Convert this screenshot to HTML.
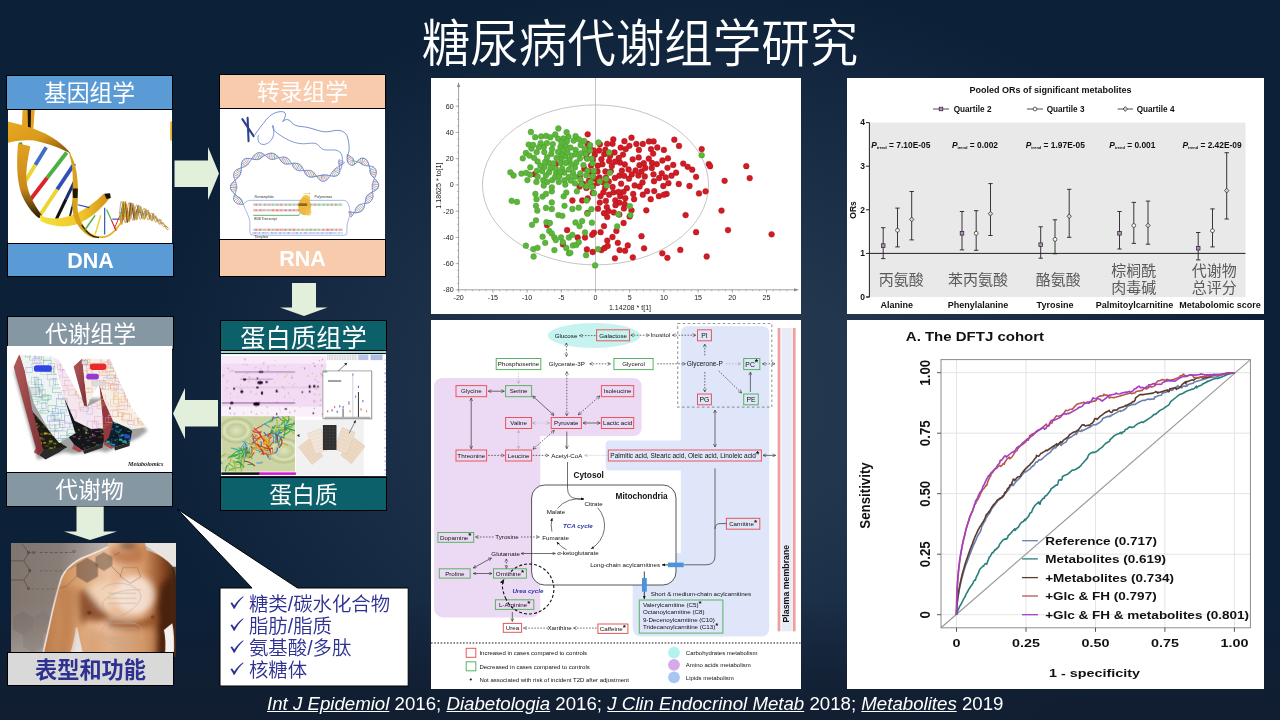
<!DOCTYPE html>
<html lang="zh">
<head>
<meta charset="utf-8">
<title>糖尿病代谢组学研究</title>
<style>
html,body{margin:0;padding:0;}
body{width:1280px;height:720px;overflow:hidden;position:relative;
 font-family:"Liberation Sans","Noto Sans CJK SC",sans-serif;
 background:
  linear-gradient(to bottom, rgba(18,30,48,0) 0, rgba(18,30,48,0) 600px, rgba(18,30,48,.85) 700px),
  radial-gradient(ellipse 560px 420px at 700px 400px, #24384f 0, #22364e 30%, #162a43 70%, #0c2038 100%);
 background-color:#0c2038;}
.abs{position:absolute;box-sizing:border-box;}
.box{position:absolute;box-sizing:border-box;border:1px solid #000;color:#fff;text-align:center;
 font-family:"Liberation Sans","Noto Sans CJK SC",sans-serif;white-space:nowrap;}
.cn{font-size:22.8px;}
.en{font-size:21.5px;font-weight:bold;}
.img{position:absolute;background:#fff;overflow:hidden;}
.panel{position:absolute;background:#fff;overflow:hidden;}
#title{position:absolute;left:0;top:12px;width:1280px;text-align:center;color:#fff;
 font-size:48.5px;font-weight:350;line-height:64px;white-space:nowrap;transform:scaleY(1.06);transform-origin:50% 50%;}
#cap{position:absolute;left:267px;top:693px;color:#fff;font-size:18.67px;line-height:22px;white-space:nowrap;}
#cap i{text-decoration:underline;}
</style>
</head>
<body>
<div id="title">糖尿病代谢组学研究</div>

<!-- LEFT COLUMN -->
<div class="box cn" style="left:6px;top:75px;width:167px;height:35px;background:#5b9bd5;line-height:34px;">基因组学</div>
<div class="img" id="img-dna" style="left:8px;top:110px;width:164px;height:134px;"><svg width="164" height="134" viewBox="15.65 10.44 855.75 699.21" style="position:absolute;left:0;top:0;">
<defs>
<linearGradient id="gd1" x1="0" y1="0" x2="1" y2="1"><stop offset="0" stop-color="#e9a820"/><stop offset="0.5" stop-color="#d99a1c"/><stop offset="1" stop-color="#7a4a08"/></linearGradient>
<linearGradient id="gd2" x1="0" y1="0" x2="0" y2="1"><stop offset="0" stop-color="#e2a11e"/><stop offset="0.6" stop-color="#c98a1a"/><stop offset="1" stop-color="#2a1a05"/></linearGradient>
<linearGradient id="gd3" x1="0" y1="0" x2="1" y2="0"><stop offset="0" stop-color="#f3e23a"/><stop offset="0.6" stop-color="#f0c52a"/><stop offset="1" stop-color="#d28f18"/></linearGradient>
</defs>
<path d="M92 10 L155 10 L148 110 L88 100z" fill="#e4a21e"/>
<path d="M118 10 L136 10 L134 105 L120 100z" fill="#1a1208"/>
<line x1="80" y1="180" x2="90" y2="230" stroke="#3aa63a" stroke-width="18"/>
<line x1="90" y1="230" x2="100" y2="280" stroke="#d8262c" stroke-width="18"/>
<line x1="215" y1="205" x2="158" y2="298" stroke="#3f6fc4" stroke-width="20"/>
<line x1="158" y1="298" x2="100" y2="392" stroke="#ecd531" stroke-width="20"/>
<line x1="322" y1="232" x2="220" y2="364" stroke="#4cb043" stroke-width="20"/>
<line x1="220" y1="364" x2="118" y2="497" stroke="#de2229" stroke-width="20"/>
<line x1="362" y1="290" x2="272" y2="425" stroke="#2f50b8" stroke-width="20"/>
<line x1="272" y1="425" x2="182" y2="560" stroke="#ecd531" stroke-width="20"/>
<line x1="368" y1="372" x2="318" y2="476" stroke="#1c2f7a" stroke-width="16"/>
<line x1="318" y1="476" x2="268" y2="580" stroke="#111111" stroke-width="16"/>
<line x1="372" y1="430" x2="351" y2="515" stroke="#2a8a3a" stroke-width="10"/>
<line x1="351" y1="515" x2="330" y2="600" stroke="#222222" stroke-width="10"/>
<path d="M68 185 C58 300 62 410 100 480 C125 525 150 555 178 575 L192 560 C150 500 120 450 112 380 C108 320 120 260 132 200z" fill="url(#gd2)"/>
<path d="M182 558 C260 598 380 580 515 448 L548 468 C440 605 320 655 185 590z" fill="url(#gd3)"/>
<path d="M518 448 L548 445 L552 470 L530 475z" fill="#1a1006"/>
<path d="M15 70 C120 95 260 130 345 240 C300 215 230 185 150 170 C100 165 50 172 15 182z" fill="url(#gd1)"/>
<path d="M335 232 C385 300 385 430 378 520 C380 580 420 650 480 672 L470 680 C400 660 355 590 352 520 C350 430 365 330 335 240z" fill="#d9a01c"/>
<path d="M352 420 L380 420 L378 470 L355 470z" fill="#20160a"/>
<path d="M400 610 C430 660 470 680 520 672 C560 665 610 610 640 520" fill="none" stroke="#e2b21e" stroke-width="9"/>
<path d="M400 610 C430 660 460 676 490 676" fill="none" stroke="#1a1208" stroke-width="6"/>
<line x1="380" y1="505" x2="410" y2="512" stroke="#2f50b8" stroke-width="6"/>
<line x1="410" y1="512" x2="440" y2="520" stroke="#2f50b8" stroke-width="6"/>
<line x1="470" y1="560" x2="442" y2="600" stroke="#4cb043" stroke-width="8"/>
<line x1="442" y1="600" x2="415" y2="640" stroke="#4cb043" stroke-width="8"/>
<line x1="500" y1="560" x2="485" y2="610" stroke="#ecd531" stroke-width="8"/>
<line x1="485" y1="610" x2="470" y2="660" stroke="#ecd531" stroke-width="8"/>
<line x1="520" y1="520" x2="520" y2="590" stroke="#2f50b8" stroke-width="6"/>
<line x1="520" y1="590" x2="520" y2="660" stroke="#2f50b8" stroke-width="6"/>
<line x1="530" y1="530" x2="555" y2="585" stroke="#4cb043" stroke-width="6"/>
<line x1="555" y1="585" x2="580" y2="640" stroke="#de2229" stroke-width="6"/>
<line x1="560" y1="580" x2="590" y2="580" stroke="#2f50b8" stroke-width="6"/>
<line x1="590" y1="580" x2="620" y2="580" stroke="#2f50b8" stroke-width="6"/>
<line x1="600" y1="560" x2="585" y2="595" stroke="#de2229" stroke-width="5"/>
<line x1="585" y1="595" x2="570" y2="630" stroke="#de2229" stroke-width="5"/>
<line x1="598" y1="548" x2="608" y2="548" stroke="#de2229" stroke-width="5.5" opacity="0.95"/>
<line x1="601" y1="575" x2="611" y2="520" stroke="#4cb043" stroke-width="5.5" opacity="0.94"/>
<line x1="604" y1="596" x2="614" y2="498" stroke="#2f50b8" stroke-width="5.4" opacity="0.94"/>
<line x1="606" y1="607" x2="616" y2="487" stroke="#ecd531" stroke-width="5.4" opacity="0.93"/>
<line x1="609" y1="606" x2="619" y2="487" stroke="#c98a1a" stroke-width="5.3" opacity="0.93"/>
<line x1="612" y1="593" x2="622" y2="499" stroke="#222222" stroke-width="5.3" opacity="0.92"/>
<line x1="615" y1="571" x2="625" y2="520" stroke="#de2229" stroke-width="5.3" opacity="0.92"/>
<line x1="618" y1="545" x2="628" y2="546" stroke="#4cb043" stroke-width="5.2" opacity="0.91"/>
<line x1="621" y1="520" x2="631" y2="570" stroke="#2f50b8" stroke-width="5.2" opacity="0.91"/>
<line x1="623" y1="500" x2="633" y2="589" stroke="#ecd531" stroke-width="5.1" opacity="0.90"/>
<line x1="626" y1="490" x2="636" y2="599" stroke="#c98a1a" stroke-width="5.1" opacity="0.90"/>
<line x1="629" y1="491" x2="639" y2="598" stroke="#222222" stroke-width="5.1" opacity="0.89"/>
<line x1="632" y1="502" x2="642" y2="586" stroke="#de2229" stroke-width="5.0" opacity="0.89"/>
<line x1="635" y1="521" x2="645" y2="566" stroke="#4cb043" stroke-width="5.0" opacity="0.88"/>
<line x1="638" y1="544" x2="648" y2="543" stroke="#2f50b8" stroke-width="4.9" opacity="0.88"/>
<line x1="640" y1="566" x2="650" y2="520" stroke="#ecd531" stroke-width="4.9" opacity="0.87"/>
<line x1="643" y1="583" x2="653" y2="503" stroke="#c98a1a" stroke-width="4.9" opacity="0.87"/>
<line x1="646" y1="592" x2="656" y2="494" stroke="#222222" stroke-width="4.8" opacity="0.86"/>
<line x1="649" y1="591" x2="659" y2="495" stroke="#de2229" stroke-width="4.8" opacity="0.86"/>
<line x1="652" y1="580" x2="662" y2="505" stroke="#4cb043" stroke-width="4.8" opacity="0.85"/>
<line x1="655" y1="563" x2="665" y2="522" stroke="#2f50b8" stroke-width="4.7" opacity="0.85"/>
<line x1="657" y1="542" x2="667" y2="543" stroke="#ecd531" stroke-width="4.7" opacity="0.84"/>
<line x1="660" y1="522" x2="670" y2="563" stroke="#c98a1a" stroke-width="4.6" opacity="0.84"/>
<line x1="663" y1="507" x2="673" y2="578" stroke="#222222" stroke-width="4.6" opacity="0.83"/>
<line x1="666" y1="499" x2="676" y2="586" stroke="#de2229" stroke-width="4.6" opacity="0.83"/>
<line x1="669" y1="500" x2="679" y2="585" stroke="#4cb043" stroke-width="4.5" opacity="0.82"/>
<line x1="672" y1="510" x2="682" y2="576" stroke="#2f50b8" stroke-width="4.5" opacity="0.82"/>
<line x1="674" y1="525" x2="684" y2="561" stroke="#ecd531" stroke-width="4.4" opacity="0.81"/>
<line x1="677" y1="544" x2="687" y2="542" stroke="#c98a1a" stroke-width="4.4" opacity="0.81"/>
<line x1="680" y1="562" x2="690" y2="525" stroke="#222222" stroke-width="4.4" opacity="0.80"/>
<line x1="683" y1="575" x2="693" y2="512" stroke="#de2229" stroke-width="4.3" opacity="0.80"/>
<line x1="686" y1="582" x2="696" y2="505" stroke="#4cb043" stroke-width="4.3" opacity="0.79"/>
<line x1="689" y1="581" x2="699" y2="507" stroke="#2f50b8" stroke-width="4.2" opacity="0.79"/>
<line x1="691" y1="573" x2="701" y2="515" stroke="#ecd531" stroke-width="4.2" opacity="0.78"/>
<line x1="694" y1="560" x2="704" y2="529" stroke="#c98a1a" stroke-width="4.2" opacity="0.78"/>
<line x1="697" y1="544" x2="707" y2="546" stroke="#222222" stroke-width="4.1" opacity="0.77"/>
<line x1="700" y1="529" x2="710" y2="562" stroke="#de2229" stroke-width="4.1" opacity="0.77"/>
<line x1="703" y1="518" x2="713" y2="574" stroke="#4cb043" stroke-width="4.0" opacity="0.76"/>
<line x1="706" y1="513" x2="716" y2="580" stroke="#2f50b8" stroke-width="4.0" opacity="0.76"/>
<line x1="708" y1="515" x2="718" y2="580" stroke="#ecd531" stroke-width="4.0" opacity="0.75"/>
<line x1="711" y1="523" x2="721" y2="573" stroke="#c98a1a" stroke-width="3.9" opacity="0.75"/>
<line x1="714" y1="535" x2="724" y2="562" stroke="#222222" stroke-width="3.9" opacity="0.74"/>
<line x1="717" y1="550" x2="727" y2="548" stroke="#de2229" stroke-width="3.8" opacity="0.74"/>
<line x1="720" y1="564" x2="730" y2="536" stroke="#4cb043" stroke-width="3.8" opacity="0.73"/>
<line x1="723" y1="575" x2="733" y2="527" stroke="#2f50b8" stroke-width="3.8" opacity="0.73"/>
<line x1="725" y1="580" x2="735" y2="523" stroke="#ecd531" stroke-width="3.7" opacity="0.72"/>
<line x1="728" y1="580" x2="738" y2="525" stroke="#c98a1a" stroke-width="3.7" opacity="0.72"/>
<line x1="731" y1="574" x2="741" y2="532" stroke="#222222" stroke-width="3.7" opacity="0.71"/>
<line x1="734" y1="565" x2="744" y2="543" stroke="#de2229" stroke-width="3.6" opacity="0.71"/>
<line x1="737" y1="554" x2="747" y2="556" stroke="#4cb043" stroke-width="3.6" opacity="0.70"/>
<line x1="740" y1="544" x2="750" y2="568" stroke="#2f50b8" stroke-width="3.5" opacity="0.70"/>
<line x1="742" y1="537" x2="752" y2="577" stroke="#ecd531" stroke-width="3.5" opacity="0.69"/>
<line x1="745" y1="534" x2="755" y2="582" stroke="#c98a1a" stroke-width="3.5" opacity="0.69"/>
<line x1="748" y1="536" x2="758" y2="583" stroke="#222222" stroke-width="3.4" opacity="0.68"/>
<line x1="751" y1="543" x2="761" y2="578" stroke="#de2229" stroke-width="3.4" opacity="0.68"/>
<line x1="754" y1="553" x2="764" y2="571" stroke="#4cb043" stroke-width="3.3" opacity="0.67"/>
<line x1="757" y1="564" x2="767" y2="563" stroke="#2f50b8" stroke-width="3.3" opacity="0.67"/>
<line x1="759" y1="575" x2="769" y2="555" stroke="#ecd531" stroke-width="3.3" opacity="0.66"/>
<line x1="762" y1="583" x2="772" y2="549" stroke="#c98a1a" stroke-width="3.2" opacity="0.66"/>
<line x1="765" y1="587" x2="775" y2="548" stroke="#222222" stroke-width="3.2" opacity="0.65"/>
<line x1="768" y1="588" x2="778" y2="550" stroke="#de2229" stroke-width="3.1" opacity="0.65"/>
<line x1="771" y1="585" x2="781" y2="556" stroke="#4cb043" stroke-width="3.1" opacity="0.64"/>
<line x1="774" y1="579" x2="784" y2="565" stroke="#2f50b8" stroke-width="3.1" opacity="0.64"/>
<line x1="776" y1="573" x2="786" y2="574" stroke="#ecd531" stroke-width="3.0" opacity="0.63"/>
<line x1="779" y1="567" x2="789" y2="583" stroke="#c98a1a" stroke-width="3.0" opacity="0.63"/>
<line x1="782" y1="564" x2="792" y2="590" stroke="#222222" stroke-width="2.9" opacity="0.62"/>
<line x1="785" y1="563" x2="795" y2="594" stroke="#de2229" stroke-width="2.9" opacity="0.62"/>
<line x1="788" y1="566" x2="798" y2="595" stroke="#4cb043" stroke-width="2.9" opacity="0.61"/>
<line x1="791" y1="571" x2="801" y2="594" stroke="#2f50b8" stroke-width="2.8" opacity="0.61"/>
<line x1="793" y1="579" x2="803" y2="590" stroke="#ecd531" stroke-width="2.8" opacity="0.60"/>
<line x1="796" y1="587" x2="806" y2="586" stroke="#c98a1a" stroke-width="2.7" opacity="0.60"/>
<line x1="799" y1="594" x2="809" y2="582" stroke="#222222" stroke-width="2.7" opacity="0.59"/>
<line x1="802" y1="600" x2="812" y2="580" stroke="#de2229" stroke-width="2.7" opacity="0.59"/>
<line x1="805" y1="604" x2="815" y2="580" stroke="#4cb043" stroke-width="2.6" opacity="0.58"/>
<line x1="808" y1="606" x2="818" y2="583" stroke="#2f50b8" stroke-width="2.6" opacity="0.58"/>
<line x1="810" y1="605" x2="820" y2="588" stroke="#ecd531" stroke-width="2.6" opacity="0.57"/>
<line x1="813" y1="603" x2="823" y2="595" stroke="#c98a1a" stroke-width="2.5" opacity="0.57"/>
<line x1="816" y1="600" x2="826" y2="601" stroke="#222222" stroke-width="2.5" opacity="0.56"/>
<line x1="819" y1="599" x2="829" y2="608" stroke="#de2229" stroke-width="2.4" opacity="0.56"/>
<line x1="822" y1="598" x2="832" y2="613" stroke="#4cb043" stroke-width="2.4" opacity="0.55"/>
<line x1="825" y1="599" x2="835" y2="617" stroke="#2f50b8" stroke-width="2.4" opacity="0.55"/>
<line x1="827" y1="602" x2="837" y2="619" stroke="#ecd531" stroke-width="2.3" opacity="0.54"/>
<line x1="830" y1="607" x2="840" y2="619" stroke="#c98a1a" stroke-width="2.3" opacity="0.54"/>
<line x1="833" y1="612" x2="843" y2="618" stroke="#222222" stroke-width="2.2" opacity="0.53"/>
<line x1="836" y1="618" x2="846" y2="618" stroke="#de2229" stroke-width="2.2" opacity="0.53"/>
<line x1="839" y1="624" x2="849" y2="617" stroke="#4cb043" stroke-width="2.2" opacity="0.52"/>
<line x1="842" y1="629" x2="852" y2="618" stroke="#2f50b8" stroke-width="2.1" opacity="0.52"/>
<line x1="844" y1="632" x2="854" y2="619" stroke="#ecd531" stroke-width="2.1" opacity="0.51"/>
<line x1="847" y1="634" x2="857" y2="623" stroke="#c98a1a" stroke-width="2.0" opacity="0.51"/>
<line x1="850" y1="636" x2="860" y2="627" stroke="#222222" stroke-width="2.0" opacity="0.50"/>
<path d="M598 548 L600 564 L601 578 L603 590 L604 600 L606 606 L608 608 L609 606 L611 601 L612 592 L614 581 L615 567 L617 553 L619 538 L620 524 L622 511 L623 501 L625 494 L627 490 L628 489 L630 492 L631 498 L633 507 L634 518 L636 531 L638 544 L639 557 L641 568 L642 578 L644 586 L646 591 L647 592 L649 591 L650 587 L652 580 L653 570 L655 560 L657 548 L658 536 L660 525 L661 515 L663 507 L665 502 L666 499 L668 499 L669 501 L671 506 L672 514 L674 523 L676 533 L677 544 L679 554 L680 563 L682 571 L684 577 L685 581 L687 583 L688 582 L690 578 L692 573 L693 566 L695 558 L696 549 L698 540 L699 532 L701 525 L703 519 L704 515 L706 513 L707 513 L709 516 L711 520 L712 526 L714 533 L715 541 L717 550 L718 558 L720 565 L722 571 L723 576 L725 579 L726 581 L728 580 L730 578 L731 574 L733 569 L734 564 L736 558 L737 552 L739 546 L741 541 L742 537 L744 535 L745 534 L747 535 L749 537 L750 541 L752 546 L753 551 L755 557 L756 564 L758 570 L760 575 L761 580 L763 584 L764 587 L766 588 L768 588 L769 587 L771 585 L772 582 L774 578 L776 575 L777 571 L779 568 L780 566 L782 564 L783 563 L785 563 L787 564 L788 566 L790 569 L791 573 L793 577 L795 582 L796 587 L798 591 L799 595 L801 599 L802 601 L804 604 L806 605 L807 606 L809 606 L810 605 L812 604 L814 603 L815 601 L817 600 L818 599 L820 598 L821 598 L823 598 L825 599 L826 601 L828 603 L829 605 L831 608 L833 611 L834 615 L836 618 L837 621 L839 624 L840 627 L842 629 L844 631 L845 633 L847 634 L848 635 L850 636" fill="none" stroke="#d9a01c" stroke-width="6" opacity="0.75"/>
<path d="M598 548 L600 532 L601 517 L603 504 L604 495 L606 488 L608 486 L609 487 L611 492 L612 500 L614 511 L615 524 L617 538 L619 553 L620 566 L622 579 L623 588 L625 595 L627 599 L628 599 L630 596 L631 590 L633 580 L634 569 L636 556 L638 543 L639 530 L641 518 L642 508 L644 500 L646 495 L647 493 L649 494 L650 499 L652 506 L653 515 L655 525 L657 537 L658 549 L660 560 L661 570 L663 578 L665 583 L666 586 L668 587 L669 584 L671 579 L672 572 L674 563 L676 553 L677 542 L679 532 L680 523 L682 515 L684 510 L685 506 L687 505 L688 506 L690 510 L692 516 L693 523 L695 532 L696 541 L698 550 L699 559 L701 567 L703 573 L704 578 L706 580 L707 581 L709 579 L711 575 L712 570 L714 563 L715 556 L717 549 L718 541 L720 535 L722 529 L723 525 L725 523 L726 523 L728 524 L730 527 L731 532 L733 538 L734 545 L736 552 L737 559 L739 566 L741 572 L742 577 L744 581 L745 583 L747 583 L749 582 L750 580 L752 576 L753 572 L755 568 L756 563 L758 558 L760 554 L761 551 L763 549 L764 548 L766 548 L768 550 L769 552 L771 556 L772 561 L774 566 L776 571 L777 577 L779 582 L780 586 L782 590 L783 593 L785 595 L787 595 L788 595 L790 594 L791 593 L793 591 L795 588 L796 586 L798 583 L799 582 L801 580 L802 580 L804 580 L806 581 L807 583 L809 585 L810 588 L812 592 L814 595 L815 599 L817 603 L818 607 L820 610 L821 613 L823 615 L825 617 L826 618 L828 619 L829 619 L831 619 L833 618 L834 618 L836 618 L837 617 L839 617 L840 617 L842 618 L844 619 L845 620 L847 622 L848 624 L850 627" fill="none" stroke="#8a5a10" stroke-width="5" opacity="0.55"/>
<rect x="862" y="70" width="12" height="100" fill="#e9b02a"/>
</svg></div>
<div class="box en" style="left:7px;top:243px;width:167px;height:34px;background:#5b9bd5;line-height:35px;">DNA</div>

<div class="box cn" style="left:219px;top:74px;width:167px;height:35px;background:#f8cbad;line-height:34px;">转录组学</div>
<div class="img" id="img-rna" style="left:220px;top:109px;width:165px;height:131px;"><svg width="165" height="131" viewBox="10.67 10.67 880.27 698.88" style="position:absolute;left:0;top:0;font-family:'Liberation Sans',sans-serif;">
<path d="M130 65 L190 155 M158 58 L163 182" stroke="#2b418f" stroke-width="11" stroke-linecap="round" fill="none"/>
<path d="M195 150 C215 120 240 90 255 70 C280 40 310 22 345 25 C370 30 360 55 345 78 C350 70 375 55 395 85 C420 110 450 100 490 112 C540 125 560 140 610 128 C650 118 685 130 692 165 C700 200 705 230 690 262" fill="none" stroke="#4f70c8" stroke-width="4.2"/>
<path d="M215 150 C205 190 230 210 262 195 C290 180 305 150 295 100 C285 90 290 120 310 135 C350 165 400 195 450 196 C500 197 520 180 545 215 C570 245 620 215 650 240 C670 260 665 300 655 335" fill="none" stroke="#5878cc" stroke-width="4"/>
<line x1="131" y1="509" x2="124" y2="520" stroke="#3a3" stroke-width="3" opacity="0.85"/>
<line x1="127" y1="499" x2="113" y2="518" stroke="#333" stroke-width="3" opacity="0.85"/>
<line x1="122" y1="491" x2="103" y2="516" stroke="#d33" stroke-width="3" opacity="0.85"/>
<line x1="116" y1="485" x2="94" y2="510" stroke="#36c" stroke-width="3" opacity="0.85"/>
<line x1="112" y1="482" x2="86" y2="500" stroke="#d33" stroke-width="3" opacity="0.85"/>
<line x1="106" y1="479" x2="83" y2="488" stroke="#3a3" stroke-width="3" opacity="0.85"/>
<line x1="99" y1="473" x2="85" y2="477" stroke="#333" stroke-width="3" opacity="0.85"/>
<line x1="75" y1="450" x2="97" y2="446" stroke="#d33" stroke-width="3" opacity="0.85"/>
<line x1="69" y1="441" x2="99" y2="437" stroke="#3a3" stroke-width="3" opacity="0.85"/>
<line x1="67" y1="429" x2="100" y2="431" stroke="#333" stroke-width="3" opacity="0.85"/>
<line x1="68" y1="418" x2="100" y2="424" stroke="#d33" stroke-width="3" opacity="0.85"/>
<line x1="73" y1="409" x2="99" y2="415" stroke="#36c" stroke-width="3" opacity="0.85"/>
<line x1="80" y1="401" x2="96" y2="404" stroke="#d33" stroke-width="3" opacity="0.85"/>
<line x1="105" y1="378" x2="84" y2="373" stroke="#d33" stroke-width="3" opacity="0.85"/>
<line x1="111" y1="371" x2="83" y2="361" stroke="#36c" stroke-width="3" opacity="0.85"/>
<line x1="115" y1="366" x2="86" y2="350" stroke="#d33" stroke-width="3" opacity="0.85"/>
<line x1="119" y1="360" x2="92" y2="341" stroke="#3a3" stroke-width="3" opacity="0.85"/>
<line x1="122" y1="351" x2="99" y2="335" stroke="#333" stroke-width="3" opacity="0.85"/>
<line x1="123" y1="341" x2="108" y2="330" stroke="#d33" stroke-width="3" opacity="0.85"/>
<line x1="125" y1="309" x2="139" y2="319" stroke="#3a3" stroke-width="3" opacity="0.85"/>
<line x1="127" y1="299" x2="148" y2="315" stroke="#333" stroke-width="3" opacity="0.85"/>
<line x1="130" y1="289" x2="156" y2="310" stroke="#d33" stroke-width="3" opacity="0.85"/>
<line x1="138" y1="280" x2="160" y2="306" stroke="#36c" stroke-width="3" opacity="0.85"/>
<line x1="149" y1="275" x2="163" y2="301" stroke="#d33" stroke-width="3" opacity="0.85"/>
<line x1="159" y1="274" x2="168" y2="294" stroke="#3a3" stroke-width="3" opacity="0.85"/>
<line x1="191" y1="279" x2="186" y2="267" stroke="#36c" stroke-width="3" opacity="0.85"/>
<line x1="202" y1="281" x2="192" y2="258" stroke="#d33" stroke-width="3" opacity="0.85"/>
<line x1="211" y1="280" x2="199" y2="252" stroke="#3a3" stroke-width="3" opacity="0.85"/>
<line x1="220" y1="278" x2="207" y2="247" stroke="#333" stroke-width="3" opacity="0.85"/>
<line x1="227" y1="274" x2="217" y2="244" stroke="#d33" stroke-width="3" opacity="0.85"/>
<line x1="231" y1="270" x2="229" y2="244" stroke="#36c" stroke-width="3" opacity="0.85"/>
<line x1="238" y1="265" x2="240" y2="249" stroke="#d33" stroke-width="3" opacity="0.85"/>
<line x1="267" y1="250" x2="265" y2="270" stroke="#d33" stroke-width="3" opacity="0.85"/>
<line x1="277" y1="247" x2="273" y2="276" stroke="#36c" stroke-width="3" opacity="0.85"/>
<line x1="286" y1="246" x2="282" y2="279" stroke="#d33" stroke-width="3" opacity="0.85"/>
<line x1="295" y1="248" x2="291" y2="280" stroke="#3a3" stroke-width="3" opacity="0.85"/>
<line x1="304" y1="252" x2="300" y2="279" stroke="#333" stroke-width="3" opacity="0.85"/>
<line x1="313" y1="258" x2="309" y2="276" stroke="#d33" stroke-width="3" opacity="0.85"/>
<line x1="333" y1="284" x2="340" y2="268" stroke="#3a3" stroke-width="3" opacity="0.85"/>
<line x1="339" y1="292" x2="351" y2="267" stroke="#333" stroke-width="3" opacity="0.85"/>
<line x1="346" y1="298" x2="360" y2="268" stroke="#d33" stroke-width="3" opacity="0.85"/>
<line x1="354" y1="302" x2="368" y2="272" stroke="#36c" stroke-width="3" opacity="0.85"/>
<line x1="363" y1="304" x2="376" y2="277" stroke="#d33" stroke-width="3" opacity="0.85"/>
<line x1="373" y1="304" x2="382" y2="285" stroke="#3a3" stroke-width="3" opacity="0.85"/>
<line x1="406" y1="300" x2="399" y2="314" stroke="#36c" stroke-width="3" opacity="0.85"/>
<line x1="417" y1="300" x2="404" y2="322" stroke="#d33" stroke-width="3" opacity="0.85"/>
<line x1="427" y1="302" x2="411" y2="330" stroke="#3a3" stroke-width="3" opacity="0.85"/>
<line x1="435" y1="306" x2="418" y2="335" stroke="#333" stroke-width="3" opacity="0.85"/>
<line x1="442" y1="312" x2="427" y2="339" stroke="#d33" stroke-width="3" opacity="0.85"/>
<line x1="448" y1="320" x2="437" y2="340" stroke="#36c" stroke-width="3" opacity="0.85"/>
<line x1="463" y1="350" x2="470" y2="338" stroke="#333" stroke-width="3" opacity="0.85"/>
<line x1="469" y1="360" x2="480" y2="338" stroke="#d33" stroke-width="3" opacity="0.85"/>
<line x1="477" y1="367" x2="489" y2="338" stroke="#36c" stroke-width="3" opacity="0.85"/>
<line x1="485" y1="372" x2="498" y2="340" stroke="#d33" stroke-width="3" opacity="0.85"/>
<line x1="495" y1="374" x2="505" y2="345" stroke="#3a3" stroke-width="3" opacity="0.85"/>
<line x1="504" y1="374" x2="513" y2="351" stroke="#333" stroke-width="3" opacity="0.85"/>
<line x1="515" y1="372" x2="519" y2="360" stroke="#d33" stroke-width="3" opacity="0.85"/>
<line x1="536" y1="367" x2="532" y2="378" stroke="#d33" stroke-width="3" opacity="0.85"/>
<line x1="547" y1="365" x2="539" y2="386" stroke="#3a3" stroke-width="3" opacity="0.85"/>
<line x1="555" y1="363" x2="548" y2="393" stroke="#333" stroke-width="3" opacity="0.85"/>
<line x1="559" y1="363" x2="561" y2="396" stroke="#d33" stroke-width="3" opacity="0.85"/>
<line x1="563" y1="362" x2="574" y2="393" stroke="#36c" stroke-width="3" opacity="0.85"/>
<line x1="572" y1="362" x2="582" y2="387" stroke="#d33" stroke-width="3" opacity="0.85"/>
<line x1="582" y1="363" x2="589" y2="379" stroke="#3a3" stroke-width="3" opacity="0.85"/>
<line x1="614" y1="369" x2="606" y2="351" stroke="#36c" stroke-width="3" opacity="0.85"/>
<line x1="625" y1="369" x2="612" y2="344" stroke="#d33" stroke-width="3" opacity="0.85"/>
<line x1="637" y1="365" x2="615" y2="340" stroke="#3a3" stroke-width="3" opacity="0.85"/>
<line x1="646" y1="355" x2="618" y2="337" stroke="#333" stroke-width="3" opacity="0.85"/>
<line x1="650" y1="344" x2="624" y2="331" stroke="#d33" stroke-width="3" opacity="0.85"/>
<line x1="650" y1="334" x2="631" y2="325" stroke="#36c" stroke-width="3" opacity="0.85"/>
<line x1="645" y1="301" x2="660" y2="308" stroke="#333" stroke-width="3" opacity="0.85"/>
<line x1="645" y1="290" x2="669" y2="302" stroke="#d33" stroke-width="3" opacity="0.85"/>
<line x1="646" y1="281" x2="675" y2="295" stroke="#36c" stroke-width="3" opacity="0.85"/>
<path d="M135 520 L134 516 L133 513 L131 509 L130 506 L129 502 L127 499 L126 496 L124 493 L122 491 L120 488 L118 486 L116 485 L115 483 L113 482 L112 482 L110 481 L108 481 L106 479 L104 478 L102 476 L99 473 L96 471 L94 468 L91 466 L88 463 L85 461 L83 458 L80 456 L78 453 L75 450 L73 447 L71 444 L69 441 L68 437 L67 433 L67 429 L67 425 L67 421 L68 418 L70 415 L71 412 L73 409 L75 406 L78 403 L80 401 L83 398 L86 396 L88 393 L91 390 L94 388 L97 385 L100 383 L102 380 L105 378 L107 375 L109 373 L111 371 L113 370 L114 368 L115 366 L116 364 L118 362 L119 360 L120 357 L121 354 L122 351 L122 348 L123 345 L123 341 L124 338 L124 334 L124 331 L124 327 L124 323 L124 320 L124 316 L125 312 L125 309 L125 305 L126 302 L127 299 L127 296 L129 292 L130 289 L132 286 L135 283 L138 280 L141 278 L145 276 L149 275 L152 274 L156 274 L159 274 L163 274 L166 274 L170 275 L173 276 L177 276 L181 277 L184 278 L188 279 L191 279 L195 280 L198 280 L202 281 L205 281 L208 281 L211 280 L214 280 L217 279 L220 278 L223 277 L225 276 L227 274 L228 273 L230 271 L231 270 L233 268 L236 266 L238 265 L241 263 L244 261 L248 259 L251 258 L254 256 L258 254 L261 253 L264 251 L267 250 L271 249 L274 248 L277 247 L280 246 L283 246 L286 246 L289 246 L292 247 L295 248 L298 249 L301 250 L304 252 L307 253 L310 255 L313 258 L316 260 L318 263 L321 266 L323 269 L325 272 L327 275 L329 278 L331 281 L333 284 L335 287 L337 289 L339 292 L341 294 L344 296 L346 298 L349 300 L351 301 L354 302 L357 303 L360 304 L363 304 L367 305 L370 305 L373 304 L377 304 L380 304 L384 303 L388 303 L391 302 L395 301 L399 301 L403 300 L406 300 L410 300 L414 300 L417 300 L420 301 L424 301 L427 302 L430 303 L433 304 L435 306 L438 308 L440 310 L442 312 L445 315 L447 317 L448 320 L450 323 L452 327 L454 330 L455 333 L457 337 L458 340 L460 344 L461 347 L463 350 L465 354 L467 357 L469 360 L471 363 L474 365 L477 367 L479 369 L482 371 L485 372 L488 373 L491 374 L495 374 L498 374 L501 374 L504 374 L508 373 L511 373 L515 372 L518 371 L522 370 L526 369 L529 368 L533 368 L536 367 L540 366 L543 365 L547 365 L550 364 L553 364 L555 363 L556 363 L558 363 L559 363 L560 363 L561 363 L563 362 L566 362 L568 362 L572 362 L575 362 L578 363 L582 363 L585 364 L589 365 L593 365 L596 366 L600 367 L604 368 L607 368 L611 369 L614 369 L618 370 L622 370 L625 369 L629 368 L633 367 L637 365 L641 362 L644 358 L646 355 L648 351 L649 348 L650 344 L650 341 L650 338 L650 334 L650 331 L649 327 L649 323 L648 319 L647 316 L647 312 L646 308 L646 305 L645 301 L645 297 L645 294 L645 290 L645 287 L645 284 L646 281" fill="none" stroke="#3f5fb8" stroke-width="4.5"/>
<path d="M135 520 L131 520 L127 520 L124 520 L120 519 L116 519 L113 518 L109 518 L106 517 L103 516 L100 514 L97 512 L94 510 L91 507 L88 504 L86 500 L84 496 L83 492 L83 488 L83 484 L84 480 L85 477 L86 473 L87 470 L89 466 L90 463 L92 459 L93 456 L94 452 L96 449 L97 446 L98 443 L98 440 L99 437 L100 435 L100 433 L100 431 L101 429 L101 426 L100 424 L100 421 L100 418 L99 415 L98 411 L97 408 L96 404 L95 401 L94 397 L92 394 L91 390 L89 387 L88 383 L87 380 L85 376 L84 373 L84 369 L83 365 L83 361 L84 357 L85 353 L86 350 L88 346 L90 343 L92 341 L94 339 L97 337 L99 335 L102 333 L105 332 L108 330 L112 329 L115 328 L119 327 L122 325 L126 324 L129 323 L133 322 L136 321 L139 319 L142 318 L145 317 L148 315 L151 313 L153 312 L156 310 L157 309 L159 307 L160 306 L161 305 L162 303 L163 301 L165 299 L167 297 L168 294 L170 292 L172 289 L174 286 L176 283 L178 279 L180 276 L182 273 L184 270 L186 267 L188 264 L190 261 L192 258 L194 256 L197 254 L199 252 L201 250 L204 248 L207 247 L210 245 L213 244 L217 244 L221 243 L225 243 L229 244 L233 245 L236 247 L240 249 L243 251 L246 253 L248 256 L251 258 L254 261 L256 263 L259 266 L262 268 L265 270 L267 272 L270 274 L273 276 L276 277 L279 279 L282 279 L285 280 L288 280 L291 280 L294 280 L297 280 L300 279 L303 278 L306 277 L309 276 L312 275 L315 273 L319 272 L322 271 L326 270 L329 269 L333 269 L337 268 L340 268 L344 267 L347 267 L351 267 L354 267 L357 268 L360 268 L363 269 L366 270 L368 272 L371 273 L374 275 L376 277 L378 280 L380 282 L382 285 L384 288 L386 291 L388 294 L390 297 L392 301 L394 304 L396 307 L397 310 L399 314 L401 317 L402 320 L404 322 L406 325 L408 328 L411 330 L413 332 L415 334 L418 335 L421 337 L424 338 L427 339 L430 339 L433 340 L437 340 L440 340 L444 340 L448 340 L452 339 L455 339 L459 339 L463 338 L467 338 L470 338 L474 338 L477 338 L480 338 L484 338 L487 338 L489 338 L492 339 L495 339 L498 340 L500 342 L503 343 L505 345 L508 347 L510 349 L513 351 L515 354 L517 357 L519 360 L522 363 L524 366 L526 369 L528 372 L530 375 L532 378 L534 381 L537 384 L539 386 L542 389 L545 391 L548 393 L552 395 L557 396 L561 396 L566 396 L570 395 L574 393 L577 392 L580 390 L582 387 L584 385 L587 382 L589 379 L591 376 L593 373 L595 370 L597 367 L599 364 L600 360 L602 357 L604 354 L606 351 L608 349 L610 346 L612 344 L613 342 L615 341 L615 340 L616 339 L617 338 L618 337 L620 335 L621 333 L624 331 L626 329 L629 327 L631 325 L634 323 L638 321 L641 319 L644 318 L647 316 L651 314 L654 312 L657 310 L660 308 L663 306 L666 304 L669 302 L671 300 L673 297 L675 295" fill="none" stroke="#5575c8" stroke-width="4.5"/>
<line x1="689" y1="266" x2="700" y2="260" stroke="#3a3" stroke-width="3" opacity="0.85"/>
<line x1="689" y1="277" x2="709" y2="265" stroke="#333" stroke-width="3" opacity="0.85"/>
<line x1="690" y1="286" x2="717" y2="271" stroke="#d33" stroke-width="3" opacity="0.85"/>
<line x1="693" y1="296" x2="722" y2="278" stroke="#36c" stroke-width="3" opacity="0.85"/>
<line x1="702" y1="306" x2="723" y2="281" stroke="#d33" stroke-width="3" opacity="0.85"/>
<line x1="718" y1="311" x2="720" y2="283" stroke="#3a3" stroke-width="3" opacity="0.85"/>
<line x1="729" y1="306" x2="725" y2="287" stroke="#333" stroke-width="3" opacity="0.85"/>
<line x1="751" y1="282" x2="755" y2="297" stroke="#d33" stroke-width="3" opacity="0.85"/>
<line x1="760" y1="275" x2="762" y2="301" stroke="#3a3" stroke-width="3" opacity="0.85"/>
<line x1="774" y1="273" x2="765" y2="303" stroke="#333" stroke-width="3" opacity="0.85"/>
<line x1="787" y1="277" x2="768" y2="305" stroke="#d33" stroke-width="3" opacity="0.85"/>
<line x1="794" y1="284" x2="774" y2="309" stroke="#36c" stroke-width="3" opacity="0.85"/>
<line x1="799" y1="293" x2="784" y2="312" stroke="#d33" stroke-width="3" opacity="0.85"/>
<line x1="803" y1="303" x2="794" y2="314" stroke="#3a3" stroke-width="3" opacity="0.85"/>
<line x1="811" y1="334" x2="828" y2="319" stroke="#36c" stroke-width="3" opacity="0.85"/>
<line x1="810" y1="339" x2="838" y2="328" stroke="#d33" stroke-width="3" opacity="0.85"/>
<line x1="811" y1="346" x2="844" y2="338" stroke="#3a3" stroke-width="3" opacity="0.85"/>
<line x1="813" y1="354" x2="845" y2="348" stroke="#333" stroke-width="3" opacity="0.85"/>
<line x1="817" y1="363" x2="844" y2="357" stroke="#d33" stroke-width="3" opacity="0.85"/>
<line x1="824" y1="371" x2="841" y2="367" stroke="#36c" stroke-width="3" opacity="0.85"/>
<line x1="847" y1="394" x2="828" y2="398" stroke="#333" stroke-width="3" opacity="0.85"/>
<line x1="853" y1="403" x2="825" y2="407" stroke="#d33" stroke-width="3" opacity="0.85"/>
<line x1="857" y1="414" x2="823" y2="414" stroke="#36c" stroke-width="3" opacity="0.85"/>
<line x1="855" y1="427" x2="823" y2="418" stroke="#d33" stroke-width="3" opacity="0.85"/>
<line x1="850" y1="437" x2="823" y2="424" stroke="#3a3" stroke-width="3" opacity="0.85"/>
<line x1="842" y1="444" x2="823" y2="434" stroke="#333" stroke-width="3" opacity="0.85"/>
<line x1="813" y1="459" x2="826" y2="466" stroke="#d33" stroke-width="3" opacity="0.85"/>
<line x1="804" y1="465" x2="827" y2="477" stroke="#3a3" stroke-width="3" opacity="0.85"/>
<line x1="797" y1="471" x2="825" y2="486" stroke="#333" stroke-width="3" opacity="0.85"/>
<line x1="792" y1="478" x2="822" y2="495" stroke="#d33" stroke-width="3" opacity="0.85"/>
<line x1="789" y1="486" x2="815" y2="503" stroke="#36c" stroke-width="3" opacity="0.85"/>
<line x1="788" y1="494" x2="806" y2="510" stroke="#d33" stroke-width="3" opacity="0.85"/>
<line x1="786" y1="503" x2="796" y2="513" stroke="#3a3" stroke-width="3" opacity="0.85"/>
<line x1="779" y1="535" x2="763" y2="519" stroke="#36c" stroke-width="3" opacity="0.85"/>
<line x1="775" y1="544" x2="754" y2="522" stroke="#d33" stroke-width="3" opacity="0.85"/>
<line x1="769" y1="552" x2="746" y2="527" stroke="#3a3" stroke-width="3" opacity="0.85"/>
<line x1="762" y1="557" x2="740" y2="534" stroke="#333" stroke-width="3" opacity="0.85"/>
<line x1="752" y1="562" x2="735" y2="542" stroke="#d33" stroke-width="3" opacity="0.85"/>
<line x1="741" y1="564" x2="732" y2="551" stroke="#36c" stroke-width="3" opacity="0.85"/>
<line x1="707" y1="560" x2="716" y2="580" stroke="#333" stroke-width="3" opacity="0.85"/>
<line x1="697" y1="560" x2="709" y2="588" stroke="#d33" stroke-width="3" opacity="0.85"/>
<path d="M690 255 L690 259 L689 262 L689 266 L689 270 L689 273 L689 277 L689 280 L689 283 L690 286 L691 289 L692 293 L693 296 L695 299 L698 302 L702 306 L707 309 L712 310 L718 311 L722 310 L726 308 L729 306 L732 304 L734 302 L736 299 L739 296 L741 293 L743 290 L746 288 L748 285 L751 282 L753 280 L756 277 L760 275 L764 274 L769 273 L774 273 L779 274 L783 275 L787 277 L790 280 L792 282 L794 284 L796 287 L798 290 L799 293 L801 296 L802 299 L803 303 L804 306 L805 310 L806 314 L807 317 L808 321 L809 324 L810 328 L811 331 L811 334 L811 336 L811 338 L810 339 L810 341 L810 343 L811 346 L811 348 L812 351 L813 354 L814 357 L816 360 L817 363 L819 365 L821 368 L824 371 L826 373 L829 376 L831 379 L834 381 L837 384 L839 386 L842 389 L845 392 L847 394 L849 397 L851 400 L853 403 L855 406 L856 410 L857 414 L857 418 L856 423 L855 427 L854 431 L852 434 L850 437 L847 439 L844 442 L842 444 L839 445 L836 447 L832 449 L829 451 L826 452 L823 454 L819 456 L816 457 L813 459 L810 461 L807 463 L804 465 L802 467 L799 469 L797 471 L795 474 L793 476 L792 478 L791 481 L790 483 L789 486 L789 488 L789 491 L788 494 L788 497 L787 500 L786 503 L785 507 L785 510 L784 514 L783 518 L782 521 L782 525 L781 529 L780 532 L779 535 L777 538 L776 541 L775 544 L773 547 L771 549 L769 552 L767 554 L764 556 L762 557 L759 559 L756 560 L752 562 L749 563 L745 563 L741 564 L737 564 L734 564 L730 564 L726 563 L722 562 L718 562 L715 561 L711 560 L707 560 L704 560 L700 560 L697 560" fill="none" stroke="#3f5fb8" stroke-width="4.5"/>
<path d="M690 255 L693 257 L697 258 L700 260 L703 262 L706 263 L709 265 L712 267 L714 269 L717 271 L719 273 L721 276 L722 278 L723 279 L723 280 L723 281 L722 281 L721 282 L720 283 L721 284 L722 285 L725 287 L728 288 L731 289 L734 290 L738 291 L741 293 L744 294 L748 295 L751 296 L755 297 L758 299 L760 300 L762 301 L764 302 L765 303 L765 303 L765 304 L766 305 L768 305 L769 307 L772 308 L774 309 L777 310 L780 311 L784 312 L787 313 L791 314 L794 314 L798 314 L802 315 L805 315 L809 315 L813 316 L817 316 L820 317 L824 318 L828 319 L832 322 L835 325 L838 328 L840 331 L842 335 L844 338 L844 342 L845 345 L845 348 L845 351 L845 354 L844 357 L843 361 L842 364 L841 367 L840 371 L838 374 L837 377 L835 381 L834 384 L832 388 L831 391 L829 394 L828 398 L827 401 L826 404 L825 407 L824 410 L824 412 L823 414 L823 415 L823 416 L823 418 L823 419 L823 422 L823 424 L823 427 L823 430 L823 434 L823 437 L823 441 L824 444 L824 448 L825 452 L825 455 L826 459 L826 463 L826 466 L827 470 L827 473 L827 477 L826 480 L826 483 L825 486 L824 489 L823 492 L822 495 L820 498 L818 500 L815 503 L813 506 L810 508 L806 510 L803 511 L799 512 L796 513 L792 514 L788 514 L785 515 L781 515 L777 516 L774 516 L770 517 L767 518 L763 519 L760 519 L757 521 L754 522 L751 523 L748 525 L746 527 L744 529 L742 531 L740 534 L738 536 L737 539 L735 542 L734 545 L733 548 L732 551 L731 554 L730 557 L728 561 L726 564 L724 567 L722 571 L720 574 L718 577 L716 580 L714 583 L711 585 L709 588" fill="none" stroke="#5575c8" stroke-width="4.5"/>
<path d="M135 520 C150 500 160 498 185 498 H670 C690 498 700 520 705 560 C700 600 690 610 688 640 V672 Q688 684 670 684 H190 Q170 684 170 670 V610 C165 580 150 560 135 520z" fill="none" stroke="#5f80d2" stroke-width="3"/>
<rect x="190" y="515" width="4" height="12" fill="#c44" opacity="0.8"/>
<rect x="197" y="515" width="4" height="12" fill="#777" opacity="0.8"/>
<rect x="204" y="515" width="4" height="12" fill="#c44" opacity="0.8"/>
<rect x="211" y="515" width="4" height="12" fill="#c44" opacity="0.8"/>
<rect x="218" y="515" width="4" height="12" fill="#777" opacity="0.8"/>
<rect x="225" y="515" width="4" height="12" fill="#777" opacity="0.8"/>
<rect x="232" y="515" width="4" height="12" fill="#999" opacity="0.8"/>
<rect x="239" y="515" width="4" height="12" fill="#999" opacity="0.8"/>
<rect x="246" y="515" width="4" height="12" fill="#777" opacity="0.8"/>
<rect x="253" y="515" width="4" height="12" fill="#c44" opacity="0.8"/>
<rect x="260" y="515" width="4" height="12" fill="#777" opacity="0.8"/>
<rect x="267" y="515" width="4" height="12" fill="#999" opacity="0.8"/>
<rect x="274" y="515" width="4" height="12" fill="#4a4" opacity="0.8"/>
<rect x="281" y="515" width="4" height="12" fill="#c44" opacity="0.8"/>
<rect x="288" y="515" width="4" height="12" fill="#4a4" opacity="0.8"/>
<rect x="295" y="515" width="4" height="12" fill="#999" opacity="0.8"/>
<rect x="302" y="515" width="4" height="12" fill="#4a4" opacity="0.8"/>
<rect x="309" y="515" width="4" height="12" fill="#777" opacity="0.8"/>
<rect x="316" y="515" width="4" height="12" fill="#4a4" opacity="0.8"/>
<rect x="323" y="515" width="4" height="12" fill="#777" opacity="0.8"/>
<rect x="330" y="515" width="4" height="12" fill="#c44" opacity="0.8"/>
<rect x="337" y="515" width="4" height="12" fill="#c44" opacity="0.8"/>
<rect x="344" y="515" width="4" height="12" fill="#777" opacity="0.8"/>
<rect x="351" y="515" width="4" height="12" fill="#999" opacity="0.8"/>
<rect x="358" y="515" width="4" height="12" fill="#777" opacity="0.8"/>
<rect x="365" y="515" width="4" height="12" fill="#4a4" opacity="0.8"/>
<rect x="372" y="515" width="4" height="12" fill="#777" opacity="0.8"/>
<rect x="379" y="515" width="4" height="12" fill="#4a4" opacity="0.8"/>
<rect x="386" y="515" width="4" height="12" fill="#4a4" opacity="0.8"/>
<rect x="393" y="515" width="4" height="12" fill="#4a4" opacity="0.8"/>
<rect x="400" y="515" width="4" height="12" fill="#999" opacity="0.8"/>
<rect x="407" y="515" width="4" height="12" fill="#999" opacity="0.8"/>
<rect x="414" y="515" width="4" height="12" fill="#777" opacity="0.8"/>
<rect x="421" y="515" width="4" height="12" fill="#4a4" opacity="0.8"/>
<rect x="428" y="515" width="4" height="12" fill="#c44" opacity="0.8"/>
<rect x="435" y="515" width="4" height="12" fill="#4a4" opacity="0.8"/>
<rect x="442" y="515" width="4" height="12" fill="#c44" opacity="0.8"/>
<rect x="449" y="515" width="4" height="12" fill="#777" opacity="0.8"/>
<rect x="456" y="515" width="4" height="12" fill="#999" opacity="0.8"/>
<rect x="463" y="515" width="4" height="12" fill="#777" opacity="0.8"/>
<rect x="470" y="515" width="4" height="12" fill="#999" opacity="0.8"/>
<rect x="477" y="515" width="4" height="12" fill="#4a4" opacity="0.8"/>
<rect x="484" y="515" width="4" height="12" fill="#c44" opacity="0.8"/>
<rect x="491" y="515" width="4" height="12" fill="#4a4" opacity="0.8"/>
<rect x="498" y="515" width="4" height="12" fill="#4a4" opacity="0.8"/>
<rect x="505" y="515" width="4" height="12" fill="#c44" opacity="0.8"/>
<rect x="512" y="515" width="4" height="12" fill="#4a4" opacity="0.8"/>
<rect x="519" y="515" width="4" height="12" fill="#c44" opacity="0.8"/>
<rect x="526" y="515" width="4" height="12" fill="#777" opacity="0.8"/>
<rect x="533" y="515" width="4" height="12" fill="#4a4" opacity="0.8"/>
<rect x="540" y="515" width="4" height="12" fill="#4a4" opacity="0.8"/>
<rect x="547" y="515" width="4" height="12" fill="#4a4" opacity="0.8"/>
<rect x="554" y="515" width="4" height="12" fill="#999" opacity="0.8"/>
<rect x="561" y="515" width="4" height="12" fill="#777" opacity="0.8"/>
<rect x="568" y="515" width="4" height="12" fill="#4a4" opacity="0.8"/>
<rect x="575" y="515" width="4" height="12" fill="#4a4" opacity="0.8"/>
<rect x="582" y="515" width="4" height="12" fill="#4a4" opacity="0.8"/>
<rect x="589" y="515" width="4" height="12" fill="#777" opacity="0.8"/>
<rect x="596" y="515" width="4" height="12" fill="#4a4" opacity="0.8"/>
<rect x="603" y="515" width="4" height="12" fill="#c44" opacity="0.8"/>
<rect x="610" y="515" width="4" height="12" fill="#4a4" opacity="0.8"/>
<rect x="617" y="515" width="4" height="12" fill="#4a4" opacity="0.8"/>
<rect x="624" y="515" width="4" height="12" fill="#c44" opacity="0.8"/>
<rect x="631" y="515" width="4" height="12" fill="#4a4" opacity="0.8"/>
<rect x="638" y="515" width="4" height="12" fill="#4a4" opacity="0.8"/>
<rect x="645" y="515" width="4" height="12" fill="#4a4" opacity="0.8"/>
<rect x="652" y="515" width="4" height="12" fill="#999" opacity="0.8"/>
<rect x="659" y="515" width="4" height="12" fill="#999" opacity="0.8"/>
<rect x="190" y="545" width="4" height="12" fill="#d33" opacity="0.8"/>
<rect x="197" y="545" width="4" height="12" fill="#c55" opacity="0.8"/>
<rect x="204" y="545" width="4" height="12" fill="#c55" opacity="0.8"/>
<rect x="211" y="545" width="4" height="12" fill="#c55" opacity="0.8"/>
<rect x="218" y="545" width="4" height="12" fill="#c55" opacity="0.8"/>
<rect x="225" y="545" width="4" height="12" fill="#d33" opacity="0.8"/>
<rect x="232" y="545" width="4" height="12" fill="#36c" opacity="0.8"/>
<rect x="239" y="545" width="4" height="12" fill="#d33" opacity="0.8"/>
<rect x="246" y="545" width="4" height="12" fill="#999" opacity="0.8"/>
<rect x="253" y="545" width="4" height="12" fill="#999" opacity="0.8"/>
<rect x="260" y="545" width="4" height="12" fill="#d33" opacity="0.8"/>
<rect x="267" y="545" width="4" height="12" fill="#999" opacity="0.8"/>
<rect x="274" y="545" width="4" height="12" fill="#999" opacity="0.8"/>
<rect x="281" y="545" width="4" height="12" fill="#d33" opacity="0.8"/>
<rect x="288" y="545" width="4" height="12" fill="#c55" opacity="0.8"/>
<rect x="295" y="545" width="4" height="12" fill="#d33" opacity="0.8"/>
<rect x="302" y="545" width="4" height="12" fill="#d33" opacity="0.8"/>
<rect x="309" y="545" width="4" height="12" fill="#d33" opacity="0.8"/>
<rect x="316" y="545" width="4" height="12" fill="#d33" opacity="0.8"/>
<rect x="323" y="545" width="4" height="12" fill="#d33" opacity="0.8"/>
<rect x="330" y="545" width="4" height="12" fill="#d33" opacity="0.8"/>
<rect x="337" y="545" width="4" height="12" fill="#c55" opacity="0.8"/>
<rect x="344" y="545" width="4" height="12" fill="#c55" opacity="0.8"/>
<rect x="351" y="545" width="4" height="12" fill="#d33" opacity="0.8"/>
<rect x="358" y="545" width="4" height="12" fill="#36c" opacity="0.8"/>
<rect x="365" y="545" width="4" height="12" fill="#d33" opacity="0.8"/>
<rect x="372" y="545" width="4" height="12" fill="#c55" opacity="0.8"/>
<rect x="379" y="545" width="4" height="12" fill="#36c" opacity="0.8"/>
<rect x="386" y="545" width="4" height="12" fill="#d33" opacity="0.8"/>
<rect x="393" y="545" width="4" height="12" fill="#d33" opacity="0.8"/>
<rect x="400" y="545" width="4" height="12" fill="#c55" opacity="0.8"/>
<rect x="407" y="545" width="4" height="12" fill="#c55" opacity="0.8"/>
<rect x="414" y="545" width="4" height="12" fill="#d33" opacity="0.8"/>
<rect x="421" y="545" width="4" height="12" fill="#c55" opacity="0.8"/>
<rect x="428" y="545" width="4" height="12" fill="#c55" opacity="0.8"/>
<line x1="188" y1="578" x2="432" y2="578" stroke="#2a9a3a" stroke-width="4"/>
<path d="M432 578 Q442 570 436 548" stroke="#2a9a3a" stroke-width="3" fill="none"/>
<rect x="190" y="649" width="4" height="12" fill="#4a4" opacity="0.8"/>
<rect x="197" y="649" width="4" height="12" fill="#d33" opacity="0.8"/>
<rect x="204" y="649" width="4" height="12" fill="#d33" opacity="0.8"/>
<rect x="211" y="649" width="4" height="12" fill="#c55" opacity="0.8"/>
<rect x="218" y="649" width="4" height="12" fill="#d33" opacity="0.8"/>
<rect x="225" y="649" width="4" height="12" fill="#d33" opacity="0.8"/>
<rect x="232" y="649" width="4" height="12" fill="#4a4" opacity="0.8"/>
<rect x="239" y="649" width="4" height="12" fill="#4a4" opacity="0.8"/>
<rect x="246" y="649" width="4" height="12" fill="#999" opacity="0.8"/>
<rect x="253" y="649" width="4" height="12" fill="#c55" opacity="0.8"/>
<rect x="260" y="649" width="4" height="12" fill="#c55" opacity="0.8"/>
<rect x="267" y="649" width="4" height="12" fill="#d33" opacity="0.8"/>
<rect x="274" y="649" width="4" height="12" fill="#d33" opacity="0.8"/>
<rect x="281" y="649" width="4" height="12" fill="#4a4" opacity="0.8"/>
<rect x="288" y="649" width="4" height="12" fill="#4a4" opacity="0.8"/>
<rect x="295" y="649" width="4" height="12" fill="#999" opacity="0.8"/>
<rect x="302" y="649" width="4" height="12" fill="#d33" opacity="0.8"/>
<rect x="309" y="649" width="4" height="12" fill="#d33" opacity="0.8"/>
<rect x="316" y="649" width="4" height="12" fill="#c55" opacity="0.8"/>
<rect x="323" y="649" width="4" height="12" fill="#d33" opacity="0.8"/>
<rect x="330" y="649" width="4" height="12" fill="#d33" opacity="0.8"/>
<rect x="337" y="649" width="4" height="12" fill="#999" opacity="0.8"/>
<rect x="344" y="649" width="4" height="12" fill="#d33" opacity="0.8"/>
<rect x="351" y="649" width="4" height="12" fill="#d33" opacity="0.8"/>
<rect x="358" y="649" width="4" height="12" fill="#d33" opacity="0.8"/>
<rect x="365" y="649" width="4" height="12" fill="#4a4" opacity="0.8"/>
<rect x="372" y="649" width="4" height="12" fill="#c55" opacity="0.8"/>
<rect x="379" y="649" width="4" height="12" fill="#4a4" opacity="0.8"/>
<rect x="386" y="649" width="4" height="12" fill="#d33" opacity="0.8"/>
<rect x="393" y="649" width="4" height="12" fill="#c55" opacity="0.8"/>
<rect x="400" y="649" width="4" height="12" fill="#d33" opacity="0.8"/>
<rect x="407" y="649" width="4" height="12" fill="#d33" opacity="0.8"/>
<rect x="414" y="649" width="4" height="12" fill="#c55" opacity="0.8"/>
<rect x="421" y="649" width="4" height="12" fill="#999" opacity="0.8"/>
<rect x="428" y="649" width="4" height="12" fill="#4a4" opacity="0.8"/>
<rect x="435" y="649" width="4" height="12" fill="#c55" opacity="0.8"/>
<rect x="442" y="649" width="4" height="12" fill="#999" opacity="0.8"/>
<rect x="449" y="649" width="4" height="12" fill="#c55" opacity="0.8"/>
<rect x="456" y="649" width="4" height="12" fill="#4a4" opacity="0.8"/>
<rect x="463" y="649" width="4" height="12" fill="#999" opacity="0.8"/>
<rect x="470" y="649" width="4" height="12" fill="#4a4" opacity="0.8"/>
<rect x="477" y="649" width="4" height="12" fill="#4a4" opacity="0.8"/>
<rect x="484" y="649" width="4" height="12" fill="#d33" opacity="0.8"/>
<rect x="491" y="649" width="4" height="12" fill="#4a4" opacity="0.8"/>
<rect x="498" y="649" width="4" height="12" fill="#c55" opacity="0.8"/>
<rect x="505" y="649" width="4" height="12" fill="#4a4" opacity="0.8"/>
<rect x="512" y="649" width="4" height="12" fill="#4a4" opacity="0.8"/>
<rect x="519" y="649" width="4" height="12" fill="#4a4" opacity="0.8"/>
<rect x="526" y="649" width="4" height="12" fill="#c55" opacity="0.8"/>
<rect x="533" y="649" width="4" height="12" fill="#4a4" opacity="0.8"/>
<rect x="540" y="649" width="4" height="12" fill="#999" opacity="0.8"/>
<rect x="547" y="649" width="4" height="12" fill="#999" opacity="0.8"/>
<rect x="554" y="649" width="4" height="12" fill="#c55" opacity="0.8"/>
<rect x="561" y="649" width="4" height="12" fill="#d33" opacity="0.8"/>
<rect x="568" y="649" width="4" height="12" fill="#999" opacity="0.8"/>
<rect x="575" y="649" width="4" height="12" fill="#d33" opacity="0.8"/>
<rect x="582" y="649" width="4" height="12" fill="#d33" opacity="0.8"/>
<rect x="589" y="649" width="4" height="12" fill="#d33" opacity="0.8"/>
<rect x="596" y="649" width="4" height="12" fill="#d33" opacity="0.8"/>
<rect x="603" y="649" width="4" height="12" fill="#c55" opacity="0.8"/>
<rect x="610" y="649" width="4" height="12" fill="#d33" opacity="0.8"/>
<rect x="617" y="649" width="4" height="12" fill="#4a4" opacity="0.8"/>
<rect x="624" y="649" width="4" height="12" fill="#999" opacity="0.8"/>
<rect x="631" y="649" width="4" height="12" fill="#d33" opacity="0.8"/>
<rect x="638" y="649" width="4" height="12" fill="#999" opacity="0.8"/>
<rect x="645" y="649" width="4" height="12" fill="#c55" opacity="0.8"/>
<rect x="652" y="649" width="4" height="12" fill="#999" opacity="0.8"/>
<rect x="659" y="649" width="4" height="12" fill="#d33" opacity="0.8"/>
<rect x="185" y="668" width="4" height="8" fill="#4a6cc6" opacity="0.8"/>
<rect x="192" y="668" width="4" height="8" fill="#4a6cc6" opacity="0.8"/>
<rect x="199" y="668" width="4" height="8" fill="#4a6cc6" opacity="0.8"/>
<rect x="206" y="668" width="4" height="8" fill="#4a6cc6" opacity="0.8"/>
<rect x="213" y="668" width="4" height="8" fill="#8aa0e0" opacity="0.8"/>
<rect x="220" y="668" width="4" height="8" fill="#4a6cc6" opacity="0.8"/>
<rect x="227" y="668" width="4" height="8" fill="#8aa0e0" opacity="0.8"/>
<rect x="234" y="668" width="4" height="8" fill="#4a6cc6" opacity="0.8"/>
<rect x="241" y="668" width="4" height="8" fill="#4a6cc6" opacity="0.8"/>
<rect x="248" y="668" width="4" height="8" fill="#4a6cc6" opacity="0.8"/>
<rect x="255" y="668" width="4" height="8" fill="#4a6cc6" opacity="0.8"/>
<rect x="262" y="668" width="4" height="8" fill="#8aa0e0" opacity="0.8"/>
<rect x="269" y="668" width="4" height="8" fill="#8aa0e0" opacity="0.8"/>
<rect x="276" y="668" width="4" height="8" fill="#8aa0e0" opacity="0.8"/>
<rect x="283" y="668" width="4" height="8" fill="#4a6cc6" opacity="0.8"/>
<rect x="290" y="668" width="4" height="8" fill="#4a6cc6" opacity="0.8"/>
<rect x="297" y="668" width="4" height="8" fill="#4a6cc6" opacity="0.8"/>
<rect x="304" y="668" width="4" height="8" fill="#4a6cc6" opacity="0.8"/>
<rect x="311" y="668" width="4" height="8" fill="#8aa0e0" opacity="0.8"/>
<rect x="318" y="668" width="4" height="8" fill="#8aa0e0" opacity="0.8"/>
<rect x="325" y="668" width="4" height="8" fill="#4a6cc6" opacity="0.8"/>
<rect x="332" y="668" width="4" height="8" fill="#4a6cc6" opacity="0.8"/>
<rect x="339" y="668" width="4" height="8" fill="#8aa0e0" opacity="0.8"/>
<rect x="346" y="668" width="4" height="8" fill="#4a6cc6" opacity="0.8"/>
<rect x="353" y="668" width="4" height="8" fill="#8aa0e0" opacity="0.8"/>
<rect x="360" y="668" width="4" height="8" fill="#8aa0e0" opacity="0.8"/>
<rect x="367" y="668" width="4" height="8" fill="#4a6cc6" opacity="0.8"/>
<rect x="374" y="668" width="4" height="8" fill="#4a6cc6" opacity="0.8"/>
<rect x="381" y="668" width="4" height="8" fill="#4a6cc6" opacity="0.8"/>
<rect x="388" y="668" width="4" height="8" fill="#8aa0e0" opacity="0.8"/>
<rect x="395" y="668" width="4" height="8" fill="#8aa0e0" opacity="0.8"/>
<rect x="402" y="668" width="4" height="8" fill="#8aa0e0" opacity="0.8"/>
<rect x="409" y="668" width="4" height="8" fill="#4a6cc6" opacity="0.8"/>
<rect x="416" y="668" width="4" height="8" fill="#4a6cc6" opacity="0.8"/>
<rect x="423" y="668" width="4" height="8" fill="#4a6cc6" opacity="0.8"/>
<rect x="430" y="668" width="4" height="8" fill="#8aa0e0" opacity="0.8"/>
<rect x="437" y="668" width="4" height="8" fill="#4a6cc6" opacity="0.8"/>
<rect x="444" y="668" width="4" height="8" fill="#8aa0e0" opacity="0.8"/>
<rect x="451" y="668" width="4" height="8" fill="#8aa0e0" opacity="0.8"/>
<rect x="458" y="668" width="4" height="8" fill="#4a6cc6" opacity="0.8"/>
<rect x="465" y="668" width="4" height="8" fill="#4a6cc6" opacity="0.8"/>
<rect x="472" y="668" width="4" height="8" fill="#4a6cc6" opacity="0.8"/>
<rect x="479" y="668" width="4" height="8" fill="#8aa0e0" opacity="0.8"/>
<rect x="486" y="668" width="4" height="8" fill="#8aa0e0" opacity="0.8"/>
<rect x="493" y="668" width="4" height="8" fill="#4a6cc6" opacity="0.8"/>
<rect x="500" y="668" width="4" height="8" fill="#4a6cc6" opacity="0.8"/>
<rect x="507" y="668" width="4" height="8" fill="#8aa0e0" opacity="0.8"/>
<rect x="514" y="668" width="4" height="8" fill="#8aa0e0" opacity="0.8"/>
<rect x="521" y="668" width="4" height="8" fill="#4a6cc6" opacity="0.8"/>
<rect x="528" y="668" width="4" height="8" fill="#8aa0e0" opacity="0.8"/>
<rect x="535" y="668" width="4" height="8" fill="#4a6cc6" opacity="0.8"/>
<rect x="542" y="668" width="4" height="8" fill="#8aa0e0" opacity="0.8"/>
<rect x="549" y="668" width="4" height="8" fill="#4a6cc6" opacity="0.8"/>
<rect x="556" y="668" width="4" height="8" fill="#8aa0e0" opacity="0.8"/>
<rect x="563" y="668" width="4" height="8" fill="#4a6cc6" opacity="0.8"/>
<rect x="570" y="668" width="4" height="8" fill="#8aa0e0" opacity="0.8"/>
<rect x="577" y="668" width="4" height="8" fill="#8aa0e0" opacity="0.8"/>
<rect x="584" y="668" width="4" height="8" fill="#4a6cc6" opacity="0.8"/>
<rect x="591" y="668" width="4" height="8" fill="#4a6cc6" opacity="0.8"/>
<rect x="598" y="668" width="4" height="8" fill="#4a6cc6" opacity="0.8"/>
<rect x="605" y="668" width="4" height="8" fill="#4a6cc6" opacity="0.8"/>
<rect x="612" y="668" width="4" height="8" fill="#4a6cc6" opacity="0.8"/>
<rect x="619" y="668" width="4" height="8" fill="#8aa0e0" opacity="0.8"/>
<rect x="626" y="668" width="4" height="8" fill="#8aa0e0" opacity="0.8"/>
<rect x="633" y="668" width="4" height="8" fill="#8aa0e0" opacity="0.8"/>
<rect x="640" y="668" width="4" height="8" fill="#8aa0e0" opacity="0.8"/>
<rect x="647" y="668" width="4" height="8" fill="#8aa0e0" opacity="0.8"/>
<rect x="654" y="668" width="4" height="8" fill="#8aa0e0" opacity="0.8"/>
<rect x="661" y="668" width="4" height="8" fill="#8aa0e0" opacity="0.8"/>
<ellipse cx="462" cy="530" rx="34" ry="48" fill="#e9ab22" opacity="0.85"/><ellipse cx="470" cy="490" rx="22" ry="20" fill="#edb836" opacity="0.8"/><ellipse cx="482" cy="560" rx="16" ry="20" fill="#efc24a" opacity="0.8"/>
<path d="M455 462 H492 l-6 -5 m6 5 l-6 5" stroke="#e9a020" stroke-width="2.5" fill="none"/>
<rect x="430" y="514" width="45" height="14" fill="#7a4a18" opacity="0.75"/>
<g font-size="17" font-style="italic" font-weight="bold" fill="#444" opacity="0.8"><text x="195" y="484">Nontemplate</text><text x="515" y="484">Polymerase</text><text x="192" y="605">RNA Transcript</text><text x="195" y="700">Template</text></g>
</svg></div>
<div class="box en" style="left:219px;top:239px;width:167px;height:38px;background:#f8cbad;line-height:38px;">RNA</div>

<div class="box cn" style="left:7px;top:316px;width:167px;height:34px;background:#8497a3;line-height:34px;">代谢组学</div>
<div class="img" id="img-m" style="left:7px;top:346px;width:165px;height:126px;"><svg width="165" height="126" viewBox="11.08 11.08 914.27 698.17" style="position:absolute;left:0;top:0;">
<defs><filter id="mb" x="-20%" y="-20%" width="140%" height="140%"><feGaussianBlur stdDeviation="9"/></filter>
<linearGradient id="mr" x1="0" y1="0" x2="1" y2="1"><stop offset="0" stop-color="#b25a5a"/><stop offset="1" stop-color="#7c2f33"/></linearGradient>
<clipPath id="cl1"><path d="M82 60 L268 70 L292 200 L338 330 L390 495 L300 548 L245 480 L160 330 L112 150z"/></clipPath>
<clipPath id="cl2"><path d="M430 80 L582 86 L640 220 L700 350 L782 462 L700 472 L600 430 L548 310 L522 215 L455 345 L440 200z"/></clipPath>
<clipPath id="cl3"><path d="M268 72 L300 92 L450 350 L545 300 L600 430 L560 462 L480 472 L385 425 L330 300z"/></clipPath>
</defs>
<g filter="url(#mb)" opacity="0.55"><path d="M45 140 L180 640 L330 600 L380 610 L520 590 L560 600 L740 520 L790 480 L700 380 L600 300 L400 300 L200 300z" fill="#555"/></g>
<clipPath id="c905035"><path d="M140 360 L300 545 L345 572 L225 605 L190 612 z"/></clipPath>
<g clip-path="url(#c905035)"><rect x="140" y="360" width="205" height="252" fill="#1c1c14"/>
<rect x="334" y="374" width="7" height="13" fill="#90a030" opacity="0.85"/>
<rect x="306" y="575" width="10" height="7" fill="#7a8a20" opacity="0.85"/>
<rect x="259" y="400" width="13" height="9" fill="#90a030" opacity="0.85"/>
<rect x="316" y="488" width="12" height="13" fill="#202020" opacity="0.85"/>
<rect x="195" y="369" width="6" height="9" fill="#c8b838" opacity="0.85"/>
<rect x="326" y="467" width="20" height="6" fill="#3a5a18" opacity="0.85"/>
<rect x="188" y="366" width="11" height="6" fill="#202020" opacity="0.85"/>
<rect x="214" y="489" width="15" height="14" fill="#604018" opacity="0.85"/>
<rect x="303" y="545" width="21" height="12" fill="#202020" opacity="0.85"/>
<rect x="213" y="607" width="21" height="6" fill="#604018" opacity="0.85"/>
<rect x="287" y="476" width="14" height="9" fill="#604018" opacity="0.85"/>
<rect x="243" y="570" width="12" height="13" fill="#604018" opacity="0.85"/>
<rect x="212" y="543" width="15" height="9" fill="#90a030" opacity="0.85"/>
<rect x="185" y="442" width="17" height="6" fill="#202020" opacity="0.85"/>
<rect x="195" y="590" width="11" height="14" fill="#90a030" opacity="0.85"/>
<rect x="310" y="502" width="14" height="11" fill="#604018" opacity="0.85"/>
<rect x="204" y="412" width="14" height="13" fill="#202020" opacity="0.85"/>
<rect x="321" y="558" width="11" height="5" fill="#3a5a18" opacity="0.85"/>
<rect x="344" y="387" width="15" height="5" fill="#202020" opacity="0.85"/>
<rect x="186" y="581" width="8" height="10" fill="#c8b838" opacity="0.85"/>
<rect x="190" y="413" width="20" height="9" fill="#90a030" opacity="0.85"/>
<rect x="296" y="374" width="12" height="7" fill="#7a8a20" opacity="0.85"/>
<rect x="157" y="601" width="6" height="12" fill="#7a8a20" opacity="0.85"/>
<rect x="216" y="392" width="21" height="12" fill="#202020" opacity="0.85"/>
<rect x="282" y="457" width="7" height="14" fill="#3a5a18" opacity="0.85"/>
<rect x="339" y="361" width="21" height="11" fill="#90a030" opacity="0.85"/>
<rect x="163" y="445" width="6" height="9" fill="#202020" opacity="0.85"/>
<rect x="292" y="587" width="18" height="13" fill="#90a030" opacity="0.85"/>
<rect x="171" y="602" width="7" height="11" fill="#7a8a20" opacity="0.85"/>
<rect x="145" y="559" width="21" height="10" fill="#604018" opacity="0.85"/>
<rect x="240" y="443" width="20" height="8" fill="#c8b838" opacity="0.85"/>
<rect x="264" y="466" width="6" height="10" fill="#3a5a18" opacity="0.85"/>
<rect x="277" y="424" width="8" height="7" fill="#604018" opacity="0.85"/>
<rect x="270" y="488" width="22" height="13" fill="#3a5a18" opacity="0.85"/>
<rect x="188" y="472" width="10" height="10" fill="#202020" opacity="0.85"/>
<rect x="302" y="517" width="12" height="11" fill="#c8b838" opacity="0.85"/>
<rect x="248" y="361" width="7" height="9" fill="#7a8a20" opacity="0.85"/>
<rect x="245" y="382" width="8" height="5" fill="#3a5a18" opacity="0.85"/>
<rect x="162" y="366" width="17" height="9" fill="#202020" opacity="0.85"/>
<rect x="272" y="414" width="21" height="14" fill="#90a030" opacity="0.85"/>
<rect x="305" y="467" width="6" height="10" fill="#604018" opacity="0.85"/>
<rect x="330" y="506" width="21" height="11" fill="#604018" opacity="0.85"/>
<rect x="215" y="491" width="21" height="10" fill="#c8b838" opacity="0.85"/>
<rect x="282" y="595" width="11" height="13" fill="#604018" opacity="0.85"/>
<rect x="161" y="437" width="19" height="11" fill="#7a8a20" opacity="0.85"/>
<rect x="306" y="375" width="16" height="9" fill="#202020" opacity="0.85"/>
<rect x="266" y="361" width="6" height="8" fill="#90a030" opacity="0.85"/>
<rect x="156" y="550" width="9" height="10" fill="#604018" opacity="0.85"/>
<rect x="287" y="395" width="12" height="13" fill="#c8b838" opacity="0.85"/>
<rect x="165" y="380" width="20" height="11" fill="#3a5a18" opacity="0.85"/>
<rect x="282" y="366" width="17" height="12" fill="#90a030" opacity="0.85"/>
<rect x="285" y="433" width="21" height="6" fill="#c8b838" opacity="0.85"/>
<rect x="195" y="493" width="14" height="14" fill="#604018" opacity="0.85"/>
<rect x="331" y="571" width="11" height="7" fill="#604018" opacity="0.85"/>
<rect x="262" y="498" width="17" height="11" fill="#7a8a20" opacity="0.85"/>
<rect x="260" y="566" width="8" height="8" fill="#202020" opacity="0.85"/>
<rect x="170" y="465" width="7" height="6" fill="#90a030" opacity="0.85"/>
<rect x="343" y="523" width="8" height="8" fill="#3a5a18" opacity="0.85"/>
<rect x="285" y="583" width="11" height="7" fill="#c8b838" opacity="0.85"/>
<rect x="163" y="496" width="21" height="12" fill="#7a8a20" opacity="0.85"/>
<rect x="207" y="423" width="14" height="7" fill="#3a5a18" opacity="0.85"/>
<rect x="234" y="537" width="12" height="14" fill="#202020" opacity="0.85"/>
<rect x="289" y="478" width="18" height="12" fill="#604018" opacity="0.85"/>
<rect x="321" y="405" width="14" height="9" fill="#604018" opacity="0.85"/>
<rect x="192" y="544" width="13" height="11" fill="#c8b838" opacity="0.85"/>
<rect x="337" y="443" width="18" height="11" fill="#90a030" opacity="0.85"/>
<rect x="186" y="517" width="12" height="11" fill="#90a030" opacity="0.85"/>
<rect x="328" y="439" width="14" height="13" fill="#604018" opacity="0.85"/>
<rect x="273" y="566" width="6" height="13" fill="#90a030" opacity="0.85"/>
<rect x="257" y="457" width="9" height="14" fill="#604018" opacity="0.85"/>
<rect x="307" y="553" width="9" height="12" fill="#202020" opacity="0.85"/>
<rect x="259" y="483" width="16" height="5" fill="#90a030" opacity="0.85"/>
<rect x="229" y="424" width="15" height="9" fill="#3a5a18" opacity="0.85"/>
<rect x="339" y="552" width="12" height="13" fill="#202020" opacity="0.85"/>
<rect x="312" y="526" width="18" height="9" fill="#90a030" opacity="0.85"/>
<rect x="329" y="476" width="20" height="9" fill="#7a8a20" opacity="0.85"/>
<rect x="266" y="448" width="18" height="13" fill="#604018" opacity="0.85"/>
<rect x="192" y="518" width="19" height="11" fill="#7a8a20" opacity="0.85"/>
<rect x="173" y="456" width="13" height="8" fill="#7a8a20" opacity="0.85"/>
<rect x="198" y="478" width="6" height="5" fill="#604018" opacity="0.85"/>
<rect x="256" y="412" width="17" height="9" fill="#3a5a18" opacity="0.85"/>
<rect x="239" y="496" width="21" height="6" fill="#c8b838" opacity="0.85"/>
<rect x="202" y="523" width="19" height="11" fill="#604018" opacity="0.85"/>
<rect x="246" y="592" width="14" height="7" fill="#202020" opacity="0.85"/>
<rect x="249" y="574" width="19" height="11" fill="#c8b838" opacity="0.85"/>
<rect x="148" y="599" width="15" height="10" fill="#7a8a20" opacity="0.85"/>
<rect x="336" y="388" width="19" height="8" fill="#c8b838" opacity="0.85"/>
<rect x="184" y="450" width="11" height="8" fill="#604018" opacity="0.85"/>
<rect x="231" y="434" width="20" height="13" fill="#604018" opacity="0.85"/>
<rect x="343" y="414" width="10" height="6" fill="#3a5a18" opacity="0.85"/>
<rect x="236" y="550" width="20" height="7" fill="#3a5a18" opacity="0.85"/>
<rect x="303" y="419" width="19" height="11" fill="#604018" opacity="0.85"/>
<rect x="306" y="549" width="10" height="11" fill="#202020" opacity="0.85"/>
<rect x="243" y="534" width="21" height="12" fill="#90a030" opacity="0.85"/>
<rect x="318" y="596" width="18" height="14" fill="#c8b838" opacity="0.85"/>
<rect x="249" y="521" width="7" height="8" fill="#604018" opacity="0.85"/>
<rect x="176" y="601" width="12" height="9" fill="#3a5a18" opacity="0.85"/>
<rect x="205" y="456" width="21" height="6" fill="#3a5a18" opacity="0.85"/>
<rect x="214" y="591" width="20" height="12" fill="#604018" opacity="0.85"/>
<rect x="142" y="441" width="19" height="10" fill="#202020" opacity="0.85"/>
<rect x="198" y="521" width="8" height="8" fill="#604018" opacity="0.85"/>
<rect x="159" y="396" width="9" height="7" fill="#604018" opacity="0.85"/>
<rect x="214" y="382" width="9" height="11" fill="#90a030" opacity="0.85"/>
<rect x="265" y="445" width="12" height="12" fill="#7a8a20" opacity="0.85"/>
<rect x="317" y="405" width="7" height="9" fill="#c8b838" opacity="0.85"/>
<rect x="167" y="492" width="20" height="8" fill="#90a030" opacity="0.85"/>
<rect x="265" y="459" width="22" height="9" fill="#604018" opacity="0.85"/>
<rect x="240" y="580" width="15" height="11" fill="#7a8a20" opacity="0.85"/>
<rect x="261" y="496" width="22" height="14" fill="#90a030" opacity="0.85"/>
<rect x="233" y="464" width="14" height="5" fill="#7a8a20" opacity="0.85"/>
<rect x="233" y="509" width="8" height="13" fill="#202020" opacity="0.85"/>
<rect x="328" y="379" width="11" height="12" fill="#7a8a20" opacity="0.85"/>
<rect x="192" y="529" width="10" height="5" fill="#604018" opacity="0.85"/>
<rect x="277" y="383" width="22" height="11" fill="#7a8a20" opacity="0.85"/>
<rect x="316" y="480" width="7" height="6" fill="#7a8a20" opacity="0.85"/>
<rect x="168" y="487" width="7" height="7" fill="#7a8a20" opacity="0.85"/>
<rect x="309" y="492" width="17" height="13" fill="#3a5a18" opacity="0.85"/>
<rect x="216" y="360" width="15" height="7" fill="#604018" opacity="0.85"/>
<rect x="183" y="373" width="9" height="8" fill="#202020" opacity="0.85"/>
<rect x="273" y="459" width="21" height="10" fill="#90a030" opacity="0.85"/>
<rect x="173" y="387" width="19" height="11" fill="#3a5a18" opacity="0.85"/>
<rect x="176" y="411" width="11" height="6" fill="#3a5a18" opacity="0.85"/>
<rect x="222" y="561" width="19" height="10" fill="#604018" opacity="0.85"/>
<rect x="196" y="493" width="14" height="8" fill="#604018" opacity="0.85"/>
<rect x="284" y="536" width="17" height="5" fill="#202020" opacity="0.85"/>
<rect x="294" y="414" width="12" height="5" fill="#3a5a18" opacity="0.85"/>
<rect x="268" y="547" width="17" height="9" fill="#7a8a20" opacity="0.85"/>
<rect x="291" y="577" width="10" height="6" fill="#c8b838" opacity="0.85"/>
<rect x="148" y="409" width="8" height="11" fill="#202020" opacity="0.85"/>
<rect x="328" y="552" width="7" height="11" fill="#604018" opacity="0.85"/>
<rect x="269" y="603" width="9" height="8" fill="#c8b838" opacity="0.85"/>
<rect x="314" y="491" width="7" height="13" fill="#90a030" opacity="0.85"/>
<rect x="288" y="475" width="17" height="6" fill="#90a030" opacity="0.85"/>
<rect x="291" y="598" width="6" height="9" fill="#c8b838" opacity="0.85"/>
<rect x="250" y="459" width="14" height="13" fill="#3a5a18" opacity="0.85"/>
<rect x="228" y="392" width="9" height="13" fill="#604018" opacity="0.85"/>
<rect x="339" y="456" width="16" height="11" fill="#202020" opacity="0.85"/>
<rect x="238" y="408" width="14" height="10" fill="#c8b838" opacity="0.85"/>
<rect x="155" y="453" width="16" height="9" fill="#202020" opacity="0.85"/>
<rect x="274" y="505" width="8" height="13" fill="#3a5a18" opacity="0.85"/>
</g>
<clipPath id="c561295"><path d="M290 250 L420 430 L560 480 L545 552 L432 592 L385 560 L320 470 z"/></clipPath>
<g clip-path="url(#c561295)"><rect x="290" y="250" width="270" height="342" fill="#15151a"/>
<rect x="516" y="352" width="6" height="13" fill="#7a3a8a" opacity="0.85"/>
<rect x="558" y="270" width="15" height="12" fill="#608030" opacity="0.85"/>
<rect x="383" y="401" width="13" height="13" fill="#2a6a3a" opacity="0.85"/>
<rect x="366" y="446" width="9" height="6" fill="#803030" opacity="0.85"/>
<rect x="391" y="272" width="15" height="13" fill="#608030" opacity="0.85"/>
<rect x="312" y="414" width="19" height="7" fill="#101010" opacity="0.85"/>
<rect x="371" y="580" width="21" height="7" fill="#608030" opacity="0.85"/>
<rect x="539" y="365" width="16" height="9" fill="#204060" opacity="0.85"/>
<rect x="353" y="323" width="7" height="11" fill="#7a3a8a" opacity="0.85"/>
<rect x="545" y="500" width="19" height="6" fill="#204060" opacity="0.85"/>
<rect x="396" y="412" width="12" height="7" fill="#7a3a8a" opacity="0.85"/>
<rect x="305" y="430" width="20" height="10" fill="#101010" opacity="0.85"/>
<rect x="472" y="268" width="17" height="9" fill="#101010" opacity="0.85"/>
<rect x="364" y="375" width="12" height="13" fill="#204060" opacity="0.85"/>
<rect x="447" y="491" width="18" height="7" fill="#2a6a3a" opacity="0.85"/>
<rect x="298" y="264" width="16" height="7" fill="#7a3a8a" opacity="0.85"/>
<rect x="435" y="461" width="16" height="13" fill="#2a6a3a" opacity="0.85"/>
<rect x="463" y="435" width="17" height="6" fill="#608030" opacity="0.85"/>
<rect x="328" y="356" width="17" height="9" fill="#101010" opacity="0.85"/>
<rect x="386" y="366" width="21" height="10" fill="#2a6a3a" opacity="0.85"/>
<rect x="454" y="369" width="19" height="13" fill="#b8a040" opacity="0.85"/>
<rect x="507" y="556" width="14" height="14" fill="#2a6a3a" opacity="0.85"/>
<rect x="302" y="398" width="16" height="8" fill="#101010" opacity="0.85"/>
<rect x="483" y="545" width="7" height="10" fill="#101010" opacity="0.85"/>
<rect x="498" y="397" width="10" height="7" fill="#101010" opacity="0.85"/>
<rect x="302" y="453" width="21" height="12" fill="#608030" opacity="0.85"/>
<rect x="339" y="257" width="20" height="14" fill="#101010" opacity="0.85"/>
<rect x="503" y="556" width="12" height="13" fill="#2a6a3a" opacity="0.85"/>
<rect x="541" y="562" width="10" height="10" fill="#2a6a3a" opacity="0.85"/>
<rect x="292" y="389" width="14" height="8" fill="#608030" opacity="0.85"/>
<rect x="350" y="430" width="22" height="13" fill="#204060" opacity="0.85"/>
<rect x="537" y="293" width="13" height="9" fill="#b8a040" opacity="0.85"/>
<rect x="304" y="578" width="9" height="12" fill="#204060" opacity="0.85"/>
<rect x="452" y="531" width="20" height="9" fill="#204060" opacity="0.85"/>
<rect x="451" y="294" width="12" height="5" fill="#608030" opacity="0.85"/>
<rect x="341" y="302" width="13" height="11" fill="#204060" opacity="0.85"/>
<rect x="417" y="314" width="13" height="12" fill="#b8a040" opacity="0.85"/>
<rect x="493" y="576" width="19" height="11" fill="#2a6a3a" opacity="0.85"/>
<rect x="405" y="568" width="6" height="13" fill="#204060" opacity="0.85"/>
<rect x="444" y="485" width="10" height="11" fill="#b8a040" opacity="0.85"/>
<rect x="431" y="462" width="21" height="7" fill="#803030" opacity="0.85"/>
<rect x="434" y="408" width="21" height="12" fill="#204060" opacity="0.85"/>
<rect x="320" y="484" width="10" height="14" fill="#608030" opacity="0.85"/>
<rect x="549" y="290" width="16" height="11" fill="#204060" opacity="0.85"/>
<rect x="314" y="504" width="19" height="9" fill="#803030" opacity="0.85"/>
<rect x="482" y="503" width="21" height="10" fill="#7a3a8a" opacity="0.85"/>
<rect x="330" y="477" width="16" height="9" fill="#204060" opacity="0.85"/>
<rect x="481" y="497" width="9" height="7" fill="#b8a040" opacity="0.85"/>
<rect x="444" y="388" width="16" height="12" fill="#b8a040" opacity="0.85"/>
<rect x="471" y="478" width="12" height="5" fill="#204060" opacity="0.85"/>
<rect x="317" y="254" width="19" height="8" fill="#b8a040" opacity="0.85"/>
<rect x="488" y="311" width="19" height="8" fill="#2a6a3a" opacity="0.85"/>
<rect x="432" y="414" width="16" height="7" fill="#2a6a3a" opacity="0.85"/>
<rect x="453" y="368" width="11" height="6" fill="#608030" opacity="0.85"/>
<rect x="304" y="363" width="14" height="13" fill="#2a6a3a" opacity="0.85"/>
<rect x="526" y="468" width="15" height="7" fill="#101010" opacity="0.85"/>
<rect x="378" y="364" width="18" height="9" fill="#101010" opacity="0.85"/>
<rect x="486" y="409" width="10" height="10" fill="#101010" opacity="0.85"/>
<rect x="389" y="374" width="12" height="12" fill="#7a3a8a" opacity="0.85"/>
<rect x="436" y="472" width="16" height="7" fill="#204060" opacity="0.85"/>
<rect x="354" y="545" width="15" height="10" fill="#7a3a8a" opacity="0.85"/>
<rect x="290" y="512" width="18" height="11" fill="#608030" opacity="0.85"/>
<rect x="344" y="489" width="21" height="13" fill="#101010" opacity="0.85"/>
<rect x="292" y="501" width="21" height="14" fill="#7a3a8a" opacity="0.85"/>
<rect x="290" y="279" width="18" height="7" fill="#7a3a8a" opacity="0.85"/>
<rect x="364" y="461" width="6" height="8" fill="#2a6a3a" opacity="0.85"/>
<rect x="372" y="445" width="14" height="6" fill="#204060" opacity="0.85"/>
<rect x="337" y="525" width="20" height="9" fill="#608030" opacity="0.85"/>
<rect x="307" y="301" width="14" height="6" fill="#803030" opacity="0.85"/>
<rect x="532" y="492" width="11" height="13" fill="#101010" opacity="0.85"/>
<rect x="530" y="321" width="13" height="6" fill="#101010" opacity="0.85"/>
<rect x="373" y="566" width="20" height="11" fill="#204060" opacity="0.85"/>
<rect x="502" y="303" width="10" height="11" fill="#608030" opacity="0.85"/>
<rect x="373" y="489" width="8" height="7" fill="#803030" opacity="0.85"/>
<rect x="539" y="260" width="8" height="6" fill="#803030" opacity="0.85"/>
<rect x="309" y="527" width="20" height="14" fill="#608030" opacity="0.85"/>
<rect x="456" y="370" width="21" height="12" fill="#7a3a8a" opacity="0.85"/>
<rect x="374" y="510" width="18" height="8" fill="#7a3a8a" opacity="0.85"/>
<rect x="484" y="544" width="18" height="6" fill="#608030" opacity="0.85"/>
<rect x="423" y="393" width="12" height="11" fill="#b8a040" opacity="0.85"/>
<rect x="307" y="464" width="21" height="6" fill="#803030" opacity="0.85"/>
<rect x="314" y="299" width="20" height="11" fill="#b8a040" opacity="0.85"/>
<rect x="500" y="482" width="21" height="6" fill="#7a3a8a" opacity="0.85"/>
<rect x="444" y="516" width="10" height="8" fill="#2a6a3a" opacity="0.85"/>
<rect x="526" y="478" width="9" height="11" fill="#2a6a3a" opacity="0.85"/>
<rect x="515" y="364" width="21" height="11" fill="#b8a040" opacity="0.85"/>
<rect x="540" y="430" width="8" height="13" fill="#7a3a8a" opacity="0.85"/>
<rect x="475" y="379" width="13" height="12" fill="#7a3a8a" opacity="0.85"/>
<rect x="461" y="460" width="17" height="6" fill="#101010" opacity="0.85"/>
<rect x="515" y="496" width="9" height="11" fill="#101010" opacity="0.85"/>
<rect x="472" y="275" width="21" height="6" fill="#7a3a8a" opacity="0.85"/>
<rect x="354" y="406" width="12" height="6" fill="#7a3a8a" opacity="0.85"/>
<rect x="303" y="287" width="6" height="6" fill="#803030" opacity="0.85"/>
<rect x="360" y="440" width="11" height="7" fill="#7a3a8a" opacity="0.85"/>
<rect x="335" y="295" width="18" height="13" fill="#204060" opacity="0.85"/>
<rect x="331" y="286" width="11" height="9" fill="#2a6a3a" opacity="0.85"/>
<rect x="320" y="251" width="8" height="5" fill="#204060" opacity="0.85"/>
<rect x="290" y="522" width="12" height="8" fill="#7a3a8a" opacity="0.85"/>
<rect x="337" y="542" width="19" height="10" fill="#101010" opacity="0.85"/>
<rect x="546" y="356" width="15" height="9" fill="#803030" opacity="0.85"/>
<rect x="517" y="512" width="22" height="7" fill="#803030" opacity="0.85"/>
<rect x="404" y="520" width="13" height="9" fill="#608030" opacity="0.85"/>
<rect x="377" y="275" width="6" height="13" fill="#101010" opacity="0.85"/>
<rect x="414" y="281" width="19" height="10" fill="#204060" opacity="0.85"/>
<rect x="431" y="345" width="21" height="8" fill="#2a6a3a" opacity="0.85"/>
<rect x="488" y="586" width="13" height="14" fill="#7a3a8a" opacity="0.85"/>
<rect x="427" y="555" width="9" height="6" fill="#803030" opacity="0.85"/>
<rect x="413" y="508" width="7" height="8" fill="#7a3a8a" opacity="0.85"/>
<rect x="349" y="519" width="7" height="10" fill="#204060" opacity="0.85"/>
<rect x="438" y="353" width="22" height="12" fill="#803030" opacity="0.85"/>
<rect x="350" y="545" width="9" height="14" fill="#7a3a8a" opacity="0.85"/>
<rect x="426" y="337" width="10" height="7" fill="#2a6a3a" opacity="0.85"/>
<rect x="464" y="578" width="14" height="11" fill="#2a6a3a" opacity="0.85"/>
<rect x="501" y="317" width="11" height="8" fill="#608030" opacity="0.85"/>
<rect x="303" y="365" width="13" height="7" fill="#b8a040" opacity="0.85"/>
<rect x="553" y="402" width="17" height="13" fill="#2a6a3a" opacity="0.85"/>
<rect x="484" y="254" width="16" height="7" fill="#608030" opacity="0.85"/>
<rect x="474" y="296" width="17" height="8" fill="#608030" opacity="0.85"/>
<rect x="553" y="511" width="7" height="13" fill="#2a6a3a" opacity="0.85"/>
<rect x="551" y="449" width="6" height="8" fill="#608030" opacity="0.85"/>
<rect x="466" y="509" width="14" height="13" fill="#803030" opacity="0.85"/>
<rect x="455" y="452" width="8" height="5" fill="#7a3a8a" opacity="0.85"/>
<rect x="296" y="431" width="21" height="12" fill="#101010" opacity="0.85"/>
<rect x="298" y="260" width="10" height="5" fill="#101010" opacity="0.85"/>
<rect x="295" y="370" width="10" height="8" fill="#608030" opacity="0.85"/>
<rect x="461" y="314" width="6" height="7" fill="#7a3a8a" opacity="0.85"/>
<rect x="534" y="495" width="15" height="5" fill="#b8a040" opacity="0.85"/>
<rect x="318" y="450" width="7" height="12" fill="#7a3a8a" opacity="0.85"/>
<rect x="474" y="310" width="20" height="5" fill="#2a6a3a" opacity="0.85"/>
<rect x="447" y="471" width="11" height="11" fill="#608030" opacity="0.85"/>
<rect x="345" y="295" width="19" height="7" fill="#2a6a3a" opacity="0.85"/>
<rect x="387" y="487" width="9" height="8" fill="#2a6a3a" opacity="0.85"/>
<rect x="313" y="530" width="15" height="11" fill="#b8a040" opacity="0.85"/>
<rect x="436" y="573" width="11" height="11" fill="#803030" opacity="0.85"/>
<rect x="374" y="281" width="14" height="11" fill="#101010" opacity="0.85"/>
<rect x="443" y="348" width="21" height="9" fill="#101010" opacity="0.85"/>
<rect x="405" y="471" width="8" height="10" fill="#608030" opacity="0.85"/>
<rect x="453" y="566" width="16" height="6" fill="#2a6a3a" opacity="0.85"/>
<rect x="454" y="414" width="8" height="7" fill="#b8a040" opacity="0.85"/>
<rect x="431" y="296" width="21" height="6" fill="#b8a040" opacity="0.85"/>
</g>
<clipPath id="c323523"><path d="M545 330 L640 440 L705 482 L692 545 L605 572 L552 545 z"/></clipPath>
<g clip-path="url(#c323523)"><rect x="545" y="330" width="160" height="242" fill="#10202a"/>
<rect x="615" y="390" width="10" height="12" fill="#20a0b0" opacity="0.85"/>
<rect x="662" y="530" width="6" height="7" fill="#20a0b0" opacity="0.85"/>
<rect x="671" y="557" width="18" height="7" fill="#20a0b0" opacity="0.85"/>
<rect x="550" y="357" width="8" height="10" fill="#2060a0" opacity="0.85"/>
<rect x="613" y="454" width="6" height="13" fill="#20a0b0" opacity="0.85"/>
<rect x="573" y="550" width="21" height="12" fill="#20a0b0" opacity="0.85"/>
<rect x="689" y="398" width="21" height="13" fill="#20a0b0" opacity="0.85"/>
<rect x="669" y="525" width="18" height="8" fill="#0a1018" opacity="0.85"/>
<rect x="642" y="373" width="21" height="13" fill="#0a1018" opacity="0.85"/>
<rect x="562" y="488" width="22" height="9" fill="#0a1018" opacity="0.85"/>
<rect x="688" y="331" width="20" height="7" fill="#0a1018" opacity="0.85"/>
<rect x="598" y="347" width="20" height="8" fill="#20a0b0" opacity="0.85"/>
<rect x="572" y="377" width="13" height="13" fill="#102030" opacity="0.85"/>
<rect x="704" y="396" width="16" height="13" fill="#102030" opacity="0.85"/>
<rect x="580" y="571" width="9" height="9" fill="#20a0b0" opacity="0.85"/>
<rect x="623" y="489" width="11" height="12" fill="#102030" opacity="0.85"/>
<rect x="552" y="441" width="21" height="14" fill="#0a1018" opacity="0.85"/>
<rect x="685" y="526" width="13" height="11" fill="#20a0b0" opacity="0.85"/>
<rect x="670" y="526" width="21" height="7" fill="#102030" opacity="0.85"/>
<rect x="591" y="511" width="20" height="14" fill="#0a1018" opacity="0.85"/>
<rect x="686" y="530" width="9" height="11" fill="#20a0b0" opacity="0.85"/>
<rect x="665" y="397" width="17" height="9" fill="#102030" opacity="0.85"/>
<rect x="638" y="338" width="17" height="11" fill="#20a0b0" opacity="0.85"/>
<rect x="555" y="380" width="19" height="13" fill="#30c0c8" opacity="0.85"/>
<rect x="631" y="532" width="9" height="14" fill="#0a1018" opacity="0.85"/>
<rect x="558" y="435" width="15" height="13" fill="#20a0b0" opacity="0.85"/>
<rect x="612" y="389" width="16" height="12" fill="#20a0b0" opacity="0.85"/>
<rect x="676" y="557" width="9" height="9" fill="#2060a0" opacity="0.85"/>
<rect x="665" y="439" width="18" height="5" fill="#30c0c8" opacity="0.85"/>
<rect x="610" y="458" width="16" height="10" fill="#102030" opacity="0.85"/>
<rect x="561" y="442" width="19" height="7" fill="#107080" opacity="0.85"/>
<rect x="593" y="558" width="17" height="13" fill="#2060a0" opacity="0.85"/>
<rect x="575" y="411" width="19" height="11" fill="#2060a0" opacity="0.85"/>
<rect x="589" y="525" width="11" height="10" fill="#2060a0" opacity="0.85"/>
<rect x="646" y="346" width="10" height="10" fill="#30c0c8" opacity="0.85"/>
<rect x="658" y="343" width="19" height="7" fill="#2060a0" opacity="0.85"/>
<rect x="553" y="417" width="6" height="11" fill="#102030" opacity="0.85"/>
<rect x="642" y="501" width="16" height="9" fill="#30c0c8" opacity="0.85"/>
<rect x="571" y="455" width="8" height="13" fill="#30c0c8" opacity="0.85"/>
<rect x="600" y="504" width="17" height="9" fill="#107080" opacity="0.85"/>
<rect x="598" y="331" width="20" height="12" fill="#0a1018" opacity="0.85"/>
<rect x="639" y="354" width="21" height="9" fill="#102030" opacity="0.85"/>
<rect x="685" y="398" width="18" height="14" fill="#30c0c8" opacity="0.85"/>
<rect x="549" y="570" width="16" height="8" fill="#107080" opacity="0.85"/>
<rect x="697" y="352" width="20" height="8" fill="#30c0c8" opacity="0.85"/>
<rect x="553" y="413" width="18" height="7" fill="#0a1018" opacity="0.85"/>
<rect x="677" y="392" width="14" height="10" fill="#2060a0" opacity="0.85"/>
<rect x="587" y="467" width="14" height="10" fill="#2060a0" opacity="0.85"/>
<rect x="619" y="527" width="7" height="6" fill="#2060a0" opacity="0.85"/>
<rect x="569" y="408" width="14" height="13" fill="#2060a0" opacity="0.85"/>
<rect x="558" y="430" width="13" height="13" fill="#30c0c8" opacity="0.85"/>
<rect x="692" y="569" width="14" height="10" fill="#2060a0" opacity="0.85"/>
<rect x="603" y="432" width="18" height="10" fill="#20a0b0" opacity="0.85"/>
<rect x="546" y="532" width="10" height="5" fill="#20a0b0" opacity="0.85"/>
<rect x="650" y="518" width="12" height="7" fill="#0a1018" opacity="0.85"/>
<rect x="614" y="453" width="16" height="9" fill="#20a0b0" opacity="0.85"/>
<rect x="587" y="540" width="6" height="5" fill="#107080" opacity="0.85"/>
<rect x="597" y="397" width="9" height="11" fill="#30c0c8" opacity="0.85"/>
<rect x="687" y="472" width="6" height="6" fill="#102030" opacity="0.85"/>
<rect x="650" y="422" width="8" height="7" fill="#102030" opacity="0.85"/>
<rect x="699" y="493" width="13" height="9" fill="#20a0b0" opacity="0.85"/>
<rect x="579" y="559" width="17" height="11" fill="#102030" opacity="0.85"/>
<rect x="609" y="501" width="19" height="13" fill="#102030" opacity="0.85"/>
<rect x="619" y="482" width="19" height="11" fill="#107080" opacity="0.85"/>
<rect x="654" y="539" width="22" height="8" fill="#30c0c8" opacity="0.85"/>
<rect x="630" y="550" width="11" height="10" fill="#0a1018" opacity="0.85"/>
<rect x="612" y="350" width="19" height="13" fill="#107080" opacity="0.85"/>
<rect x="600" y="525" width="10" height="7" fill="#0a1018" opacity="0.85"/>
<rect x="557" y="451" width="14" height="8" fill="#107080" opacity="0.85"/>
<rect x="682" y="385" width="11" height="9" fill="#102030" opacity="0.85"/>
<rect x="618" y="498" width="14" height="8" fill="#107080" opacity="0.85"/>
<rect x="618" y="337" width="13" height="10" fill="#107080" opacity="0.85"/>
<rect x="692" y="386" width="11" height="9" fill="#102030" opacity="0.85"/>
<rect x="566" y="397" width="16" height="11" fill="#0a1018" opacity="0.85"/>
<rect x="652" y="369" width="12" height="12" fill="#2060a0" opacity="0.85"/>
<rect x="689" y="466" width="9" height="10" fill="#30c0c8" opacity="0.85"/>
<rect x="632" y="524" width="17" height="12" fill="#30c0c8" opacity="0.85"/>
<rect x="638" y="566" width="16" height="6" fill="#0a1018" opacity="0.85"/>
<rect x="630" y="506" width="21" height="9" fill="#2060a0" opacity="0.85"/>
<rect x="577" y="333" width="15" height="8" fill="#102030" opacity="0.85"/>
<rect x="574" y="473" width="11" height="9" fill="#107080" opacity="0.85"/>
<rect x="638" y="482" width="17" height="10" fill="#102030" opacity="0.85"/>
<rect x="692" y="549" width="12" height="12" fill="#107080" opacity="0.85"/>
<rect x="584" y="359" width="9" height="7" fill="#30c0c8" opacity="0.85"/>
<rect x="553" y="395" width="8" height="11" fill="#107080" opacity="0.85"/>
<rect x="658" y="377" width="15" height="7" fill="#102030" opacity="0.85"/>
<rect x="646" y="383" width="8" height="10" fill="#30c0c8" opacity="0.85"/>
<rect x="687" y="377" width="12" height="9" fill="#30c0c8" opacity="0.85"/>
<rect x="691" y="438" width="16" height="7" fill="#2060a0" opacity="0.85"/>
<rect x="678" y="337" width="15" height="8" fill="#107080" opacity="0.85"/>
<rect x="583" y="384" width="18" height="11" fill="#30c0c8" opacity="0.85"/>
<rect x="567" y="405" width="6" height="10" fill="#0a1018" opacity="0.85"/>
<rect x="618" y="364" width="11" height="10" fill="#2060a0" opacity="0.85"/>
<rect x="562" y="366" width="14" height="11" fill="#2060a0" opacity="0.85"/>
<rect x="605" y="500" width="22" height="13" fill="#0a1018" opacity="0.85"/>
<rect x="560" y="451" width="14" height="5" fill="#0a1018" opacity="0.85"/>
<rect x="651" y="567" width="18" height="9" fill="#0a1018" opacity="0.85"/>
<rect x="643" y="475" width="15" height="12" fill="#0a1018" opacity="0.85"/>
<rect x="634" y="472" width="13" height="11" fill="#107080" opacity="0.85"/>
<rect x="691" y="458" width="8" height="13" fill="#107080" opacity="0.85"/>
<rect x="647" y="355" width="7" height="6" fill="#2060a0" opacity="0.85"/>
<rect x="676" y="372" width="12" height="12" fill="#20a0b0" opacity="0.85"/>
<rect x="610" y="476" width="9" height="10" fill="#107080" opacity="0.85"/>
<rect x="561" y="375" width="9" height="7" fill="#30c0c8" opacity="0.85"/>
<rect x="551" y="388" width="7" height="12" fill="#0a1018" opacity="0.85"/>
<rect x="630" y="411" width="7" height="11" fill="#107080" opacity="0.85"/>
<rect x="566" y="387" width="18" height="13" fill="#102030" opacity="0.85"/>
<rect x="553" y="453" width="11" height="9" fill="#20a0b0" opacity="0.85"/>
<rect x="574" y="468" width="7" height="5" fill="#2060a0" opacity="0.85"/>
<rect x="548" y="435" width="10" height="8" fill="#0a1018" opacity="0.85"/>
<rect x="620" y="389" width="19" height="14" fill="#0a1018" opacity="0.85"/>
<rect x="627" y="385" width="6" height="9" fill="#30c0c8" opacity="0.85"/>
<rect x="643" y="446" width="18" height="6" fill="#2060a0" opacity="0.85"/>
<rect x="592" y="553" width="19" height="8" fill="#20a0b0" opacity="0.85"/>
<rect x="560" y="536" width="20" height="12" fill="#30c0c8" opacity="0.85"/>
<rect x="553" y="519" width="9" height="13" fill="#30c0c8" opacity="0.85"/>
<rect x="648" y="534" width="22" height="12" fill="#20a0b0" opacity="0.85"/>
<rect x="588" y="360" width="7" height="10" fill="#107080" opacity="0.85"/>
<rect x="546" y="543" width="11" height="6" fill="#20a0b0" opacity="0.85"/>
<rect x="606" y="527" width="11" height="11" fill="#107080" opacity="0.85"/>
<rect x="666" y="557" width="7" height="12" fill="#102030" opacity="0.85"/>
<rect x="660" y="498" width="18" height="7" fill="#2060a0" opacity="0.85"/>
<rect x="618" y="349" width="21" height="8" fill="#107080" opacity="0.85"/>
<rect x="557" y="413" width="14" height="5" fill="#107080" opacity="0.85"/>
<rect x="648" y="418" width="18" height="10" fill="#107080" opacity="0.85"/>
<rect x="652" y="568" width="17" height="10" fill="#30c0c8" opacity="0.85"/>
<rect x="585" y="394" width="17" height="5" fill="#102030" opacity="0.85"/>
<rect x="565" y="423" width="18" height="14" fill="#0a1018" opacity="0.85"/>
<rect x="675" y="429" width="21" height="7" fill="#102030" opacity="0.85"/>
<rect x="551" y="426" width="7" height="12" fill="#0a1018" opacity="0.85"/>
<rect x="676" y="506" width="8" height="12" fill="#20a0b0" opacity="0.85"/>
<rect x="694" y="465" width="10" height="10" fill="#102030" opacity="0.85"/>
<rect x="676" y="482" width="18" height="5" fill="#107080" opacity="0.85"/>
<rect x="577" y="361" width="18" height="13" fill="#107080" opacity="0.85"/>
<rect x="676" y="462" width="18" height="14" fill="#0a1018" opacity="0.85"/>
<rect x="664" y="484" width="14" height="12" fill="#0a1018" opacity="0.85"/>
<rect x="593" y="525" width="8" height="10" fill="#102030" opacity="0.85"/>
<rect x="580" y="546" width="14" height="12" fill="#107080" opacity="0.85"/>
<rect x="623" y="390" width="10" height="5" fill="#20a0b0" opacity="0.85"/>
<rect x="635" y="456" width="12" height="10" fill="#0a1018" opacity="0.85"/>
</g>
<path d="M662 505 h30 v18 h-30z" fill="#2050e0"/>
<path d="M185 612 L215 585 L345 570 L300 600 L225 640z" fill="#2a2a2a"/>
<path d="M180 560 L215 585 L190 618 L160 600z" fill="#a84848"/>
<path d="M380 558 L432 592 L410 600 L372 580z" fill="#a84848"/><path d="M432 592 L545 552 L540 575 L440 610z" fill="#2a2a2a"/>
<path d="M550 540 L605 572 L590 580 L548 560z" fill="#a84848"/><path d="M605 572 L692 545 L690 565 L610 590z" fill="#2a2a2a"/>
<path d="M76 62 L48 128 L182 615 L212 588 L150 360 L110 150 L84 62z" fill="url(#mr)"/>
<path d="M268 72 L300 92 L450 350 L545 300 L600 430 L560 462 L480 472 L385 425 L330 300z" fill="#f3e6ee"/>
<path d="M82 60 L268 70 L292 200 L338 330 L390 495 L300 548 L245 480 L160 330 L112 150z" fill="#eef4f3"/>
<path d="M428 80 L380 125 L440 345 L458 340 L440 200z" fill="url(#mr)"/>
<path d="M522 215 L548 310 L600 430 L575 520 L548 545 L540 400z" fill="#93383c"/>
<path d="M430 80 L582 86 L640 220 L700 350 L782 462 L700 472 L600 430 L548 310 L522 215 L455 345 L440 200z" fill="#f6efe8"/>
<g clip-path="url(#cl1)" fill="none" stroke-width="3">
<rect x="278" y="57" width="51" height="44" stroke="#7ac0a0" opacity="0.7"/>
<rect x="154" y="77" width="40" height="33" stroke="#c098e0" opacity="0.7"/>
<rect x="149" y="109" width="52" height="16" stroke="#c098e0" opacity="0.7"/>
<rect x="340" y="272" width="28" height="24" stroke="#c098e0" opacity="0.7"/>
<rect x="168" y="439" width="36" height="20" stroke="#c098e0" opacity="0.7"/>
<rect x="347" y="247" width="23" height="34" stroke="#6a98d0" opacity="0.7"/>
<rect x="236" y="398" width="41" height="32" stroke="#6a98d0" opacity="0.7"/>
<rect x="287" y="88" width="66" height="19" stroke="#c098e0" opacity="0.7"/>
<rect x="204" y="324" width="23" height="33" stroke="#6a98d0" opacity="0.7"/>
<rect x="296" y="278" width="26" height="31" stroke="#c098e0" opacity="0.7"/>
<rect x="326" y="524" width="62" height="24" stroke="#c098e0" opacity="0.7"/>
<rect x="246" y="485" width="50" height="42" stroke="#c098e0" opacity="0.7"/>
<rect x="205" y="533" width="51" height="16" stroke="#5fb08a" opacity="0.7"/>
<rect x="391" y="254" width="30" height="21" stroke="#98c8b0" opacity="0.7"/>
<rect x="345" y="190" width="63" height="25" stroke="#6a98d0" opacity="0.7"/>
<rect x="204" y="54" width="46" height="35" stroke="#7ac0a0" opacity="0.7"/>
<rect x="229" y="449" width="53" height="32" stroke="#58a888" opacity="0.7"/>
<rect x="384" y="351" width="56" height="21" stroke="#98c8b0" opacity="0.7"/>
<rect x="397" y="123" width="49" height="20" stroke="#58a888" opacity="0.7"/>
<rect x="355" y="497" width="58" height="27" stroke="#58a888" opacity="0.7"/>
<rect x="171" y="198" width="32" height="40" stroke="#6a98d0" opacity="0.7"/>
<rect x="167" y="57" width="22" height="25" stroke="#6a98d0" opacity="0.7"/>
<rect x="346" y="194" width="56" height="44" stroke="#98c8b0" opacity="0.7"/>
<rect x="301" y="424" width="31" height="38" stroke="#c098e0" opacity="0.7"/>
<rect x="82" y="309" width="48" height="41" stroke="#7ac0a0" opacity="0.7"/>
<rect x="134" y="471" width="47" height="17" stroke="#5fb08a" opacity="0.7"/>
<rect x="360" y="263" width="41" height="23" stroke="#7ac0a0" opacity="0.7"/>
<rect x="276" y="410" width="24" height="19" stroke="#7ac0a0" opacity="0.7"/>
<rect x="75" y="391" width="24" height="34" stroke="#58a888" opacity="0.7"/>
<rect x="271" y="383" width="59" height="40" stroke="#6a98d0" opacity="0.7"/>
<rect x="207" y="284" width="48" height="23" stroke="#58a888" opacity="0.7"/>
<rect x="137" y="57" width="64" height="32" stroke="#7ac0a0" opacity="0.7"/>
<rect x="263" y="244" width="52" height="26" stroke="#58a888" opacity="0.7"/>
<rect x="357" y="442" width="40" height="17" stroke="#98c8b0" opacity="0.7"/>
<rect x="135" y="243" width="38" height="40" stroke="#98c8b0" opacity="0.7"/>
<rect x="245" y="423" width="55" height="44" stroke="#c098e0" opacity="0.7"/>
<rect x="97" y="338" width="22" height="42" stroke="#5fb08a" opacity="0.7"/>
<rect x="112" y="336" width="43" height="28" stroke="#5fb08a" opacity="0.7"/>
<rect x="358" y="340" width="36" height="30" stroke="#6a98d0" opacity="0.7"/>
<rect x="313" y="307" width="30" height="24" stroke="#98c8b0" opacity="0.7"/>
<rect x="131" y="465" width="57" height="37" stroke="#6a98d0" opacity="0.7"/>
<rect x="331" y="397" width="49" height="44" stroke="#c098e0" opacity="0.7"/>
<rect x="88" y="212" width="39" height="27" stroke="#58a888" opacity="0.7"/>
<rect x="389" y="458" width="53" height="38" stroke="#6a98d0" opacity="0.7"/>
<rect x="141" y="357" width="69" height="20" stroke="#98c8b0" opacity="0.7"/>
<rect x="277" y="108" width="65" height="27" stroke="#58a888" opacity="0.7"/>
<rect x="194" y="367" width="47" height="16" stroke="#58a888" opacity="0.7"/>
<rect x="164" y="67" width="51" height="35" stroke="#c098e0" opacity="0.7"/>
<rect x="112" y="51" width="30" height="21" stroke="#5fb08a" opacity="0.7"/>
<rect x="186" y="225" width="24" height="35" stroke="#58a888" opacity="0.7"/>
<rect x="144" y="249" width="56" height="23" stroke="#c098e0" opacity="0.7"/>
<rect x="206" y="129" width="37" height="24" stroke="#98c8b0" opacity="0.7"/>
<rect x="398" y="431" width="29" height="39" stroke="#98c8b0" opacity="0.7"/>
<rect x="318" y="526" width="60" height="27" stroke="#58a888" opacity="0.7"/>
<rect x="199" y="151" width="60" height="18" stroke="#98c8b0" opacity="0.7"/>
<rect x="230" y="503" width="25" height="22" stroke="#7ac0a0" opacity="0.7"/>
<rect x="286" y="122" width="38" height="17" stroke="#5fb08a" opacity="0.7"/>
<rect x="248" y="193" width="32" height="40" stroke="#7ac0a0" opacity="0.7"/>
<rect x="365" y="174" width="50" height="44" stroke="#c098e0" opacity="0.7"/>
<rect x="229" y="135" width="41" height="20" stroke="#5fb08a" opacity="0.7"/>
<rect x="142" y="266" width="59" height="25" stroke="#7ac0a0" opacity="0.7"/>
<rect x="348" y="537" width="50" height="24" stroke="#6a98d0" opacity="0.7"/>
<rect x="119" y="306" width="62" height="31" stroke="#7ac0a0" opacity="0.7"/>
<rect x="381" y="223" width="46" height="27" stroke="#5fb08a" opacity="0.7"/>
<rect x="373" y="109" width="34" height="38" stroke="#7ac0a0" opacity="0.7"/>
<rect x="147" y="184" width="30" height="40" stroke="#98c8b0" opacity="0.7"/>
<rect x="284" y="303" width="53" height="45" stroke="#6a98d0" opacity="0.7"/>
<rect x="307" y="362" width="33" height="15" stroke="#6a98d0" opacity="0.7"/>
<rect x="163" y="184" width="21" height="42" stroke="#6a98d0" opacity="0.7"/>
<rect x="159" y="481" width="44" height="43" stroke="#c098e0" opacity="0.7"/>
<rect x="290" y="536" width="40" height="21" stroke="#5fb08a" opacity="0.7"/>
<rect x="382" y="252" width="36" height="23" stroke="#6a98d0" opacity="0.7"/>
<rect x="241" y="109" width="35" height="19" stroke="#c098e0" opacity="0.7"/>
<rect x="308" y="507" width="41" height="20" stroke="#7ac0a0" opacity="0.7"/>
<rect x="204" y="282" width="39" height="31" stroke="#58a888" opacity="0.7"/>
<rect x="329" y="261" width="66" height="17" stroke="#5fb08a" opacity="0.7"/>
<rect x="221" y="463" width="32" height="31" stroke="#98c8b0" opacity="0.7"/>
<rect x="345" y="472" width="46" height="34" stroke="#58a888" opacity="0.7"/>
<rect x="151" y="523" width="60" height="30" stroke="#c098e0" opacity="0.7"/>
<rect x="396" y="516" width="61" height="31" stroke="#7ac0a0" opacity="0.7"/>
<rect x="86" y="392" width="35" height="22" stroke="#5fb08a" opacity="0.7"/>
<rect x="214" y="90" width="41" height="44" stroke="#58a888" opacity="0.7"/>
<rect x="268" y="125" width="46" height="43" stroke="#7ac0a0" opacity="0.7"/>
<rect x="238" y="340" width="42" height="35" stroke="#58a888" opacity="0.7"/>
<rect x="345" y="314" width="30" height="32" stroke="#5fb08a" opacity="0.7"/>
<rect x="128" y="211" width="39" height="45" stroke="#98c8b0" opacity="0.7"/>
<rect x="188" y="291" width="49" height="39" stroke="#7ac0a0" opacity="0.7"/>
<rect x="170" y="260" width="37" height="37" stroke="#c098e0" opacity="0.7"/>
<rect x="158" y="465" width="31" height="41" stroke="#98c8b0" opacity="0.7"/>
<rect x="255" y="383" width="58" height="34" stroke="#6a98d0" opacity="0.7"/>
<rect x="269" y="191" width="37" height="33" stroke="#6a98d0" opacity="0.7"/>
<rect x="71" y="437" width="41" height="38" stroke="#5fb08a" opacity="0.7"/>
<rect x="333" y="151" width="40" height="41" stroke="#c098e0" opacity="0.7"/>
<rect x="142" y="292" width="55" height="26" stroke="#98c8b0" opacity="0.7"/>
<rect x="368" y="425" width="57" height="16" stroke="#7ac0a0" opacity="0.7"/>
<rect x="180" y="479" width="65" height="42" stroke="#7ac0a0" opacity="0.7"/>
<rect x="305" y="433" width="56" height="31" stroke="#c098e0" opacity="0.7"/>
<rect x="274" y="126" width="58" height="37" stroke="#98c8b0" opacity="0.7"/>
<rect x="262" y="357" width="32" height="41" stroke="#6a98d0" opacity="0.7"/>
<rect x="273" y="482" width="68" height="43" stroke="#6a98d0" opacity="0.7"/>
<rect x="273" y="446" width="48" height="32" stroke="#7ac0a0" opacity="0.7"/>
<rect x="131" y="242" width="60" height="37" stroke="#58a888" opacity="0.7"/>
<rect x="116" y="130" width="35" height="29" stroke="#6a98d0" opacity="0.7"/>
<rect x="340" y="164" width="39" height="28" stroke="#58a888" opacity="0.7"/>
<rect x="96" y="508" width="28" height="26" stroke="#98c8b0" opacity="0.7"/>
<rect x="205" y="132" width="20" height="20" stroke="#98c8b0" opacity="0.7"/>
<rect x="98" y="467" width="29" height="39" stroke="#7ac0a0" opacity="0.7"/>
<rect x="303" y="103" width="24" height="39" stroke="#c098e0" opacity="0.7"/>
<rect x="234" y="170" width="69" height="29" stroke="#c098e0" opacity="0.7"/>
<rect x="191" y="253" width="31" height="43" stroke="#7ac0a0" opacity="0.7"/>
</g>
<g clip-path="url(#cl3)" fill="none" stroke-width="3">
<rect x="540" y="449" width="70" height="15" stroke="#e8b080" opacity="0.7"/>
<rect x="391" y="263" width="43" height="19" stroke="#e8b080" opacity="0.7"/>
<rect x="317" y="142" width="36" height="42" stroke="#c0a0e8" opacity="0.7"/>
<rect x="495" y="402" width="47" height="41" stroke="#f0a0b8" opacity="0.7"/>
<rect x="417" y="350" width="45" height="22" stroke="#c0a0e8" opacity="0.7"/>
<rect x="267" y="450" width="51" height="16" stroke="#f0a0b8" opacity="0.7"/>
<rect x="582" y="208" width="36" height="25" stroke="#f0a0b8" opacity="0.7"/>
<rect x="525" y="308" width="54" height="30" stroke="#e8b080" opacity="0.7"/>
<rect x="311" y="361" width="52" height="39" stroke="#f0a0b8" opacity="0.7"/>
<rect x="326" y="443" width="35" height="25" stroke="#f0a0b8" opacity="0.7"/>
<rect x="559" y="466" width="51" height="15" stroke="#e8b080" opacity="0.7"/>
<rect x="589" y="228" width="33" height="31" stroke="#d090d0" opacity="0.7"/>
<rect x="313" y="304" width="32" height="40" stroke="#e8b080" opacity="0.7"/>
<rect x="436" y="216" width="51" height="25" stroke="#c0a0e8" opacity="0.7"/>
<rect x="469" y="276" width="62" height="25" stroke="#d090d0" opacity="0.7"/>
<rect x="504" y="149" width="65" height="23" stroke="#d090d0" opacity="0.7"/>
<rect x="471" y="165" width="24" height="35" stroke="#d090d0" opacity="0.7"/>
<rect x="314" y="69" width="26" height="35" stroke="#c0a0e8" opacity="0.7"/>
<rect x="411" y="322" width="25" height="41" stroke="#e8b080" opacity="0.7"/>
<rect x="274" y="175" width="28" height="25" stroke="#f0a0b8" opacity="0.7"/>
<rect x="552" y="139" width="34" height="45" stroke="#d090d0" opacity="0.7"/>
<rect x="394" y="88" width="54" height="30" stroke="#c0a0e8" opacity="0.7"/>
<rect x="262" y="467" width="35" height="20" stroke="#e8b080" opacity="0.7"/>
<rect x="296" y="257" width="31" height="31" stroke="#d090d0" opacity="0.7"/>
<rect x="596" y="296" width="54" height="30" stroke="#e8b080" opacity="0.7"/>
<rect x="486" y="221" width="68" height="42" stroke="#f0a0b8" opacity="0.7"/>
<rect x="256" y="415" width="24" height="24" stroke="#d090d0" opacity="0.7"/>
<rect x="352" y="254" width="45" height="29" stroke="#e8b080" opacity="0.7"/>
<rect x="546" y="202" width="55" height="22" stroke="#e8b080" opacity="0.7"/>
<rect x="291" y="116" width="40" height="26" stroke="#f0a0b8" opacity="0.7"/>
<rect x="265" y="178" width="28" height="30" stroke="#c0a0e8" opacity="0.7"/>
<rect x="471" y="80" width="53" height="18" stroke="#c0a0e8" opacity="0.7"/>
<rect x="252" y="279" width="53" height="16" stroke="#d090d0" opacity="0.7"/>
<rect x="285" y="232" width="59" height="25" stroke="#f0a0b8" opacity="0.7"/>
<rect x="577" y="380" width="62" height="16" stroke="#f0a0b8" opacity="0.7"/>
<rect x="547" y="253" width="49" height="27" stroke="#d090d0" opacity="0.7"/>
<rect x="329" y="203" width="56" height="25" stroke="#f0a0b8" opacity="0.7"/>
<rect x="500" y="73" width="25" height="37" stroke="#f0a0b8" opacity="0.7"/>
<rect x="405" y="288" width="64" height="15" stroke="#d090d0" opacity="0.7"/>
<rect x="279" y="350" width="67" height="34" stroke="#d090d0" opacity="0.7"/>
<rect x="563" y="314" width="34" height="22" stroke="#d090d0" opacity="0.7"/>
<rect x="337" y="366" width="57" height="44" stroke="#d090d0" opacity="0.7"/>
<rect x="318" y="75" width="61" height="34" stroke="#e8b080" opacity="0.7"/>
<rect x="545" y="110" width="34" height="41" stroke="#d090d0" opacity="0.7"/>
<rect x="567" y="66" width="33" height="17" stroke="#c0a0e8" opacity="0.7"/>
<rect x="478" y="328" width="33" height="19" stroke="#f0a0b8" opacity="0.7"/>
<rect x="518" y="76" width="57" height="34" stroke="#c0a0e8" opacity="0.7"/>
<rect x="343" y="111" width="70" height="24" stroke="#c0a0e8" opacity="0.7"/>
<rect x="306" y="110" width="43" height="38" stroke="#c0a0e8" opacity="0.7"/>
<rect x="454" y="355" width="30" height="33" stroke="#c0a0e8" opacity="0.7"/>
<rect x="592" y="230" width="31" height="22" stroke="#e8b080" opacity="0.7"/>
<rect x="532" y="182" width="61" height="43" stroke="#f0a0b8" opacity="0.7"/>
<rect x="510" y="341" width="27" height="18" stroke="#e8b080" opacity="0.7"/>
<rect x="389" y="265" width="42" height="17" stroke="#e8b080" opacity="0.7"/>
<rect x="556" y="409" width="58" height="26" stroke="#f0a0b8" opacity="0.7"/>
<rect x="572" y="396" width="51" height="39" stroke="#f0a0b8" opacity="0.7"/>
<rect x="282" y="302" width="61" height="27" stroke="#c0a0e8" opacity="0.7"/>
<rect x="485" y="430" width="21" height="43" stroke="#f0a0b8" opacity="0.7"/>
<rect x="537" y="301" width="26" height="26" stroke="#e8b080" opacity="0.7"/>
<rect x="455" y="427" width="61" height="42" stroke="#c0a0e8" opacity="0.7"/>
</g>
<g clip-path="url(#cl2)" fill="none" stroke-width="3">
<rect x="453" y="358" width="58" height="45" stroke="#e8a8a0" opacity="0.7"/>
<rect x="714" y="236" width="55" height="17" stroke="#d090e0" opacity="0.7"/>
<rect x="705" y="180" width="41" height="40" stroke="#e8a8a0" opacity="0.7"/>
<rect x="644" y="292" width="36" height="29" stroke="#f0c080" opacity="0.7"/>
<rect x="584" y="100" width="37" height="34" stroke="#e8a060" opacity="0.7"/>
<rect x="617" y="83" width="42" height="19" stroke="#f0b070" opacity="0.7"/>
<rect x="450" y="102" width="25" height="19" stroke="#e8a060" opacity="0.7"/>
<rect x="605" y="274" width="60" height="31" stroke="#f0c080" opacity="0.7"/>
<rect x="604" y="226" width="47" height="28" stroke="#d090e0" opacity="0.7"/>
<rect x="663" y="268" width="38" height="17" stroke="#f0c080" opacity="0.7"/>
<rect x="571" y="78" width="31" height="33" stroke="#e090b8" opacity="0.7"/>
<rect x="620" y="341" width="57" height="24" stroke="#e8a8a0" opacity="0.7"/>
<rect x="447" y="84" width="23" height="28" stroke="#e8a060" opacity="0.7"/>
<rect x="513" y="326" width="59" height="16" stroke="#e8a8a0" opacity="0.7"/>
<rect x="613" y="140" width="42" height="16" stroke="#f0c080" opacity="0.7"/>
<rect x="523" y="204" width="33" height="43" stroke="#d090e0" opacity="0.7"/>
<rect x="487" y="132" width="34" height="44" stroke="#e8a8a0" opacity="0.7"/>
<rect x="531" y="80" width="44" height="42" stroke="#f0b070" opacity="0.7"/>
<rect x="440" y="245" width="42" height="22" stroke="#e8a060" opacity="0.7"/>
<rect x="522" y="283" width="34" height="27" stroke="#e8a8a0" opacity="0.7"/>
<rect x="578" y="149" width="56" height="38" stroke="#f0b070" opacity="0.7"/>
<rect x="771" y="216" width="20" height="21" stroke="#f0c080" opacity="0.7"/>
<rect x="689" y="316" width="60" height="29" stroke="#f0b070" opacity="0.7"/>
<rect x="449" y="345" width="63" height="25" stroke="#e090b8" opacity="0.7"/>
<rect x="585" y="222" width="44" height="26" stroke="#e090b8" opacity="0.7"/>
<rect x="632" y="322" width="28" height="42" stroke="#e8a8a0" opacity="0.7"/>
<rect x="525" y="394" width="45" height="36" stroke="#e8a8a0" opacity="0.7"/>
<rect x="733" y="413" width="33" height="17" stroke="#e8a060" opacity="0.7"/>
<rect x="703" y="190" width="40" height="43" stroke="#e8a060" opacity="0.7"/>
<rect x="626" y="380" width="32" height="23" stroke="#e8a060" opacity="0.7"/>
<rect x="556" y="130" width="47" height="24" stroke="#d090e0" opacity="0.7"/>
<rect x="516" y="408" width="68" height="16" stroke="#d090e0" opacity="0.7"/>
<rect x="767" y="163" width="60" height="37" stroke="#e8a8a0" opacity="0.7"/>
<rect x="754" y="257" width="54" height="19" stroke="#f0c080" opacity="0.7"/>
<rect x="483" y="204" width="44" height="26" stroke="#e090b8" opacity="0.7"/>
<rect x="612" y="172" width="51" height="36" stroke="#e090b8" opacity="0.7"/>
<rect x="733" y="413" width="64" height="25" stroke="#e8a8a0" opacity="0.7"/>
<rect x="557" y="369" width="69" height="34" stroke="#e090b8" opacity="0.7"/>
<rect x="761" y="180" width="32" height="18" stroke="#f0b070" opacity="0.7"/>
<rect x="424" y="145" width="34" height="39" stroke="#e090b8" opacity="0.7"/>
<rect x="451" y="145" width="28" height="20" stroke="#f0b070" opacity="0.7"/>
<rect x="532" y="70" width="49" height="30" stroke="#e8a8a0" opacity="0.7"/>
<rect x="657" y="460" width="37" height="31" stroke="#f0b070" opacity="0.7"/>
<rect x="532" y="438" width="39" height="29" stroke="#f0c080" opacity="0.7"/>
<rect x="705" y="256" width="41" height="17" stroke="#f0c080" opacity="0.7"/>
<rect x="622" y="93" width="49" height="35" stroke="#d090e0" opacity="0.7"/>
<rect x="602" y="293" width="28" height="39" stroke="#e8a060" opacity="0.7"/>
<rect x="717" y="413" width="23" height="38" stroke="#f0c080" opacity="0.7"/>
<rect x="529" y="442" width="33" height="32" stroke="#e090b8" opacity="0.7"/>
<rect x="759" y="437" width="42" height="44" stroke="#e8a8a0" opacity="0.7"/>
<rect x="666" y="284" width="56" height="32" stroke="#e8a060" opacity="0.7"/>
<rect x="505" y="239" width="33" height="15" stroke="#e8a8a0" opacity="0.7"/>
<rect x="602" y="266" width="27" height="19" stroke="#f0b070" opacity="0.7"/>
<rect x="631" y="192" width="53" height="23" stroke="#d090e0" opacity="0.7"/>
<rect x="539" y="213" width="37" height="38" stroke="#e8a060" opacity="0.7"/>
<rect x="586" y="227" width="34" height="29" stroke="#e8a060" opacity="0.7"/>
<rect x="641" y="131" width="54" height="29" stroke="#f0b070" opacity="0.7"/>
<rect x="546" y="203" width="51" height="25" stroke="#f0b070" opacity="0.7"/>
<rect x="471" y="313" width="40" height="16" stroke="#f0c080" opacity="0.7"/>
<rect x="617" y="463" width="38" height="36" stroke="#f0c080" opacity="0.7"/>
<rect x="421" y="83" width="26" height="37" stroke="#e8a8a0" opacity="0.7"/>
<rect x="689" y="273" width="26" height="34" stroke="#e8a060" opacity="0.7"/>
<rect x="477" y="378" width="61" height="43" stroke="#f0c080" opacity="0.7"/>
<rect x="469" y="308" width="29" height="20" stroke="#d090e0" opacity="0.7"/>
<rect x="773" y="218" width="46" height="19" stroke="#d090e0" opacity="0.7"/>
<rect x="548" y="184" width="61" height="36" stroke="#d090e0" opacity="0.7"/>
<rect x="739" y="108" width="24" height="22" stroke="#e090b8" opacity="0.7"/>
<rect x="644" y="200" width="43" height="18" stroke="#f0c080" opacity="0.7"/>
<rect x="549" y="101" width="44" height="23" stroke="#f0c080" opacity="0.7"/>
<rect x="617" y="469" width="28" height="34" stroke="#e8a8a0" opacity="0.7"/>
<rect x="650" y="388" width="52" height="39" stroke="#e8a060" opacity="0.7"/>
<rect x="645" y="199" width="61" height="28" stroke="#e090b8" opacity="0.7"/>
<rect x="514" y="467" width="56" height="27" stroke="#e090b8" opacity="0.7"/>
<rect x="680" y="301" width="25" height="43" stroke="#d090e0" opacity="0.7"/>
<rect x="719" y="361" width="24" height="25" stroke="#f0c080" opacity="0.7"/>
<rect x="454" y="433" width="35" height="32" stroke="#d090e0" opacity="0.7"/>
<rect x="681" y="424" width="33" height="21" stroke="#d090e0" opacity="0.7"/>
<rect x="719" y="87" width="58" height="36" stroke="#f0c080" opacity="0.7"/>
<rect x="723" y="224" width="43" height="32" stroke="#e090b8" opacity="0.7"/>
<rect x="566" y="88" width="52" height="28" stroke="#d090e0" opacity="0.7"/>
<rect x="500" y="326" width="22" height="34" stroke="#e8a8a0" opacity="0.7"/>
<rect x="729" y="358" width="49" height="23" stroke="#d090e0" opacity="0.7"/>
<rect x="550" y="458" width="34" height="26" stroke="#d090e0" opacity="0.7"/>
<rect x="761" y="462" width="39" height="21" stroke="#f0c080" opacity="0.7"/>
<rect x="750" y="293" width="39" height="28" stroke="#e8a8a0" opacity="0.7"/>
<rect x="766" y="284" width="23" height="32" stroke="#e090b8" opacity="0.7"/>
<rect x="747" y="116" width="56" height="18" stroke="#e8a8a0" opacity="0.7"/>
<rect x="663" y="267" width="44" height="40" stroke="#e8a8a0" opacity="0.7"/>
<rect x="460" y="432" width="51" height="31" stroke="#f0b070" opacity="0.7"/>
<rect x="584" y="309" width="63" height="38" stroke="#f0c080" opacity="0.7"/>
<rect x="538" y="343" width="25" height="21" stroke="#e8a060" opacity="0.7"/>
<rect x="595" y="362" width="32" height="39" stroke="#f0c080" opacity="0.7"/>
<rect x="423" y="246" width="41" height="22" stroke="#f0c080" opacity="0.7"/>
<rect x="648" y="202" width="23" height="31" stroke="#d090e0" opacity="0.7"/>
<rect x="745" y="431" width="26" height="16" stroke="#f0c080" opacity="0.7"/>
<rect x="749" y="111" width="68" height="43" stroke="#e090b8" opacity="0.7"/>
<rect x="479" y="191" width="31" height="21" stroke="#f0c080" opacity="0.7"/>
<rect x="424" y="321" width="22" height="29" stroke="#e8a8a0" opacity="0.7"/>
<rect x="655" y="235" width="43" height="36" stroke="#d090e0" opacity="0.7"/>
<rect x="523" y="155" width="32" height="18" stroke="#f0b070" opacity="0.7"/>
<rect x="611" y="160" width="54" height="30" stroke="#e8a060" opacity="0.7"/>
<rect x="700" y="295" width="56" height="37" stroke="#e090b8" opacity="0.7"/>
<rect x="538" y="143" width="28" height="32" stroke="#e8a8a0" opacity="0.7"/>
<rect x="545" y="135" width="57" height="20" stroke="#f0c080" opacity="0.7"/>
<rect x="539" y="415" width="24" height="24" stroke="#e090b8" opacity="0.7"/>
<rect x="447" y="361" width="40" height="32" stroke="#f0b070" opacity="0.7"/>
<rect x="471" y="391" width="42" height="31" stroke="#e090b8" opacity="0.7"/>
<rect x="450" y="113" width="30" height="23" stroke="#d090e0" opacity="0.7"/>
<rect x="766" y="407" width="56" height="36" stroke="#d090e0" opacity="0.7"/>
<rect x="646" y="386" width="44" height="34" stroke="#f0b070" opacity="0.7"/>
</g>
<rect x="160" y="118" width="100" height="36" rx="16" fill="#3344e6"/>
<rect x="470" y="108" width="92" height="36" rx="16" fill="#ea2a2a"/>
<rect x="450" y="165" width="70" height="32" rx="14" fill="#9438d8"/>
<rect x="425" y="90" width="32" height="22" fill="#ddd" stroke="#777" stroke-width="2"/><rect x="565" y="172" width="42" height="20" fill="#e8e8e8" stroke="#888" stroke-width="2"/><rect x="478" y="205" width="80" height="30" fill="#d8d8d8" opacity="0.8"/>
<text x="682" y="678" font-family="'Liberation Serif',serif" font-style="italic" font-weight="bold" font-size="34" fill="#222">Metabolomics</text>
</svg></div>
<div class="box cn" style="left:6px;top:472px;width:167px;height:35px;background:#8497a3;line-height:34px;">代谢物</div>

<div class="box cn" style="left:220px;top:320px;width:167px;height:31px;background:#0b6069;line-height:35px;font-size:25.3px;">蛋白质组学</div>
<div class="abs" style="left:221px;top:351px;width:165px;height:2px;background:#9ed3d3;"></div>
<div class="img" id="img-prot" style="left:221px;top:353px;width:165px;height:123px;"><svg width="165" height="123" viewBox="16.36 27.27 899.75 670.72" style="position:absolute;left:0;top:0;">
<defs><filter id="pb1"><feGaussianBlur stdDeviation="2.5"/></filter><radialGradient id="ring" cx="0.5" cy="0.5" r="0.5"><stop offset="0" stop-color="#dfe4c0"/><stop offset="0.45" stop-color="#c2cc98"/><stop offset="0.6" stop-color="#dde2bc"/><stop offset="0.8" stop-color="#b9c48c"/><stop offset="1" stop-color="#d5dbb0"/></radialGradient></defs>
<rect x="16" y="27" width="900" height="6" fill="#111"/>
<rect x="18" y="45" width="572" height="327" fill="#f3dcf3"/>
<rect x="18" y="45" width="572" height="40" fill="#f8eaf8"/><rect x="18" y="320" width="572" height="52" fill="#faf0fa"/>
<g filter="url(#pb1)">
<line x1="90" y1="130" x2="420" y2="130" stroke="#5a1a6a" stroke-width="8" opacity="0.35"/>
<line x1="20" y1="300" x2="420" y2="300" stroke="#5a1a6a" stroke-width="10" opacity="0.40"/>
<line x1="120" y1="170" x2="300" y2="170" stroke="#5a1a6a" stroke-width="6" opacity="0.30"/>
<line x1="80" y1="215" x2="560" y2="215" stroke="#5a1a6a" stroke-width="5" opacity="0.15"/>
<ellipse cx="230" cy="188" rx="16" ry="9" fill="#1a0820"/>
<ellipse cx="210" cy="305" rx="18" ry="10" fill="#14061a"/>
<ellipse cx="75" cy="300" rx="9" ry="7" fill="#1a0820"/>
<ellipse cx="145" cy="172" rx="10" ry="6" fill="#2a1030"/>
<ellipse cx="130" cy="238" rx="8" ry="8" fill="#2a1030"/>
<ellipse cx="88" cy="222" rx="6" ry="5" fill="#3a1840"/>
<ellipse cx="240" cy="245" rx="6" ry="10" fill="#2a1030"/>
<ellipse cx="320" cy="235" rx="6" ry="8" fill="#2a1030"/>
<ellipse cx="265" cy="185" rx="8" ry="6" fill="#3a1840"/>
<ellipse cx="215" cy="215" rx="8" ry="6" fill="#3a1840"/>
<ellipse cx="500" cy="210" rx="6" ry="9" fill="#2a1030"/>
<ellipse cx="525" cy="208" rx="7" ry="7" fill="#2a1030"/>
<ellipse cx="545" cy="210" rx="5" ry="5" fill="#3a1840"/>
<ellipse cx="500" cy="238" rx="5" ry="6" fill="#4a2050"/>
<ellipse cx="460" cy="240" rx="5" ry="5" fill="#4a2050"/>
<ellipse cx="235" cy="130" rx="14" ry="5" fill="#3a1840"/>
<ellipse cx="215" cy="165" rx="5" ry="5" fill="#4a2050"/>
<ellipse cx="65" cy="328" rx="5" ry="5" fill="#2a1030"/>
<ellipse cx="370" cy="332" rx="8" ry="4" fill="#3a1840"/>
<ellipse cx="320" cy="360" rx="4" ry="6" fill="#3a1840"/>
<ellipse cx="520" cy="355" rx="5" ry="5" fill="#4a2050"/>
<circle cx="157" cy="91" r="3.0" fill="#6a2a7a" opacity="0.34"/>
<circle cx="36" cy="228" r="2.7" fill="#8a3a9a" opacity="0.40"/>
<circle cx="326" cy="144" r="2.4" fill="#8a3a9a" opacity="0.42"/>
<circle cx="553" cy="68" r="3.6" fill="#b060c0" opacity="0.66"/>
<circle cx="133" cy="155" r="3.6" fill="#b060c0" opacity="0.34"/>
<circle cx="364" cy="265" r="3.3" fill="#6a2a7a" opacity="0.41"/>
<circle cx="182" cy="348" r="4.0" fill="#7a70c0" opacity="0.68"/>
<circle cx="29" cy="149" r="3.8" fill="#b060c0" opacity="0.68"/>
<circle cx="310" cy="186" r="3.5" fill="#c8a030" opacity="0.50"/>
<circle cx="156" cy="139" r="4.0" fill="#8a3a9a" opacity="0.32"/>
<circle cx="376" cy="146" r="3.3" fill="#c8a030" opacity="0.62"/>
<circle cx="106" cy="266" r="2.2" fill="#6a2a7a" opacity="0.59"/>
<circle cx="272" cy="116" r="3.1" fill="#7a70c0" opacity="0.44"/>
<circle cx="338" cy="336" r="2.3" fill="#8a3a9a" opacity="0.62"/>
<circle cx="180" cy="238" r="4.2" fill="#8a3a9a" opacity="0.45"/>
<circle cx="124" cy="200" r="2.1" fill="#8a3a9a" opacity="0.70"/>
<circle cx="560" cy="284" r="4.4" fill="#8a3a9a" opacity="0.45"/>
<circle cx="205" cy="107" r="3.6" fill="#7a70c0" opacity="0.61"/>
<circle cx="69" cy="248" r="4.2" fill="#b060c0" opacity="0.36"/>
<circle cx="239" cy="353" r="2.8" fill="#8a3a9a" opacity="0.46"/>
<circle cx="280" cy="171" r="4.0" fill="#b060c0" opacity="0.56"/>
<circle cx="271" cy="123" r="4.3" fill="#8a3a9a" opacity="0.33"/>
<circle cx="56" cy="111" r="3.7" fill="#6a2a7a" opacity="0.57"/>
<circle cx="331" cy="238" r="2.8" fill="#8a3a9a" opacity="0.36"/>
<circle cx="321" cy="296" r="3.0" fill="#6a2a7a" opacity="0.51"/>
<circle cx="160" cy="185" r="2.1" fill="#c8a030" opacity="0.50"/>
<circle cx="388" cy="190" r="2.5" fill="#6a2a7a" opacity="0.31"/>
<circle cx="167" cy="134" r="2.5" fill="#6a2a7a" opacity="0.49"/>
<circle cx="172" cy="159" r="4.2" fill="#b060c0" opacity="0.55"/>
<circle cx="580" cy="183" r="4.3" fill="#8a3a9a" opacity="0.52"/>
<circle cx="77" cy="124" r="4.2" fill="#6a2a7a" opacity="0.45"/>
<circle cx="393" cy="304" r="3.6" fill="#c8a030" opacity="0.54"/>
<circle cx="392" cy="269" r="2.7" fill="#c8a030" opacity="0.73"/>
<circle cx="67" cy="356" r="4.4" fill="#6a2a7a" opacity="0.32"/>
<circle cx="528" cy="99" r="4.4" fill="#8a3a9a" opacity="0.69"/>
<circle cx="410" cy="202" r="3.2" fill="#c8a030" opacity="0.72"/>
<circle cx="147" cy="61" r="4.3" fill="#8a3a9a" opacity="0.57"/>
<circle cx="169" cy="181" r="3.9" fill="#c8a030" opacity="0.70"/>
<circle cx="333" cy="328" r="2.5" fill="#7a70c0" opacity="0.45"/>
<circle cx="524" cy="296" r="3.2" fill="#7a70c0" opacity="0.50"/>
<circle cx="69" cy="272" r="2.3" fill="#7a70c0" opacity="0.69"/>
<circle cx="366" cy="102" r="2.9" fill="#7a70c0" opacity="0.71"/>
<circle cx="191" cy="166" r="2.2" fill="#7a70c0" opacity="0.50"/>
<circle cx="140" cy="358" r="3.0" fill="#c8a030" opacity="0.68"/>
<circle cx="249" cy="84" r="4.3" fill="#b060c0" opacity="0.53"/>
<circle cx="268" cy="322" r="3.9" fill="#8a3a9a" opacity="0.58"/>
<circle cx="552" cy="254" r="4.3" fill="#c8a030" opacity="0.49"/>
<circle cx="472" cy="111" r="4.2" fill="#6a2a7a" opacity="0.62"/>
<circle cx="208" cy="322" r="2.6" fill="#8a3a9a" opacity="0.62"/>
<circle cx="28" cy="155" r="3.4" fill="#c8a030" opacity="0.65"/>
<circle cx="362" cy="221" r="3.3" fill="#c8a030" opacity="0.68"/>
<circle cx="225" cy="294" r="4.5" fill="#8a3a9a" opacity="0.60"/>
<circle cx="366" cy="156" r="4.3" fill="#c8a030" opacity="0.65"/>
<circle cx="343" cy="346" r="3.3" fill="#c8a030" opacity="0.58"/>
<circle cx="273" cy="103" r="3.9" fill="#b060c0" opacity="0.74"/>
<circle cx="215" cy="192" r="3.5" fill="#7a70c0" opacity="0.38"/>
<circle cx="530" cy="173" r="3.4" fill="#b060c0" opacity="0.60"/>
<circle cx="520" cy="84" r="3.6" fill="#6a2a7a" opacity="0.45"/>
<circle cx="233" cy="113" r="4.2" fill="#7a70c0" opacity="0.31"/>
<circle cx="557" cy="313" r="4.0" fill="#8a3a9a" opacity="0.37"/>
<circle cx="352" cy="211" r="3.4" fill="#8a3a9a" opacity="0.64"/>
<circle cx="567" cy="96" r="3.6" fill="#6a2a7a" opacity="0.58"/>
<circle cx="491" cy="152" r="4.3" fill="#c8a030" opacity="0.70"/>
<circle cx="158" cy="209" r="2.6" fill="#b060c0" opacity="0.40"/>
<circle cx="208" cy="251" r="4.5" fill="#c8a030" opacity="0.53"/>
<circle cx="568" cy="156" r="3.1" fill="#7a70c0" opacity="0.31"/>
<circle cx="128" cy="225" r="3.7" fill="#7a70c0" opacity="0.67"/>
<circle cx="251" cy="179" r="2.1" fill="#7a70c0" opacity="0.33"/>
<circle cx="570" cy="361" r="4.3" fill="#7a70c0" opacity="0.66"/>
<circle cx="535" cy="290" r="3.2" fill="#c8a030" opacity="0.70"/>
<circle cx="461" cy="105" r="2.6" fill="#b060c0" opacity="0.36"/>
<circle cx="51" cy="181" r="3.5" fill="#7a70c0" opacity="0.55"/>
<circle cx="562" cy="140" r="3.3" fill="#6a2a7a" opacity="0.64"/>
<circle cx="140" cy="350" r="2.2" fill="#b060c0" opacity="0.33"/>
<circle cx="581" cy="148" r="4.2" fill="#6a2a7a" opacity="0.63"/>
<circle cx="392" cy="351" r="4.2" fill="#8a3a9a" opacity="0.55"/>
<circle cx="414" cy="281" r="3.4" fill="#7a70c0" opacity="0.49"/>
<circle cx="145" cy="151" r="3.3" fill="#c8a030" opacity="0.38"/>
<circle cx="515" cy="138" r="3.0" fill="#b060c0" opacity="0.69"/>
<circle cx="209" cy="178" r="3.1" fill="#8a3a9a" opacity="0.43"/>
<circle cx="404" cy="153" r="4.0" fill="#8a3a9a" opacity="0.37"/>
<circle cx="500" cy="311" r="2.6" fill="#7a70c0" opacity="0.30"/>
<circle cx="535" cy="222" r="4.2" fill="#c8a030" opacity="0.75"/>
<circle cx="421" cy="341" r="4.3" fill="#c8a030" opacity="0.45"/>
<circle cx="122" cy="222" r="2.5" fill="#c8a030" opacity="0.58"/>
<circle cx="536" cy="153" r="3.6" fill="#c8a030" opacity="0.57"/>
<circle cx="46" cy="253" r="2.6" fill="#7a70c0" opacity="0.44"/>
<circle cx="527" cy="251" r="2.8" fill="#8a3a9a" opacity="0.70"/>
<circle cx="525" cy="329" r="3.6" fill="#8a3a9a" opacity="0.57"/>
<circle cx="320" cy="361" r="2.9" fill="#8a3a9a" opacity="0.38"/>
<circle cx="49" cy="218" r="4.1" fill="#6a2a7a" opacity="0.32"/>
<circle cx="404" cy="163" r="3.5" fill="#6a2a7a" opacity="0.61"/>
<circle cx="90" cy="358" r="4.1" fill="#7a70c0" opacity="0.68"/>
<circle cx="65" cy="129" r="2.7" fill="#8a3a9a" opacity="0.70"/>
<circle cx="570" cy="63" r="3.7" fill="#6a2a7a" opacity="0.46"/>
<circle cx="523" cy="288" r="4.0" fill="#b060c0" opacity="0.69"/>
<circle cx="379" cy="183" r="2.4" fill="#c8a030" opacity="0.74"/>
<circle cx="447" cy="323" r="2.7" fill="#b060c0" opacity="0.65"/>
<circle cx="420" cy="193" r="2.4" fill="#8a3a9a" opacity="0.52"/>
<circle cx="270" cy="356" r="2.8" fill="#c8a030" opacity="0.73"/>
<circle cx="545" cy="185" r="3.9" fill="#6a2a7a" opacity="0.42"/>
<circle cx="311" cy="69" r="2.7" fill="#b060c0" opacity="0.60"/>
<circle cx="384" cy="247" r="2.8" fill="#6a2a7a" opacity="0.58"/>
<circle cx="418" cy="345" r="2.6" fill="#6a2a7a" opacity="0.70"/>
<circle cx="305" cy="95" r="2.9" fill="#c8a030" opacity="0.56"/>
<circle cx="139" cy="89" r="3.3" fill="#8a3a9a" opacity="0.35"/>
<circle cx="569" cy="150" r="3.4" fill="#6a2a7a" opacity="0.71"/>
<circle cx="67" cy="318" r="2.4" fill="#8a3a9a" opacity="0.64"/>
<circle cx="474" cy="266" r="2.7" fill="#7a70c0" opacity="0.45"/>
<circle cx="209" cy="360" r="3.5" fill="#b060c0" opacity="0.74"/>
</g>
<rect x="595" y="36" width="165" height="30" fill="#dcdcdc"/><rect x="765" y="36" width="55" height="30" fill="#b8c4e4"/><rect x="832" y="36" width="65" height="30" fill="#aebce6"/>
<rect x="600" y="38" width="5" height="26" fill="#f4f4f4"/>
<rect x="614" y="38" width="5" height="26" fill="#f4f4f4"/>
<rect x="628" y="38" width="5" height="26" fill="#f4f4f4"/>
<rect x="642" y="38" width="5" height="26" fill="#f4f4f4"/>
<rect x="656" y="38" width="5" height="26" fill="#f4f4f4"/>
<rect x="670" y="38" width="5" height="26" fill="#f4f4f4"/>
<rect x="684" y="38" width="5" height="26" fill="#f4f4f4"/>
<rect x="698" y="38" width="5" height="26" fill="#f4f4f4"/>
<rect x="712" y="38" width="5" height="26" fill="#f4f4f4"/>
<rect x="726" y="38" width="5" height="26" fill="#f4f4f4"/>
<rect x="740" y="38" width="5" height="26" fill="#f4f4f4"/>
<rect x="754" y="38" width="5" height="26" fill="#f4f4f4"/>
<rect x="576" y="129" width="266" height="262" fill="#999" opacity="0.5"/>
<rect x="572" y="125" width="266" height="260" fill="#fff" stroke="#8a8a8a" stroke-width="4"/>
<line x1="582" y1="378" x2="830" y2="378" stroke="#555" stroke-width="3"/>
<line x1="735" y1="140" x2="735" y2="376" stroke="#aab" stroke-width="3"/><line x1="766" y1="240" x2="766" y2="376" stroke="#444" stroke-width="6"/><line x1="682" y1="330" x2="682" y2="376" stroke="#444" stroke-width="5"/><line x1="714" y1="290" x2="714" y2="310" stroke="#446" stroke-width="4"/>
<rect x="595" y="339" width="6" height="12" fill="#d66"/>
<rect x="619" y="334" width="6" height="12" fill="#66c"/>
<rect x="633" y="316" width="6" height="12" fill="#d66"/>
<rect x="647" y="342" width="6" height="12" fill="#66c"/>
<rect x="661" y="312" width="6" height="12" fill="#66c"/>
<rect x="679" y="316" width="6" height="12" fill="#66c"/>
<rect x="717" y="339" width="6" height="12" fill="#d88"/>
<rect x="747" y="259" width="6" height="12" fill="#88d"/>
<rect x="763" y="206" width="6" height="12" fill="#66c"/>
<rect x="777" y="329" width="6" height="12" fill="#d66"/>
<rect x="787" y="284" width="6" height="12" fill="#66c"/>
<rect x="807" y="339" width="6" height="12" fill="#d88"/>
<rect x="732" y="139" width="6" height="12" fill="#88d"/>
<rect x="600" y="177" width="72" height="6" fill="#555"/>
<rect x="574" y="127" width="22" height="6" fill="#4a4"/>
<path d="M655 125 L698 88" stroke="#222" stroke-width="3"/><path d="M705 80 l-18 4 l12 12z" fill="#222"/>
<rect x="18" y="372" width="402" height="302" fill="#ccd4a6"/>
<g clip-path="url(#pc)">
<clipPath id="pc"><rect x="18" y="372" width="402" height="302"/></clipPath>
<ellipse cx="100" cy="450" rx="110" ry="80" fill="url(#ring)"/><ellipse cx="360" cy="560" rx="110" ry="80" fill="url(#ring)"/><ellipse cx="60" cy="640" rx="90" ry="70" fill="url(#ring)" opacity="0.7"/>
<path d="M166 569 Q144 573 112 577" stroke="#3aa83a" stroke-width="7.6" fill="none" stroke-linecap="round" opacity="0.9"/>
<path d="M294 391 Q253 417 242 419" stroke="#30b0a0" stroke-width="6.0" fill="none" stroke-linecap="round" opacity="0.9"/>
<path d="M164 561 Q160 577 145 578" stroke="#30b0a0" stroke-width="5.0" fill="none" stroke-linecap="round" opacity="0.9"/>
<path d="M270 530 Q286 559 287 574" stroke="#c83020" stroke-width="8.0" fill="none" stroke-linecap="round" opacity="0.9"/>
<path d="M114 562 Q135 547 163 596" stroke="#3aa83a" stroke-width="6.0" fill="none" stroke-linecap="round" opacity="0.9"/>
<path d="M54 654 Q73 662 113 688" stroke="#a0c030" stroke-width="4.0" fill="none" stroke-linecap="round" opacity="0.9"/>
<path d="M230 483 Q241 492 260 507" stroke="#8a4a30" stroke-width="4.3" fill="none" stroke-linecap="round" opacity="0.9"/>
<path d="M141 550 Q132 570 125 597" stroke="#2a9a50" stroke-width="5.7" fill="none" stroke-linecap="round" opacity="0.9"/>
<path d="M342 445 Q336 444 331 477" stroke="#2a9a50" stroke-width="5.5" fill="none" stroke-linecap="round" opacity="0.9"/>
<path d="M386 430 Q360 449 352 437" stroke="#40a0c0" stroke-width="6.2" fill="none" stroke-linecap="round" opacity="0.9"/>
<path d="M227 516 Q208 516 203 530" stroke="#e8b030" stroke-width="4.6" fill="none" stroke-linecap="round" opacity="0.9"/>
<path d="M324 546 Q327 579 272 580" stroke="#3070d0" stroke-width="7.1" fill="none" stroke-linecap="round" opacity="0.9"/>
<path d="M226 459 Q241 504 264 510" stroke="#d83a2a" stroke-width="7.0" fill="none" stroke-linecap="round" opacity="0.9"/>
<path d="M236 478 Q266 495 262 511" stroke="#e89a20" stroke-width="7.4" fill="none" stroke-linecap="round" opacity="0.9"/>
<path d="M401 444 Q386 463 353 478" stroke="#3aa83a" stroke-width="6.7" fill="none" stroke-linecap="round" opacity="0.9"/>
<path d="M187 635 Q187 635 163 635" stroke="#3aa83a" stroke-width="6.1" fill="none" stroke-linecap="round" opacity="0.9"/>
<path d="M268 541 Q239 556 250 584" stroke="#e89a20" stroke-width="4.3" fill="none" stroke-linecap="round" opacity="0.9"/>
<path d="M221 526 Q229 561 242 559" stroke="#3070d0" stroke-width="4.5" fill="none" stroke-linecap="round" opacity="0.9"/>
<path d="M343 526 Q346 509 379 530" stroke="#e89a20" stroke-width="6.4" fill="none" stroke-linecap="round" opacity="0.9"/>
<path d="M380 431 Q406 463 417 467" stroke="#a0c030" stroke-width="6.6" fill="none" stroke-linecap="round" opacity="0.9"/>
<path d="M197 462 Q197 472 230 499" stroke="#e89a20" stroke-width="6.8" fill="none" stroke-linecap="round" opacity="0.9"/>
<path d="M408 430 Q365 438 359 454" stroke="#60c040" stroke-width="5.1" fill="none" stroke-linecap="round" opacity="0.9"/>
<path d="M372 444 Q361 447 341 466" stroke="#2a9a50" stroke-width="4.4" fill="none" stroke-linecap="round" opacity="0.9"/>
<path d="M417 402 Q406 440 367 422" stroke="#3aa83a" stroke-width="5.5" fill="none" stroke-linecap="round" opacity="0.9"/>
<path d="M237 511 Q248 516 254 533" stroke="#e8b030" stroke-width="4.2" fill="none" stroke-linecap="round" opacity="0.9"/>
<path d="M135 584 Q122 628 123 650" stroke="#3aa83a" stroke-width="6.7" fill="none" stroke-linecap="round" opacity="0.9"/>
<path d="M50 638 Q31 680 53 704" stroke="#2a9a50" stroke-width="5.6" fill="none" stroke-linecap="round" opacity="0.9"/>
<path d="M84 616 Q108 630 111 624" stroke="#3aa83a" stroke-width="5.4" fill="none" stroke-linecap="round" opacity="0.9"/>
<path d="M350 446 Q336 450 311 460" stroke="#60c040" stroke-width="7.7" fill="none" stroke-linecap="round" opacity="0.9"/>
<path d="M414 398 Q433 413 425 453" stroke="#a0c030" stroke-width="6.5" fill="none" stroke-linecap="round" opacity="0.9"/>
<path d="M362 432 Q369 442 359 490" stroke="#3aa83a" stroke-width="6.5" fill="none" stroke-linecap="round" opacity="0.9"/>
<path d="M323 482 Q319 491 332 528" stroke="#8a4a30" stroke-width="7.8" fill="none" stroke-linecap="round" opacity="0.9"/>
<path d="M296 448 Q322 474 328 471" stroke="#60c040" stroke-width="7.8" fill="none" stroke-linecap="round" opacity="0.9"/>
<path d="M437 417 Q404 408 372 424" stroke="#2a9a50" stroke-width="6.0" fill="none" stroke-linecap="round" opacity="0.9"/>
<path d="M316 359 Q342 396 352 396" stroke="#8a4a30" stroke-width="4.7" fill="none" stroke-linecap="round" opacity="0.9"/>
<path d="M152 589 Q165 607 174 599" stroke="#60c040" stroke-width="5.3" fill="none" stroke-linecap="round" opacity="0.9"/>
<path d="M171 549 Q182 575 158 571" stroke="#30b0a0" stroke-width="5.0" fill="none" stroke-linecap="round" opacity="0.9"/>
<path d="M179 503 Q198 533 199 516" stroke="#e89a20" stroke-width="4.9" fill="none" stroke-linecap="round" opacity="0.9"/>
<path d="M69 594 Q73 615 55 648" stroke="#a0c030" stroke-width="6.5" fill="none" stroke-linecap="round" opacity="0.9"/>
<path d="M138 609 Q126 608 113 617" stroke="#60c040" stroke-width="6.8" fill="none" stroke-linecap="round" opacity="0.9"/>
<path d="M126 558 Q111 552 77 584" stroke="#3aa83a" stroke-width="5.7" fill="none" stroke-linecap="round" opacity="0.9"/>
<path d="M324 436 Q319 432 376 441" stroke="#2a9a50" stroke-width="5.9" fill="none" stroke-linecap="round" opacity="0.9"/>
<path d="M250 504 Q243 524 266 522" stroke="#c83020" stroke-width="7.5" fill="none" stroke-linecap="round" opacity="0.9"/>
<path d="M234 511 Q241 524 233 544" stroke="#3070d0" stroke-width="7.1" fill="none" stroke-linecap="round" opacity="0.9"/>
<path d="M307 486 Q303 474 301 513" stroke="#3070d0" stroke-width="4.1" fill="none" stroke-linecap="round" opacity="0.9"/>
<path d="M199 439 Q220 454 238 486" stroke="#d83a2a" stroke-width="7.2" fill="none" stroke-linecap="round" opacity="0.9"/>
<path d="M236 579 Q263 564 274 591" stroke="#d83a2a" stroke-width="6.4" fill="none" stroke-linecap="round" opacity="0.9"/>
<path d="M378 446 Q364 436 347 450" stroke="#8a4a30" stroke-width="4.1" fill="none" stroke-linecap="round" opacity="0.9"/>
<path d="M135 510 Q155 514 162 553" stroke="#40a0c0" stroke-width="5.7" fill="none" stroke-linecap="round" opacity="0.9"/>
<path d="M262 542 Q243 562 225 568" stroke="#30b0a0" stroke-width="6.6" fill="none" stroke-linecap="round" opacity="0.9"/>
<path d="M391 387 Q368 414 366 435" stroke="#40a0c0" stroke-width="7.0" fill="none" stroke-linecap="round" opacity="0.9"/>
<path d="M119 588 Q112 610 118 620" stroke="#a0c030" stroke-width="5.3" fill="none" stroke-linecap="round" opacity="0.9"/>
<path d="M275 486 Q251 511 247 520" stroke="#e8b030" stroke-width="4.8" fill="none" stroke-linecap="round" opacity="0.9"/>
<path d="M255 415 Q296 436 305 449" stroke="#3070d0" stroke-width="5.0" fill="none" stroke-linecap="round" opacity="0.9"/>
<path d="M338 420 Q329 426 313 453" stroke="#30b0a0" stroke-width="5.8" fill="none" stroke-linecap="round" opacity="0.9"/>
<path d="M263 514 Q268 525 269 581" stroke="#e89a20" stroke-width="7.7" fill="none" stroke-linecap="round" opacity="0.9"/>
<path d="M196 571 Q173 610 170 590" stroke="#d83a2a" stroke-width="6.6" fill="none" stroke-linecap="round" opacity="0.9"/>
<path d="M107 582 Q74 584 55 599" stroke="#3aa83a" stroke-width="7.1" fill="none" stroke-linecap="round" opacity="0.9"/>
<path d="M186 543 Q242 548 247 564" stroke="#d83a2a" stroke-width="5.1" fill="none" stroke-linecap="round" opacity="0.9"/>
<path d="M290 487 Q281 481 276 520" stroke="#d83a2a" stroke-width="7.7" fill="none" stroke-linecap="round" opacity="0.9"/>
<path d="M160 575 Q165 585 186 603" stroke="#60c040" stroke-width="7.4" fill="none" stroke-linecap="round" opacity="0.9"/>
<path d="M277 513 Q266 516 244 528" stroke="#e8b030" stroke-width="5.6" fill="none" stroke-linecap="round" opacity="0.9"/>
<path d="M297 431 Q298 475 274 470" stroke="#3070d0" stroke-width="7.5" fill="none" stroke-linecap="round" opacity="0.9"/>
<path d="M356 476 Q338 493 328 531" stroke="#40a0c0" stroke-width="6.7" fill="none" stroke-linecap="round" opacity="0.9"/>
<path d="M324 430 Q349 462 329 476" stroke="#40a0c0" stroke-width="5.8" fill="none" stroke-linecap="round" opacity="0.9"/>
<path d="M274 463 Q299 485 257 510" stroke="#e89a20" stroke-width="5.7" fill="none" stroke-linecap="round" opacity="0.9"/>
<path d="M211 474 Q192 494 190 500" stroke="#3070d0" stroke-width="5.3" fill="none" stroke-linecap="round" opacity="0.9"/>
<path d="M139 545 Q143 554 162 562" stroke="#2a9a50" stroke-width="5.0" fill="none" stroke-linecap="round" opacity="0.9"/>
<path d="M303 514 Q289 522 282 536" stroke="#c83020" stroke-width="5.5" fill="none" stroke-linecap="round" opacity="0.9"/>
<path d="M310 428 Q291 455 301 476" stroke="#40a0c0" stroke-width="6.4" fill="none" stroke-linecap="round" opacity="0.9"/>
<path d="M298 548 Q290 529 245 572" stroke="#e8b030" stroke-width="5.9" fill="none" stroke-linecap="round" opacity="0.9"/>
<path d="M329 376 Q328 379 296 383" stroke="#3070d0" stroke-width="6.5" fill="none" stroke-linecap="round" opacity="0.9"/>
<path d="M155 579 Q139 597 143 616" stroke="#2a9a50" stroke-width="5.3" fill="none" stroke-linecap="round" opacity="0.9"/>
<path d="M190 451 Q209 469 236 457" stroke="#d83a2a" stroke-width="6.9" fill="none" stroke-linecap="round" opacity="0.9"/>
<path d="M318 463 Q314 493 313 517" stroke="#30b0a0" stroke-width="7.7" fill="none" stroke-linecap="round" opacity="0.9"/>
<path d="M303 465 Q283 459 274 477" stroke="#c83020" stroke-width="6.6" fill="none" stroke-linecap="round" opacity="0.9"/>
<path d="M265 575 Q274 611 285 606" stroke="#3070d0" stroke-width="5.2" fill="none" stroke-linecap="round" opacity="0.9"/>
<path d="M234 482 Q196 518 186 519" stroke="#c83020" stroke-width="6.6" fill="none" stroke-linecap="round" opacity="0.9"/>
<path d="M40 577 Q15 593 19 593" stroke="#a0c030" stroke-width="6.2" fill="none" stroke-linecap="round" opacity="0.9"/>
<path d="M312 424 Q290 452 286 467" stroke="#2a9a50" stroke-width="7.5" fill="none" stroke-linecap="round" opacity="0.9"/>
<path d="M173 501 Q170 536 206 528" stroke="#e8b030" stroke-width="6.9" fill="none" stroke-linecap="round" opacity="0.9"/>
<path d="M142 620 Q161 611 200 642" stroke="#8a4a30" stroke-width="6.7" fill="none" stroke-linecap="round" opacity="0.9"/>
<path d="M301 369 Q300 403 294 402" stroke="#8a4a30" stroke-width="4.7" fill="none" stroke-linecap="round" opacity="0.9"/>
<path d="M331 472 Q357 464 353 489" stroke="#e8d030" stroke-width="7.2" fill="none" stroke-linecap="round" opacity="0.9"/>
<path d="M403 389 Q415 379 361 409" stroke="#a0c030" stroke-width="4.9" fill="none" stroke-linecap="round" opacity="0.9"/>
<path d="M148 526 Q146 570 152 589" stroke="#3070d0" stroke-width="4.8" fill="none" stroke-linecap="round" opacity="0.9"/>
<path d="M108 578 Q99 596 73 594" stroke="#2a9a50" stroke-width="4.9" fill="none" stroke-linecap="round" opacity="0.9"/>
<path d="M183 540 Q189 549 229 564" stroke="#40a0c0" stroke-width="6.5" fill="none" stroke-linecap="round" opacity="0.9"/>
<path d="M150 511 Q179 539 202 515" stroke="#40a0c0" stroke-width="4.6" fill="none" stroke-linecap="round" opacity="0.9"/>
<path d="M363 430 Q390 444 418 451" stroke="#2a9a50" stroke-width="7.4" fill="none" stroke-linecap="round" opacity="0.9"/>
<path d="M178 536 Q159 579 147 574" stroke="#60c040" stroke-width="5.3" fill="none" stroke-linecap="round" opacity="0.9"/>
<path d="M360 384 Q359 443 375 448" stroke="#2a9a50" stroke-width="4.4" fill="none" stroke-linecap="round" opacity="0.9"/>
<path d="M57 630 Q82 645 88 652" stroke="#60c040" stroke-width="7.0" fill="none" stroke-linecap="round" opacity="0.9"/>
<path d="M240 424 Q205 440 202 447" stroke="#d83a2a" stroke-width="7.0" fill="none" stroke-linecap="round" opacity="0.9"/>
<path d="M252 535 Q223 551 210 543" stroke="#e8d030" stroke-width="6.9" fill="none" stroke-linecap="round" opacity="0.9"/>
<path d="M306 386 Q303 380 283 405" stroke="#3aa83a" stroke-width="5.3" fill="none" stroke-linecap="round" opacity="0.9"/>
<path d="M108 544 Q114 562 111 606" stroke="#60c040" stroke-width="4.6" fill="none" stroke-linecap="round" opacity="0.9"/>
<path d="M74 546 Q97 547 120 567" stroke="#30b0a0" stroke-width="7.3" fill="none" stroke-linecap="round" opacity="0.9"/>
<path d="M78 623 Q108 641 132 637" stroke="#a0c030" stroke-width="4.4" fill="none" stroke-linecap="round" opacity="0.9"/>
<path d="M255 515 Q274 531 301 519" stroke="#a0c030" stroke-width="6.0" fill="none" stroke-linecap="round" opacity="0.9"/>
<path d="M320 390 Q328 414 316 446" stroke="#a0c030" stroke-width="7.0" fill="none" stroke-linecap="round" opacity="0.9"/>
<path d="M381 402 Q370 379 345 418" stroke="#3aa83a" stroke-width="7.2" fill="none" stroke-linecap="round" opacity="0.9"/>
<path d="M345 461 Q319 461 323 500" stroke="#3070d0" stroke-width="7.5" fill="none" stroke-linecap="round" opacity="0.9"/>
<path d="M249 515 Q272 527 278 528" stroke="#e8b030" stroke-width="7.0" fill="none" stroke-linecap="round" opacity="0.9"/>
<path d="M183 479 Q200 508 208 536" stroke="#30b0a0" stroke-width="5.3" fill="none" stroke-linecap="round" opacity="0.9"/>
<path d="M248 475 Q280 509 289 501" stroke="#e8b030" stroke-width="5.7" fill="none" stroke-linecap="round" opacity="0.9"/>
<path d="M124 654 Q109 648 60 666" stroke="#60c040" stroke-width="6.0" fill="none" stroke-linecap="round" opacity="0.9"/>
<path d="M170 579 Q160 604 127 610" stroke="#e8b030" stroke-width="5.4" fill="none" stroke-linecap="round" opacity="0.9"/>
<path d="M390 374 Q364 369 346 389" stroke="#a0c030" stroke-width="5.7" fill="none" stroke-linecap="round" opacity="0.9"/>
<path d="M339 491 Q361 515 334 541" stroke="#8a4a30" stroke-width="7.5" fill="none" stroke-linecap="round" opacity="0.9"/>
<path d="M297 546 Q307 570 287 584" stroke="#d83a2a" stroke-width="4.2" fill="none" stroke-linecap="round" opacity="0.9"/>
<path d="M138 535 Q135 526 144 567" stroke="#40a0c0" stroke-width="5.0" fill="none" stroke-linecap="round" opacity="0.9"/>
<path d="M264 527 Q276 546 285 557" stroke="#d83a2a" stroke-width="6.3" fill="none" stroke-linecap="round" opacity="0.9"/>
<path d="M255 551 Q260 569 281 554" stroke="#3070d0" stroke-width="4.1" fill="none" stroke-linecap="round" opacity="0.9"/>
<path d="M118 545 Q144 566 138 595" stroke="#2a9a50" stroke-width="5.8" fill="none" stroke-linecap="round" opacity="0.9"/>
<path d="M253 463 Q278 497 280 484" stroke="#30b0a0" stroke-width="4.3" fill="none" stroke-linecap="round" opacity="0.9"/>
<path d="M252 479 Q282 460 304 486" stroke="#d83a2a" stroke-width="5.2" fill="none" stroke-linecap="round" opacity="0.9"/>
<path d="M241 621 Q251 629 212 627" stroke="#3070d0" stroke-width="4.8" fill="none" stroke-linecap="round" opacity="0.9"/>
<path d="M326 349 Q356 375 372 396" stroke="#60c040" stroke-width="7.3" fill="none" stroke-linecap="round" opacity="0.9"/>
<path d="M385 371 Q388 383 381 409" stroke="#3aa83a" stroke-width="4.8" fill="none" stroke-linecap="round" opacity="0.9"/>
<path d="M193 490 Q187 518 216 525" stroke="#d83a2a" stroke-width="5.7" fill="none" stroke-linecap="round" opacity="0.9"/>
<path d="M311 468 Q331 482 359 489" stroke="#3070d0" stroke-width="5.7" fill="none" stroke-linecap="round" opacity="0.9"/>
<path d="M251 460 Q261 476 277 485" stroke="#3070d0" stroke-width="5.9" fill="none" stroke-linecap="round" opacity="0.9"/>
<path d="M357 439 Q352 435 316 443" stroke="#e8d030" stroke-width="6.6" fill="none" stroke-linecap="round" opacity="0.9"/>
<path d="M283 426 Q291 437 309 453" stroke="#e8d030" stroke-width="6.0" fill="none" stroke-linecap="round" opacity="0.9"/>
<path d="M218 497 Q216 533 203 555" stroke="#e89a20" stroke-width="5.1" fill="none" stroke-linecap="round" opacity="0.9"/>
<path d="M173 532 Q207 571 222 541" stroke="#a0c030" stroke-width="4.3" fill="none" stroke-linecap="round" opacity="0.9"/>
<path d="M133 579 Q164 587 145 605" stroke="#40a0c0" stroke-width="4.2" fill="none" stroke-linecap="round" opacity="0.9"/>
<path d="M309 428 Q328 423 358 436" stroke="#a0c030" stroke-width="4.4" fill="none" stroke-linecap="round" opacity="0.9"/>
<path d="M289 511 Q271 502 251 524" stroke="#e89a20" stroke-width="6.3" fill="none" stroke-linecap="round" opacity="0.9"/>
<path d="M229 525 Q187 569 188 551" stroke="#e8b030" stroke-width="6.2" fill="none" stroke-linecap="round" opacity="0.9"/>
<path d="M119 583 Q122 608 98 601" stroke="#3aa83a" stroke-width="6.0" fill="none" stroke-linecap="round" opacity="0.9"/>
<path d="M156 543 Q143 581 173 569" stroke="#8a4a30" stroke-width="7.1" fill="none" stroke-linecap="round" opacity="0.9"/>
<path d="M214 526 Q226 531 250 580" stroke="#c83020" stroke-width="7.9" fill="none" stroke-linecap="round" opacity="0.9"/>
<path d="M432 469 Q451 491 424 493" stroke="#2a9a50" stroke-width="5.5" fill="none" stroke-linecap="round" opacity="0.9"/>
<path d="M430 367 Q439 396 423 426" stroke="#3aa83a" stroke-width="5.7" fill="none" stroke-linecap="round" opacity="0.9"/>
<path d="M194 543 Q217 539 258 555" stroke="#e89a20" stroke-width="7.4" fill="none" stroke-linecap="round" opacity="0.9"/>
<path d="M-9 588 Q12 613 21 630" stroke="#2a9a50" stroke-width="7.2" fill="none" stroke-linecap="round" opacity="0.9"/>
<path d="M330 446 Q325 476 299 464" stroke="#40a0c0" stroke-width="5.1" fill="none" stroke-linecap="round" opacity="0.9"/>
<path d="M120 550 Q152 545 179 581" stroke="#3aa83a" stroke-width="6.2" fill="none" stroke-linecap="round" opacity="0.9"/>
<path d="M188 472 Q203 505 220 492" stroke="#d83a2a" stroke-width="7.3" fill="none" stroke-linecap="round" opacity="0.9"/>
<path d="M311 468 Q337 500 317 517" stroke="#8a4a30" stroke-width="5.8" fill="none" stroke-linecap="round" opacity="0.9"/>
<path d="M141 564 Q127 589 123 593" stroke="#e8d030" stroke-width="4.4" fill="none" stroke-linecap="round" opacity="0.9"/>
<path d="M268 565 Q275 583 303 576" stroke="#e8b030" stroke-width="7.5" fill="none" stroke-linecap="round" opacity="0.9"/>
<path d="M183 537 Q188 542 184 575" stroke="#c83020" stroke-width="5.3" fill="none" stroke-linecap="round" opacity="0.9"/>
<path d="M90 622 Q92 658 99 678" stroke="#a0c030" stroke-width="7.3" fill="none" stroke-linecap="round" opacity="0.9"/>
<path d="M233 534 Q285 559 294 546" stroke="#c83020" stroke-width="6.1" fill="none" stroke-linecap="round" opacity="0.9"/>
<path d="M103 618 Q123 624 141 649" stroke="#2a9a50" stroke-width="7.2" fill="none" stroke-linecap="round" opacity="0.9"/>
<path d="M147 516 Q115 557 109 571" stroke="#40a0c0" stroke-width="5.1" fill="none" stroke-linecap="round" opacity="0.9"/>
<path d="M141 626 Q128 653 126 682" stroke="#a0c030" stroke-width="5.8" fill="none" stroke-linecap="round" opacity="0.9"/>
</g>
<rect x="18" y="678" width="210" height="14" fill="#111"/><rect x="225" y="678" width="200" height="14" fill="#d818d8"/>
<rect x="425" y="392" width="370" height="303" fill="#f1f1f1"/>
<g transform="translate(505 565) rotate(-38)"><rect x="-37" y="-60" width="75" height="120" fill="#ecd8c2" stroke="#d8c0a8" stroke-width="2"/>
<line x1="-32" y1="-40" x2="32" y2="-40" stroke="#d9b8a0" stroke-width="2" stroke-dasharray="3 3"/>
<line x1="-32" y1="-20" x2="32" y2="-20" stroke="#d9b8a0" stroke-width="2" stroke-dasharray="3 3"/>
<line x1="-32" y1="0" x2="32" y2="0" stroke="#d9b8a0" stroke-width="2" stroke-dasharray="3 3"/>
<line x1="-32" y1="20" x2="32" y2="20" stroke="#d9b8a0" stroke-width="2" stroke-dasharray="3 3"/>
<line x1="-32" y1="40" x2="32" y2="40" stroke="#d9b8a0" stroke-width="2" stroke-dasharray="3 3"/>
</g>
<g transform="translate(545 510) rotate(-20)"><rect x="-37" y="-60" width="75" height="120" fill="#f2e6da" stroke="#d8c0a8" stroke-width="2"/>
<line x1="-32" y1="-40" x2="32" y2="-40" stroke="#d9b8a0" stroke-width="2" stroke-dasharray="3 3"/>
<line x1="-32" y1="-20" x2="32" y2="-20" stroke="#d9b8a0" stroke-width="2" stroke-dasharray="3 3"/>
<line x1="-32" y1="0" x2="32" y2="0" stroke="#d9b8a0" stroke-width="2" stroke-dasharray="3 3"/>
<line x1="-32" y1="20" x2="32" y2="20" stroke="#d9b8a0" stroke-width="2" stroke-dasharray="3 3"/>
<line x1="-32" y1="40" x2="32" y2="40" stroke="#d9b8a0" stroke-width="2" stroke-dasharray="3 3"/>
</g>
<g transform="translate(735 560) rotate(38)"><rect x="-37" y="-60" width="75" height="120" fill="#ecd8c2" stroke="#d8c0a8" stroke-width="2"/>
<line x1="-32" y1="-40" x2="32" y2="-40" stroke="#d9b8a0" stroke-width="2" stroke-dasharray="3 3"/>
<line x1="-32" y1="-20" x2="32" y2="-20" stroke="#d9b8a0" stroke-width="2" stroke-dasharray="3 3"/>
<line x1="-32" y1="0" x2="32" y2="0" stroke="#d9b8a0" stroke-width="2" stroke-dasharray="3 3"/>
<line x1="-32" y1="20" x2="32" y2="20" stroke="#d9b8a0" stroke-width="2" stroke-dasharray="3 3"/>
<line x1="-32" y1="40" x2="32" y2="40" stroke="#d9b8a0" stroke-width="2" stroke-dasharray="3 3"/>
</g>
<g transform="translate(690 505) rotate(20)"><rect x="-37" y="-62" width="75" height="125" fill="#eedccb" stroke="#d8c0a8" stroke-width="2"/>
<line x1="-32" y1="-42" x2="32" y2="-42" stroke="#d9b8a0" stroke-width="2" stroke-dasharray="3 3"/>
<line x1="-32" y1="-21" x2="32" y2="-21" stroke="#d9b8a0" stroke-width="2" stroke-dasharray="3 3"/>
<line x1="-32" y1="0" x2="32" y2="0" stroke="#d9b8a0" stroke-width="2" stroke-dasharray="3 3"/>
<line x1="-32" y1="21" x2="32" y2="21" stroke="#d9b8a0" stroke-width="2" stroke-dasharray="3 3"/>
<line x1="-32" y1="42" x2="32" y2="42" stroke="#d9b8a0" stroke-width="2" stroke-dasharray="3 3"/>
</g>
<rect x="572" y="420" width="74" height="136" fill="#2e2e2e"/>
<line x1="572" y1="437" x2="646" y2="437" stroke="#555" stroke-width="1.5"/>
<line x1="572" y1="454" x2="646" y2="454" stroke="#555" stroke-width="1.5"/>
<line x1="572" y1="471" x2="646" y2="471" stroke="#555" stroke-width="1.5"/>
<line x1="572" y1="488" x2="646" y2="488" stroke="#555" stroke-width="1.5"/>
<line x1="572" y1="505" x2="646" y2="505" stroke="#555" stroke-width="1.5"/>
<line x1="572" y1="522" x2="646" y2="522" stroke="#555" stroke-width="1.5"/>
<line x1="572" y1="539" x2="646" y2="539" stroke="#555" stroke-width="1.5"/>
<line x1="590" y1="420" x2="590" y2="556" stroke="#555" stroke-width="1.5"/>
<line x1="609" y1="420" x2="609" y2="556" stroke="#555" stroke-width="1.5"/>
<line x1="627" y1="420" x2="627" y2="556" stroke="#555" stroke-width="1.5"/>
<path d="M715 465 L746 405" stroke="#222" stroke-width="3"/><path d="M752 393 l-14 10 l12 8z" fill="#222"/>
<path d="M430 478 l14 -10 v18z" fill="#333"/>
<rect x="909" y="60" width="5" height="12" fill="#d0a0d8" opacity="0.7"/>
<rect x="909" y="84" width="5" height="5" fill="#7a3a8a" opacity="0.7"/>
<rect x="909" y="108" width="5" height="10" fill="#d0a0d8" opacity="0.7"/>
<rect x="909" y="132" width="5" height="12" fill="#7a3a8a" opacity="0.7"/>
<rect x="909" y="156" width="5" height="4" fill="#a050b0" opacity="0.7"/>
<rect x="909" y="180" width="5" height="11" fill="#7a3a8a" opacity="0.7"/>
<rect x="909" y="204" width="5" height="10" fill="#d0a0d8" opacity="0.7"/>
<rect x="909" y="228" width="5" height="12" fill="#d0a0d8" opacity="0.7"/>
<rect x="909" y="252" width="5" height="11" fill="#d0a0d8" opacity="0.7"/>
<rect x="909" y="276" width="5" height="5" fill="#a050b0" opacity="0.7"/>
<rect x="909" y="300" width="5" height="12" fill="#d0a0d8" opacity="0.7"/>
<rect x="909" y="324" width="5" height="7" fill="#d0a0d8" opacity="0.7"/>
<rect x="909" y="348" width="5" height="9" fill="#7a3a8a" opacity="0.7"/>
<rect x="909" y="372" width="5" height="6" fill="#7a3a8a" opacity="0.7"/>
<rect x="909" y="396" width="5" height="4" fill="#7a3a8a" opacity="0.7"/>
<rect x="909" y="420" width="5" height="8" fill="#d0a0d8" opacity="0.7"/>
<rect x="909" y="444" width="5" height="9" fill="#7a3a8a" opacity="0.7"/>
<rect x="909" y="468" width="5" height="4" fill="#a050b0" opacity="0.7"/>
<rect x="909" y="492" width="5" height="6" fill="#7a3a8a" opacity="0.7"/>
<rect x="909" y="516" width="5" height="4" fill="#d0a0d8" opacity="0.7"/>
<rect x="909" y="540" width="5" height="9" fill="#7a3a8a" opacity="0.7"/>
<rect x="909" y="564" width="5" height="6" fill="#a050b0" opacity="0.7"/>
<rect x="909" y="588" width="5" height="9" fill="#a050b0" opacity="0.7"/>
<rect x="909" y="612" width="5" height="12" fill="#a050b0" opacity="0.7"/>
<rect x="909" y="636" width="5" height="5" fill="#a050b0" opacity="0.7"/>
<rect x="909" y="660" width="5" height="10" fill="#7a3a8a" opacity="0.7"/>
<rect x="909" y="684" width="5" height="5" fill="#7a3a8a" opacity="0.7"/>
</svg></div>
<div class="box cn" style="left:220px;top:477px;width:167px;height:34px;background:#0b6069;line-height:35px;">蛋白质</div>

<div class="img" id="img-body" style="left:11px;top:543px;width:165px;height:114px;background:#8c7f78;"><svg width="165" height="114" viewBox="18 18 990 684" style="position:absolute;left:0;top:0;font-family:'Liberation Sans',sans-serif;">
<defs>
<linearGradient id="bbg" x1="0" y1="0" x2="1" y2="0"><stop offset="0" stop-color="#82766f"/><stop offset="0.3" stop-color="#8c807a"/><stop offset="0.55" stop-color="#c8c0bc"/><stop offset="1" stop-color="#e4e0dc"/></linearGradient>
<linearGradient id="bbg2" x1="0" y1="0" x2="0" y2="1"><stop offset="0" stop-color="#7a706a" stop-opacity="0.25"/><stop offset="0.5" stop-color="#7a706a" stop-opacity="0.1"/><stop offset="1" stop-color="#fff" stop-opacity="0.25"/></linearGradient>
<linearGradient id="skin" x1="0" y1="0" x2="1" y2="0"><stop offset="0" stop-color="#b87848"/><stop offset="0.22" stop-color="#d69a68"/><stop offset="0.5" stop-color="#eec4a4"/><stop offset="0.75" stop-color="#d89868"/><stop offset="0.9" stop-color="#8a4a24"/><stop offset="1" stop-color="#4a2410"/></linearGradient>
<linearGradient id="arm" x1="0" y1="0" x2="1" y2="0"><stop offset="0" stop-color="#e8c8b0"/><stop offset="0.3" stop-color="#d8a070"/><stop offset="1" stop-color="#9a5c34"/></linearGradient>
<filter id="bb" x="-30%" y="-30%" width="160%" height="160%"><feGaussianBlur stdDeviation="20"/></filter>
<filter id="bb2"><feGaussianBlur stdDeviation="4"/></filter>
<clipPath id="bc"><rect x="18" y="18" width="990" height="684"/></clipPath>
</defs>
<g clip-path="url(#bc)">
<rect x="18" y="18" width="990" height="684" fill="url(#bbg)"/><rect x="18" y="18" width="990" height="684" fill="url(#bbg2)"/>
<path d="M360 560 L450 520 L460 700 L340 700z" fill="#e6dedc" filter="url(#bb2)"/>
<path d="M930 520 L1000 480 L1010 700 L900 700z" fill="#f4f0ee" filter="url(#bb2)"/>
<path d="M820 18 H1010 V170 Q930 100 820 30z" fill="#e8e4e0"/>
<g fill="#6f645e" opacity="0.35"><path d="M90 430 l60 35 v70 l-60 35 l-60 -35 v-70z"/><path d="M150 535 l60 35 v70 l-60 35 l-60 -35 v-70z" opacity="0.6"/><path d="M210 430 l60 35 v70 l-60 35 l-60 -35 v-70z" opacity="0.5"/></g>
<g stroke="#4a4440" stroke-width="5" fill="none" opacity="0.75"><path d="M85 25 L125 75 L95 125 L135 185 L95 240 L125 295"/><path d="M20 125 H95 M20 240 H95"/><path d="M190 75 H380" stroke-dasharray="18 12"/><path d="M190 185 H330" stroke-dasharray="18 12" opacity="0.6"/><path d="M140 295 H390" stroke-dasharray="18 12" opacity="0.6"/></g>
<g font-size="26" font-weight="bold" fill="#3a3430" opacity="0.8"><text x="112" y="82">N–H</text><text x="385" y="78">O</text><text x="120" y="192">N</text><text x="112" y="302">O</text><text x="655" y="80">CH₃</text><text x="345" y="190">H–N</text></g>
<path d="M600 18 H820 L830 60 Q900 80 960 130 Q1010 170 1010 260 V702 H200 L250 500 Q280 360 310 260 Q330 170 440 110 Q540 70 600 40z" fill="url(#skin)"/>
<path d="M600 40 Q540 70 440 110 Q330 170 310 260 Q280 360 250 500 L205 702" fill="none" stroke="#f4ece8" stroke-width="10" opacity="0.9"/>
<path d="M415 520 Q430 600 455 702 H365 Q400 600 405 530z" fill="#e8e2e0"/>
<path d="M915 280 Q890 420 900 520 Q905 620 890 702 H1010 V200 Q960 220 915 280z" fill="#4a2410" filter="url(#bb)"/>
<path d="M935 540 Q950 600 940 702 H995 Q1000 560 985 500z" fill="#f6f2f0"/>
<path d="M985 160 Q1010 300 1000 702 H1010 V160z" fill="#3a2414" opacity="0.8"/>
<g filter="url(#bb)">
<ellipse cx="760" cy="330" rx="120" ry="120" fill="#fbeee6" opacity="0.8"/>
<ellipse cx="560" cy="330" rx="90" ry="80" fill="#f4d8bc" opacity="0.8"/>
<path d="M430 300 Q420 420 440 520 L470 470 Q520 500 620 470 Q560 420 470 300z" fill="#7a3c18" opacity="0.8"/>
<path d="M600 470 Q760 520 900 440 L900 500 Q760 560 600 520z" fill="#8a4820" opacity="0.75"/>
<path d="M620 30 Q700 110 810 30 L810 120 Q700 170 610 110z" fill="#b06a3c" opacity="0.7"/>
<path d="M300 300 Q330 250 420 300 L400 520 Q380 640 360 700 L300 700 Q340 520 300 300z" fill="#b87848" opacity="0.6"/>
<path d="M480 540 Q640 560 880 540 L880 702 H470z" fill="#d09868" opacity="0.5"/>
<path d="M660 18 h120 q-10 35 -60 35 q-50 0 -60 -35z" fill="#4a2a18" opacity="0.8"/>
</g>
<ellipse cx="488" cy="436" rx="14" ry="12" fill="#6a3418" opacity="0.8" filter="url(#bb2)"/><ellipse cx="868" cy="462" rx="12" ry="10" fill="#6a3418" opacity="0.6" filter="url(#bb2)"/>
<path d="M475 110 l62 36 v72 l-62 36 l-62 -36 v-72z" fill="#5c4c40" opacity="0.55" stroke="#3a3028" stroke-width="4"/>
<path d="M575 75 l48 28 v52 l-48 28 l-48 -28 v-52z" fill="#6c5a48" opacity="0.55" stroke="#3a3028" stroke-width="3"/>
<path d="M350 185 l62 -36 M413 218 l-62 60 l-40 10" stroke="#5a4a3c" stroke-width="4" fill="none" opacity="0.6"/>
<path d="M690 165 h85 l22 55 l-62 40 l-62 -40z" fill="none" stroke="#8a7868" stroke-width="4" opacity="0.8"/><path d="M623 160 l60 60 M640 90 l30 -15" stroke="#6a5848" stroke-width="4" opacity="0.7"/>
<g fill="none" stroke="#b8aaa0" stroke-width="4" opacity="0.85">
<path d="M560 300 Q600 250 700 262 Q790 280 800 340 Q780 420 640 470 Q560 510 560 560 Q580 620 700 640"/>
<path d="M800 300 Q700 290 620 330 Q540 370 580 420 Q640 470 760 500 Q820 520 800 580 Q760 640 640 660"/>
<path d="M600 320 H770"/>
<path d="M600 350 H770"/>
<path d="M600 380 H770"/>
<path d="M600 470 H770"/>
<path d="M600 500 H770"/>
<path d="M600 530 H770"/>
<path d="M600 590 H770"/>
<path d="M600 615 H770"/>
</g>
</g></svg></div>
<div class="box" style="left:7px;top:652px;width:167px;height:34px;background:#d9d9d9;color:#2e3192;font-size:22.2px;font-weight:bold;line-height:35px;">表型和功能</div>

<!-- arrows + callout -->
<svg class="abs" style="left:0;top:0;" width="1280" height="720" viewBox="0 0 1280 720">
 <g fill="#e2efda">
  <polygon points="174.5,160.5 208,160.5 208,147 219,173.5 208,200 208,187 174.5,187"/>
  <polygon points="292,283 316,283 316,307.5 327.5,307.5 304,316 280,307.5 292,307.5"/>
  <polygon points="218,400 185,400 185,388 173,413.5 185,439 185,426.5 218,426.5"/>
  <polygon points="76.5,506.5 103.7,506.5 103.7,531.5 117,531.5 90,540 64,531.5 76.5,531.5"/>
 </g>
 <polygon points="220,588 252,588 177.3,509 297.5,588 408.2,588 408.2,686 220,686" fill="#fff" stroke="#000" stroke-width="1"/>
</svg>
<div class="abs" style="left:229.6px;top:592.6px;color:#2e3192;font-size:19.4px;font-weight:350;line-height:22.3px;white-space:nowrap;">
<div style="position:relative;height:22.3px;padding-left:19.4px;"><svg width="14" height="14" viewBox="0 0 14 14" style="position:absolute;left:0;top:3px;"><path d="M0.4 7.6 L2 6.2 L4.2 9.6 C6.5 5.8 9.5 2.6 13.2 0.2 L13.5 0.9 C10 4 7 8 4.6 12.8 L3.6 12.8 C2.8 10.8 1.8 9 0.4 7.6z" fill="#2e3192"/></svg>糖类/碳水化合物</div>
<div style="position:relative;height:22.3px;padding-left:19.4px;"><svg width="14" height="14" viewBox="0 0 14 14" style="position:absolute;left:0;top:3px;"><path d="M0.4 7.6 L2 6.2 L4.2 9.6 C6.5 5.8 9.5 2.6 13.2 0.2 L13.5 0.9 C10 4 7 8 4.6 12.8 L3.6 12.8 C2.8 10.8 1.8 9 0.4 7.6z" fill="#2e3192"/></svg>脂肪/脂质</div>
<div style="position:relative;height:22.3px;padding-left:19.4px;"><svg width="14" height="14" viewBox="0 0 14 14" style="position:absolute;left:0;top:3px;"><path d="M0.4 7.6 L2 6.2 L4.2 9.6 C6.5 5.8 9.5 2.6 13.2 0.2 L13.5 0.9 C10 4 7 8 4.6 12.8 L3.6 12.8 C2.8 10.8 1.8 9 0.4 7.6z" fill="#2e3192"/></svg>氨基酸/多肽</div>
<div style="position:relative;height:22.3px;padding-left:19.4px;"><svg width="14" height="14" viewBox="0 0 14 14" style="position:absolute;left:0;top:3px;"><path d="M0.4 7.6 L2 6.2 L4.2 9.6 C6.5 5.8 9.5 2.6 13.2 0.2 L13.5 0.9 C10 4 7 8 4.6 12.8 L3.6 12.8 C2.8 10.8 1.8 9 0.4 7.6z" fill="#2e3192"/></svg>核糖体</div>
</div>

<!-- PANELS -->
<div class="panel" id="p-scatter" style="left:431px;top:78px;width:370px;height:236px;"><svg width="370" height="236" viewBox="0 0 370 236" style="position:absolute;left:0;top:0;font-family:'Liberation Sans',sans-serif;">
<line x1="164.5" y1="0" x2="164.5" y2="211.8" stroke="#c4c4c4" stroke-width="1"/>
<ellipse cx="164.5" cy="106.9" rx="113" ry="80" fill="none" stroke="#b5b5b5" stroke-width="0.8"/>
<path d="M27.6 211.8 V8 M27.6 211.8 H366" stroke="#8a8a8a" stroke-width="0.8" fill="none"/>
<path d="M27.6 4 l-1.6 5 h3.2z M368 211.8 l-5 -1.6 v3.2z" fill="#8a8a8a"/>
<path d="M27.6 211.9 h-3 M27.6 185.6 h-3 M27.6 159.4 h-3 M27.6 133.2 h-3 M27.6 106.9 h-3 M27.6 80.7 h-3 M27.6 54.4 h-3 M27.6 28.2 h-3 M27.6 211.9 h-1.5 M27.6 205.3 h-1.5 M27.6 198.8 h-1.5 M27.6 192.2 h-1.5 M27.6 185.6 h-1.5 M27.6 179.1 h-1.5 M27.6 172.5 h-1.5 M27.6 166.0 h-1.5 M27.6 159.4 h-1.5 M27.6 152.8 h-1.5 M27.6 146.3 h-1.5 M27.6 139.7 h-1.5 M27.6 133.2 h-1.5 M27.6 126.6 h-1.5 M27.6 120.0 h-1.5 M27.6 113.5 h-1.5 M27.6 106.9 h-1.5 M27.6 100.3 h-1.5 M27.6 93.8 h-1.5 M27.6 87.2 h-1.5 M27.6 80.7 h-1.5 M27.6 74.1 h-1.5 M27.6 67.5 h-1.5 M27.6 61.0 h-1.5 M27.6 54.4 h-1.5 M27.6 47.8 h-1.5 M27.6 41.3 h-1.5 M27.6 34.7 h-1.5 M27.6 28.2 h-1.5 M27.6 21.6 h-1.5 M27.7 211.8 v3 M61.9 211.8 v3 M96.1 211.8 v3 M130.3 211.8 v3 M164.5 211.8 v3 M198.7 211.8 v3 M232.9 211.8 v3 M267.1 211.8 v3 M301.3 211.8 v3 M335.5 211.8 v3 M27.7 211.8 v1.5 M34.5 211.8 v1.5 M41.4 211.8 v1.5 M48.2 211.8 v1.5 M55.1 211.8 v1.5 M61.9 211.8 v1.5 M68.7 211.8 v1.5 M75.6 211.8 v1.5 M82.4 211.8 v1.5 M89.3 211.8 v1.5 M96.1 211.8 v1.5 M102.9 211.8 v1.5 M109.8 211.8 v1.5 M116.6 211.8 v1.5 M123.5 211.8 v1.5 M130.3 211.8 v1.5 M137.1 211.8 v1.5 M144.0 211.8 v1.5 M150.8 211.8 v1.5 M157.7 211.8 v1.5 M164.5 211.8 v1.5 M171.3 211.8 v1.5 M178.2 211.8 v1.5 M185.0 211.8 v1.5 M191.9 211.8 v1.5 M198.7 211.8 v1.5 M205.5 211.8 v1.5 M212.4 211.8 v1.5 M219.2 211.8 v1.5 M226.1 211.8 v1.5 M232.9 211.8 v1.5 M239.7 211.8 v1.5 M246.6 211.8 v1.5 M253.4 211.8 v1.5 M260.3 211.8 v1.5 M267.1 211.8 v1.5 M273.9 211.8 v1.5 M280.8 211.8 v1.5 M287.6 211.8 v1.5 M294.5 211.8 v1.5 M301.3 211.8 v1.5 M308.1 211.8 v1.5 M315.0 211.8 v1.5 M321.8 211.8 v1.5 M328.7 211.8 v1.5 M335.5 211.8 v1.5 M342.3 211.8 v1.5 M349.2 211.8 v1.5 M356.0 211.8 v1.5" stroke="#8a8a8a" stroke-width="0.6" fill="none"/>
<g font-size="7.1" fill="#222">
<text x="22.6" y="214.3" text-anchor="end">-80</text>
<text x="22.6" y="188.0" text-anchor="end">-60</text>
<text x="22.6" y="161.8" text-anchor="end">-40</text>
<text x="22.6" y="135.6" text-anchor="end">-20</text>
<text x="22.6" y="109.3" text-anchor="end">0</text>
<text x="22.6" y="83.1" text-anchor="end">20</text>
<text x="22.6" y="56.8" text-anchor="end">40</text>
<text x="22.6" y="30.6" text-anchor="end">60</text>
<text x="27.7" y="222.3" text-anchor="middle">-20</text>
<text x="61.9" y="222.3" text-anchor="middle">-15</text>
<text x="96.1" y="222.3" text-anchor="middle">-10</text>
<text x="130.3" y="222.3" text-anchor="middle">-5</text>
<text x="164.5" y="222.3" text-anchor="middle">0</text>
<text x="198.7" y="222.3" text-anchor="middle">5</text>
<text x="232.9" y="222.3" text-anchor="middle">10</text>
<text x="267.1" y="222.3" text-anchor="middle">15</text>
<text x="301.3" y="222.3" text-anchor="middle">20</text>
<text x="335.5" y="222.3" text-anchor="middle">25</text>
<text x="199.0" y="231.5" text-anchor="middle">1.14208 * t[1]</text>
<text transform="translate(9.5 107.6) rotate(-90)" text-anchor="middle">1.18625 * to[1]</text>
</g>
<g fill="#d01c24" stroke="#a81018" stroke-width="0.4">
<circle cx="340.6" cy="156.3" r="2.9"/>
<circle cx="318.7" cy="100.1" r="2.9"/>
<circle cx="315.3" cy="88.2" r="2.9"/>
<circle cx="293.6" cy="102.8" r="2.9"/>
<circle cx="290.5" cy="132.6" r="2.9"/>
<circle cx="297.0" cy="152.1" r="2.9"/>
<circle cx="275.7" cy="178.5" r="2.9"/>
<circle cx="265.1" cy="154.2" r="2.9"/>
<circle cx="254.6" cy="137.1" r="2.9"/>
<circle cx="249.3" cy="171.9" r="2.9"/>
<circle cx="236.4" cy="179.8" r="2.9"/>
<circle cx="231.3" cy="175.3" r="2.9"/>
<circle cx="213.1" cy="170.3" r="2.9"/>
<circle cx="210.5" cy="158.2" r="2.9"/>
<circle cx="201.8" cy="179.3" r="2.9"/>
<circle cx="183.9" cy="180.3" r="2.9"/>
<circle cx="270.7" cy="71.1" r="2.9"/>
<circle cx="277.8" cy="86.1" r="2.9"/>
<circle cx="279.1" cy="88.2" r="2.9"/>
<circle cx="274.6" cy="113.3" r="2.9"/>
<circle cx="268.0" cy="115.4" r="2.9"/>
<circle cx="248.0" cy="67.9" r="2.9"/>
<circle cx="222.6" cy="63.4" r="2.9"/>
<circle cx="217.9" cy="63.4" r="2.9"/>
<circle cx="200.5" cy="59.7" r="2.9"/>
<circle cx="156.7" cy="56.3" r="2.9"/>
<circle cx="116.0" cy="147.1" r="2.9"/>
<circle cx="136.1" cy="152.1" r="2.9"/>
<circle cx="131.9" cy="166.3" r="2.9"/>
<circle cx="103.6" cy="96.2" r="2.9"/>
<circle cx="124.8" cy="86.1" r="2.9"/>
<circle cx="141.4" cy="122.5" r="2.9"/>
<circle cx="182.3" cy="61.3" r="2.9"/>
<circle cx="193.4" cy="63.2" r="2.9"/>
<circle cx="181.5" cy="65.8" r="2.9"/>
<circle cx="176.2" cy="65.8" r="2.9"/>
<circle cx="232.9" cy="71.9" r="2.9"/>
<circle cx="207.9" cy="71.9" r="2.9"/>
<circle cx="194.7" cy="71.1" r="2.9"/>
<circle cx="258.5" cy="108.0" r="2.9"/>
<circle cx="265.1" cy="98.8" r="2.9"/>
<circle cx="261.2" cy="91.7" r="2.9"/>
<circle cx="256.7" cy="88.8" r="2.9"/>
<circle cx="252.2" cy="85.6" r="2.9"/>
<circle cx="242.2" cy="86.9" r="2.9"/>
<circle cx="236.9" cy="80.3" r="2.9"/>
<circle cx="235.6" cy="115.9" r="2.9"/>
<circle cx="232.9" cy="116.7" r="2.9"/>
<circle cx="215.3" cy="132.3" r="2.9"/>
<circle cx="219.7" cy="121.2" r="2.9"/>
<circle cx="211.8" cy="116.7" r="2.9"/>
<circle cx="203.1" cy="121.2" r="2.9"/>
<circle cx="200.5" cy="132.3" r="2.9"/>
<circle cx="198.6" cy="138.4" r="2.9"/>
<circle cx="192.6" cy="145.0" r="2.9"/>
<circle cx="185.4" cy="152.9" r="2.9"/>
<circle cx="181.5" cy="159.0" r="2.9"/>
<circle cx="176.2" cy="162.6" r="2.9"/>
<circle cx="173.0" cy="148.1" r="2.9"/>
<circle cx="169.6" cy="154.2" r="2.9"/>
<circle cx="163.0" cy="154.7" r="2.9"/>
<circle cx="161.2" cy="156.8" r="2.9"/>
<circle cx="154.0" cy="159.5" r="2.9"/>
<circle cx="146.7" cy="159.5" r="2.9"/>
<circle cx="155.9" cy="171.4" r="2.9"/>
<circle cx="161.7" cy="174.0" r="2.9"/>
<circle cx="170.4" cy="172.1" r="2.9"/>
<circle cx="173.6" cy="170.0" r="2.9"/>
<circle cx="176.7" cy="167.9" r="2.9"/>
<circle cx="186.8" cy="164.8" r="2.9"/>
<circle cx="188.6" cy="172.1" r="2.9"/>
<circle cx="194.1" cy="172.7" r="2.9"/>
<circle cx="196.8" cy="167.4" r="2.9"/>
<circle cx="156.4" cy="134.9" r="2.9"/>
<circle cx="177.5" cy="133.1" r="2.9"/>
<circle cx="182.8" cy="134.4" r="2.9"/>
<circle cx="176.2" cy="138.9" r="2.9"/>
<circle cx="188.3" cy="97.7" r="2.9"/>
<circle cx="189.0" cy="84.6" r="2.9"/>
<circle cx="171.4" cy="86.2" r="2.9"/>
<circle cx="222.5" cy="96.3" r="2.9"/>
<circle cx="204.6" cy="92.5" r="2.9"/>
<circle cx="207.4" cy="97.5" r="2.9"/>
<circle cx="207.7" cy="79.4" r="2.9"/>
<circle cx="178.1" cy="116.7" r="2.9"/>
<circle cx="208.6" cy="108.5" r="2.9"/>
<circle cx="179.1" cy="77.9" r="2.9"/>
<circle cx="210.5" cy="93.5" r="2.9"/>
<circle cx="183.5" cy="74.4" r="2.9"/>
<circle cx="181.6" cy="108.9" r="2.9"/>
<circle cx="174.4" cy="93.4" r="2.9"/>
<circle cx="205.4" cy="66.0" r="2.9"/>
<circle cx="195.9" cy="110.2" r="2.9"/>
<circle cx="192.0" cy="76.6" r="2.9"/>
<circle cx="158.0" cy="102.7" r="2.9"/>
<circle cx="211.5" cy="104.5" r="2.9"/>
<circle cx="230.8" cy="95.3" r="2.9"/>
<circle cx="170.4" cy="81.2" r="2.9"/>
<circle cx="158.1" cy="93.3" r="2.9"/>
<circle cx="166.6" cy="105.0" r="2.9"/>
<circle cx="200.8" cy="96.4" r="2.9"/>
<circle cx="234.6" cy="99.4" r="2.9"/>
<circle cx="155.4" cy="109.9" r="2.9"/>
<circle cx="190.1" cy="105.7" r="2.9"/>
<circle cx="161.8" cy="115.0" r="2.9"/>
<circle cx="208.5" cy="87.2" r="2.9"/>
<circle cx="178.1" cy="83.0" r="2.9"/>
<circle cx="220.8" cy="90.0" r="2.9"/>
<circle cx="172.6" cy="104.5" r="2.9"/>
<circle cx="231.4" cy="82.5" r="2.9"/>
<circle cx="160.1" cy="87.4" r="2.9"/>
<circle cx="226.3" cy="69.5" r="2.9"/>
<circle cx="174.9" cy="99.6" r="2.9"/>
<circle cx="223.0" cy="103.2" r="2.9"/>
<circle cx="213.8" cy="98.5" r="2.9"/>
<circle cx="245.1" cy="94.7" r="2.9"/>
<circle cx="184.0" cy="83.7" r="2.9"/>
<circle cx="166.5" cy="93.4" r="2.9"/>
<circle cx="183.9" cy="99.9" r="2.9"/>
<circle cx="201.7" cy="81.3" r="2.9"/>
<circle cx="180.8" cy="88.0" r="2.9"/>
<circle cx="220.0" cy="71.1" r="2.9"/>
<circle cx="216.1" cy="113.2" r="2.9"/>
<circle cx="211.8" cy="65.9" r="2.9"/>
<circle cx="190.9" cy="92.6" r="2.9"/>
<circle cx="192.5" cy="113.8" r="2.9"/>
<circle cx="221.0" cy="84.9" r="2.9"/>
<circle cx="198.0" cy="100.7" r="2.9"/>
<circle cx="156.4" cy="65.7" r="2.9"/>
<circle cx="168.9" cy="66.3" r="2.9"/>
<circle cx="172.4" cy="114.3" r="2.9"/>
<circle cx="223.2" cy="113.1" r="2.9"/>
<circle cx="197.6" cy="91.5" r="2.9"/>
<circle cx="177.8" cy="103.5" r="2.9"/>
<circle cx="179.8" cy="93.3" r="2.9"/>
<circle cx="189.7" cy="69.6" r="2.9"/>
<circle cx="155.5" cy="79.4" r="2.9"/>
<circle cx="217.8" cy="80.6" r="2.9"/>
<circle cx="212.8" cy="85.2" r="2.9"/>
<circle cx="228.1" cy="100.0" r="2.9"/>
<circle cx="243.3" cy="61.7" r="2.9"/>
<circle cx="193.8" cy="86.5" r="2.9"/>
<circle cx="173.3" cy="76.2" r="2.9"/>
<circle cx="227.9" cy="118.2" r="2.9"/>
<circle cx="247.8" cy="106.0" r="2.9"/>
<circle cx="237.4" cy="105.2" r="2.9"/>
<circle cx="193.2" cy="97.8" r="2.9"/>
<circle cx="225.8" cy="86.1" r="2.9"/>
<circle cx="203.7" cy="107.4" r="2.9"/>
<circle cx="214.3" cy="89.9" r="2.9"/>
<circle cx="240.5" cy="97.7" r="2.9"/>
<circle cx="222.1" cy="75.6" r="2.9"/>
<circle cx="232.3" cy="108.0" r="2.9"/>
<circle cx="161.8" cy="81.6" r="2.9"/>
<circle cx="168.1" cy="72.5" r="2.9"/>
<circle cx="198.4" cy="67.8" r="2.9"/>
<circle cx="166.8" cy="87.7" r="2.9"/>
<circle cx="236.5" cy="89.8" r="2.9"/>
<circle cx="182.5" cy="114.3" r="2.9"/>
<circle cx="168.5" cy="99.5" r="2.9"/>
<circle cx="187.8" cy="80.0" r="2.9"/>
<circle cx="202.2" cy="115.9" r="2.9"/>
<circle cx="156.7" cy="120.4" r="2.9"/>
<circle cx="168.8" cy="124.6" r="2.9"/>
<circle cx="158.4" cy="69.7" r="2.9"/>
<circle cx="161.4" cy="97.4" r="2.9"/>
<circle cx="152.4" cy="106.0" r="2.9"/>
<circle cx="148.6" cy="108.5" r="2.9"/>
<circle cx="148.7" cy="98.3" r="2.9"/>
<circle cx="161.9" cy="108.0" r="2.9"/>
<circle cx="174.3" cy="71.7" r="2.9"/>
<circle cx="164.1" cy="100.8" r="2.9"/>
<circle cx="153.3" cy="90.8" r="2.9"/>
<circle cx="156.6" cy="74.2" r="2.9"/>
<circle cx="163.8" cy="76.7" r="2.9"/>
<circle cx="151.2" cy="122.4" r="2.9"/>
<circle cx="162.5" cy="72.4" r="2.9"/>
<circle cx="174.0" cy="110.0" r="2.9"/>
<circle cx="169.5" cy="118.1" r="2.9"/>
<circle cx="184.3" cy="122.3" r="2.9"/>
<circle cx="188.4" cy="124.7" r="2.9"/>
<circle cx="184.5" cy="127.2" r="2.9"/>
<circle cx="194.3" cy="120.2" r="2.9"/>
<circle cx="189.2" cy="118.2" r="2.9"/>
<circle cx="187.5" cy="114.0" r="2.9"/>
<circle cx="175.8" cy="129.1" r="2.9"/>
<circle cx="167.0" cy="130.7" r="2.9"/>
<circle cx="188.3" cy="136.5" r="2.9"/>
<circle cx="173.0" cy="135.2" r="2.9"/>
<circle cx="192.9" cy="130.4" r="2.9"/>
<circle cx="174.9" cy="122.9" r="2.9"/>
<circle cx="193.6" cy="126.0" r="2.9"/>
</g><g fill="#5cb63a" stroke="#47962a" stroke-width="0.4">
<circle cx="127.4" cy="50.5" r="2.9"/>
<circle cx="104.2" cy="59.2" r="2.9"/>
<circle cx="110.2" cy="58.4" r="2.9"/>
<circle cx="94.9" cy="75.0" r="2.9"/>
<circle cx="91.8" cy="80.3" r="2.9"/>
<circle cx="79.4" cy="94.3" r="2.9"/>
<circle cx="82.5" cy="97.5" r="2.9"/>
<circle cx="90.5" cy="95.6" r="2.9"/>
<circle cx="95.2" cy="94.8" r="2.9"/>
<circle cx="80.7" cy="122.8" r="2.9"/>
<circle cx="86.0" cy="123.9" r="2.9"/>
<circle cx="270.7" cy="77.2" r="2.9"/>
<circle cx="198.9" cy="128.1" r="2.9"/>
<circle cx="199.4" cy="137.1" r="2.9"/>
<circle cx="187.3" cy="136.3" r="2.9"/>
<circle cx="186.2" cy="148.4" r="2.9"/>
<circle cx="164.1" cy="187.4" r="2.9"/>
<circle cx="167.0" cy="171.1" r="2.9"/>
<circle cx="155.1" cy="177.2" r="2.9"/>
<circle cx="102.6" cy="178.5" r="2.9"/>
<circle cx="94.9" cy="167.7" r="2.9"/>
<circle cx="102.3" cy="171.1" r="2.9"/>
<circle cx="106.5" cy="169.8" r="2.9"/>
<circle cx="167.5" cy="64.5" r="2.9"/>
<circle cx="178.1" cy="74.5" r="2.9"/>
<circle cx="178.8" cy="94.8" r="2.9"/>
<circle cx="175.1" cy="100.9" r="2.9"/>
<circle cx="175.7" cy="107.5" r="2.9"/>
<circle cx="168.8" cy="103.5" r="2.9"/>
<circle cx="160.4" cy="131.2" r="2.9"/>
<circle cx="156.4" cy="135.7" r="2.9"/>
<circle cx="160.9" cy="144.7" r="2.9"/>
<circle cx="154.0" cy="154.5" r="2.9"/>
<circle cx="144.5" cy="144.4" r="2.9"/>
<circle cx="151.1" cy="143.1" r="2.9"/>
<circle cx="148.5" cy="148.1" r="2.9"/>
<circle cx="141.4" cy="131.0" r="2.9"/>
<circle cx="147.7" cy="129.7" r="2.9"/>
<circle cx="133.5" cy="127.8" r="2.9"/>
<circle cx="127.4" cy="137.1" r="2.9"/>
<circle cx="131.3" cy="137.8" r="2.9"/>
<circle cx="120.8" cy="124.4" r="2.9"/>
<circle cx="115.0" cy="129.9" r="2.9"/>
<circle cx="120.8" cy="131.0" r="2.9"/>
<circle cx="105.0" cy="127.8" r="2.9"/>
<circle cx="106.3" cy="132.6" r="2.9"/>
<circle cx="105.0" cy="142.3" r="2.9"/>
<circle cx="101.0" cy="146.8" r="2.9"/>
<circle cx="115.5" cy="144.2" r="2.9"/>
<circle cx="118.9" cy="145.0" r="2.9"/>
<circle cx="118.2" cy="152.9" r="2.9"/>
<circle cx="120.8" cy="155.5" r="2.9"/>
<circle cx="111.6" cy="158.7" r="2.9"/>
<circle cx="114.2" cy="164.8" r="2.9"/>
<circle cx="123.4" cy="159.5" r="2.9"/>
<circle cx="124.8" cy="162.1" r="2.9"/>
<circle cx="130.0" cy="159.5" r="2.9"/>
<circle cx="131.9" cy="164.2" r="2.9"/>
<circle cx="137.9" cy="159.5" r="2.9"/>
<circle cx="141.4" cy="156.8" r="2.9"/>
<circle cx="123.4" cy="172.1" r="2.9"/>
<circle cx="135.3" cy="170.0" r="2.9"/>
<circle cx="137.9" cy="175.3" r="2.9"/>
<circle cx="139.3" cy="174.8" r="2.9"/>
<circle cx="141.9" cy="167.4" r="2.9"/>
<circle cx="145.3" cy="166.9" r="2.9"/>
<circle cx="147.7" cy="164.2" r="2.9"/>
<circle cx="132.7" cy="118.3" r="2.9"/>
<circle cx="135.3" cy="114.6" r="2.9"/>
<circle cx="145.9" cy="113.3" r="2.9"/>
<circle cx="163.0" cy="115.2" r="2.9"/>
<circle cx="155.6" cy="122.5" r="2.9"/>
<circle cx="104.4" cy="115.9" r="2.9"/>
<circle cx="105.5" cy="121.2" r="2.9"/>
<circle cx="111.6" cy="118.6" r="2.9"/>
<circle cx="115.0" cy="115.9" r="2.9"/>
<circle cx="120.8" cy="113.3" r="2.9"/>
<circle cx="120.8" cy="109.3" r="2.9"/>
<circle cx="130.2" cy="80.5" r="2.9"/>
<circle cx="134.3" cy="78.4" r="2.9"/>
<circle cx="113.3" cy="74.1" r="2.9"/>
<circle cx="120.3" cy="75.9" r="2.9"/>
<circle cx="111.1" cy="93.0" r="2.9"/>
<circle cx="113.4" cy="89.1" r="2.9"/>
<circle cx="152.5" cy="87.1" r="2.9"/>
<circle cx="118.1" cy="84.9" r="2.9"/>
<circle cx="132.5" cy="60.5" r="2.9"/>
<circle cx="122.4" cy="85.4" r="2.9"/>
<circle cx="142.0" cy="94.8" r="2.9"/>
<circle cx="125.6" cy="80.0" r="2.9"/>
<circle cx="127.1" cy="60.6" r="2.9"/>
<circle cx="114.1" cy="84.0" r="2.9"/>
<circle cx="138.5" cy="82.0" r="2.9"/>
<circle cx="144.0" cy="89.4" r="2.9"/>
<circle cx="130.4" cy="76.2" r="2.9"/>
<circle cx="140.5" cy="77.6" r="2.9"/>
<circle cx="133.3" cy="94.6" r="2.9"/>
<circle cx="140.1" cy="86.3" r="2.9"/>
<circle cx="115.2" cy="57.9" r="2.9"/>
<circle cx="144.0" cy="105.3" r="2.9"/>
<circle cx="144.6" cy="71.8" r="2.9"/>
<circle cx="100.4" cy="70.6" r="2.9"/>
<circle cx="112.3" cy="102.2" r="2.9"/>
<circle cx="99.9" cy="54.0" r="2.9"/>
<circle cx="129.7" cy="85.0" r="2.9"/>
<circle cx="138.0" cy="91.5" r="2.9"/>
<circle cx="145.3" cy="84.5" r="2.9"/>
<circle cx="133.5" cy="102.2" r="2.9"/>
<circle cx="155.5" cy="108.4" r="2.9"/>
<circle cx="149.3" cy="95.4" r="2.9"/>
<circle cx="149.7" cy="67.0" r="2.9"/>
<circle cx="119.6" cy="90.5" r="2.9"/>
<circle cx="116.0" cy="79.4" r="2.9"/>
<circle cx="154.6" cy="75.7" r="2.9"/>
<circle cx="156.6" cy="92.8" r="2.9"/>
<circle cx="106.6" cy="83.4" r="2.9"/>
<circle cx="125.0" cy="95.1" r="2.9"/>
<circle cx="162.8" cy="92.9" r="2.9"/>
<circle cx="161.6" cy="85.3" r="2.9"/>
<circle cx="129.5" cy="68.9" r="2.9"/>
<circle cx="131.2" cy="90.7" r="2.9"/>
<circle cx="116.1" cy="103.9" r="2.9"/>
<circle cx="119.3" cy="59.3" r="2.9"/>
<circle cx="127.0" cy="73.8" r="2.9"/>
<circle cx="134.8" cy="68.1" r="2.9"/>
<circle cx="127.8" cy="103.9" r="2.9"/>
<circle cx="129.2" cy="94.3" r="2.9"/>
<circle cx="112.9" cy="68.9" r="2.9"/>
<circle cx="99.3" cy="89.3" r="2.9"/>
<circle cx="105.8" cy="92.8" r="2.9"/>
<circle cx="161.8" cy="98.4" r="2.9"/>
<circle cx="159.5" cy="103.9" r="2.9"/>
<circle cx="124.9" cy="90.6" r="2.9"/>
<circle cx="134.7" cy="85.0" r="2.9"/>
<circle cx="121.8" cy="66.1" r="2.9"/>
<circle cx="144.6" cy="58.1" r="2.9"/>
<circle cx="109.7" cy="65.2" r="2.9"/>
<circle cx="148.9" cy="80.6" r="2.9"/>
<circle cx="137.7" cy="99.0" r="2.9"/>
<circle cx="105.4" cy="103.9" r="2.9"/>
<circle cx="103.1" cy="79.8" r="2.9"/>
<circle cx="130.5" cy="64.5" r="2.9"/>
<circle cx="115.9" cy="65.1" r="2.9"/>
<circle cx="156.1" cy="80.8" r="2.9"/>
<circle cx="106.7" cy="98.7" r="2.9"/>
<circle cx="144.0" cy="98.8" r="2.9"/>
<circle cx="144.6" cy="76.3" r="2.9"/>
<circle cx="105.7" cy="74.1" r="2.9"/>
<circle cx="124.2" cy="56.5" r="2.9"/>
<circle cx="121.2" cy="102.1" r="2.9"/>
<circle cx="139.8" cy="102.5" r="2.9"/>
<circle cx="139.5" cy="69.6" r="2.9"/>
<circle cx="96.4" cy="102.1" r="2.9"/>
<circle cx="134.3" cy="106.6" r="2.9"/>
<circle cx="149.5" cy="101.5" r="2.9"/>
<circle cx="109.4" cy="87.7" r="2.9"/>
<circle cx="124.0" cy="99.1" r="2.9"/>
<circle cx="159.0" cy="72.6" r="2.9"/>
<circle cx="153.8" cy="70.9" r="2.9"/>
<circle cx="107.9" cy="69.2" r="2.9"/>
<circle cx="137.4" cy="58.8" r="2.9"/>
<circle cx="98.4" cy="77.6" r="2.9"/>
<circle cx="118.0" cy="94.4" r="2.9"/>
<circle cx="112.8" cy="107.5" r="2.9"/>
<circle cx="136.3" cy="74.2" r="2.9"/>
<circle cx="149.8" cy="75.4" r="2.9"/>
<circle cx="121.0" cy="71.1" r="2.9"/>
<circle cx="135.6" cy="54.2" r="2.9"/>
<circle cx="142.7" cy="62.6" r="2.9"/>
<circle cx="97.7" cy="66.6" r="2.9"/>
<circle cx="160.8" cy="109.0" r="2.9"/>
<circle cx="160.6" cy="80.6" r="2.9"/>
<circle cx="99.2" cy="96.7" r="2.9"/>
<circle cx="102.1" cy="66.9" r="2.9"/>
<circle cx="155.3" cy="97.3" r="2.9"/>
<circle cx="159.1" cy="67.2" r="2.9"/>
<circle cx="135.9" cy="63.3" r="2.9"/>
<circle cx="153.0" cy="62.9" r="2.9"/>
<circle cx="150.4" cy="106.2" r="2.9"/>
<circle cx="128.3" cy="98.3" r="2.9"/>
<circle cx="147.9" cy="61.3" r="2.9"/>
<circle cx="114.9" cy="97.6" r="2.9"/>
<circle cx="132.5" cy="72.0" r="2.9"/>
</g></svg></div>
<div class="panel" id="p-path" style="left:431px;top:320px;width:370px;height:369px;"><svg width="370" height="369" viewBox="0 0 370 369" style="position:absolute;left:0;top:0;font-family:'Liberation Sans',sans-serif;">
<defs>
<marker id="ah" viewBox="0 0 10 10" refX="9" refY="5" markerWidth="5.6" markerHeight="5.6" orient="auto-start-reverse"><path d="M1 1 L9 5 L1 9" fill="none" stroke="#333" stroke-width="1.5"/></marker>
<marker id="ahl" viewBox="0 0 10 10" refX="9" refY="5" markerWidth="5" markerHeight="5" orient="auto-start-reverse"><path d="M1 1 L9 5 L1 9" fill="none" stroke="#999" stroke-width="1.6"/></marker>
<marker id="af" viewBox="0 0 10 10" refX="9" refY="5" markerWidth="4.5" markerHeight="4.5" orient="auto-start-reverse"><path d="M0 1 L10 5 L0 9z" fill="#111"/></marker>
<pattern id="dots" width="2" height="2" patternUnits="userSpaceOnUse"><rect width="2" height="2" fill="#eef0fa"/><circle cx="1" cy="1" r="0.5" fill="#cfd4ea"/></pattern>
</defs>
<ellipse cx="163" cy="15.5" rx="46.3" ry="12.5" fill="#c6f3f0"/>
<path d="M11.1 57.9 H202.6 a8 8 0 0 1 8 8 V108 a8 8 0 0 1 -8 8 H109.2 V288.5 a9 9 0 0 1 -9 9 H12.1 a9 9 0 0 1 -9 -9 V65.9 a8 8 0 0 1 8 -8z" fill="#ecdaf4"/>
<path d="M256 6.3 H332 a6.3 6.3 0 0 1 6.3 6.3 V308.6 a8 8 0 0 1 -8 8 H209.7 a8 8 0 0 1 -8 -8 V241 a8 8 0 0 1 8 -8 H249.8 V150.4 H178.6 a4 4 0 0 1 -4 -4 V124.4 a4 4 0 0 1 4 -4 H249.8 V12.6 a6.3 6.3 0 0 1 6.3 -6.3z" fill="#dfe6fa"/>
<rect x="350.6" y="8" width="10.2" height="303.3" fill="url(#dots)"/>
<rect x="346.6" y="8" width="2.8" height="303.3" fill="#eea0a0"/><rect x="361.8" y="8" width="2.8" height="303.3" fill="#eea0a0"/>
<text transform="translate(358.4 302.5) rotate(-90)" font-size="8.8" font-weight="bold" fill="#111">Plasma membrane</text>
<rect x="246.7" y="3.5" width="94.1" height="83.6" fill="none" stroke="#999" stroke-width="1.1" stroke-dasharray="2.6 2.4"/>
<rect x="100.6" y="165" width="144.4" height="100" rx="13" ry="13" fill="#fff" stroke="#444" stroke-width="0.9"/>
<rect x="165.6" y="9.8" width="32.9" height="11.0" fill="none" stroke="#ea5458" stroke-width="1"/>
<text x="182.1" y="17.5" font-size="6.2" fill="#111" text-anchor="middle">Galactose</text>
<rect x="266.5" y="9.8" width="13.9" height="11.0" fill="none" stroke="#ea5458" stroke-width="1"/>
<text x="273.4" y="17.7" font-size="6.8" fill="#111" text-anchor="middle">PI</text>
<rect x="65.2" y="38.5" width="44.6" height="11.1" fill="none" stroke="#55b560" stroke-width="1"/>
<text x="87.5" y="46.3" font-size="6.2" fill="#111" text-anchor="middle">Phosphoserine</text>
<rect x="182.9" y="38.5" width="39.2" height="11.1" fill="none" stroke="#55b560" stroke-width="1"/>
<text x="202.5" y="46.3" font-size="6.2" fill="#111" text-anchor="middle">Glycerol</text>
<rect x="312.7" y="38.5" width="16.1" height="11.1" fill="none" stroke="#55b560" stroke-width="1"/>
<text x="320.8" y="46.5" font-size="6.8" fill="#111" text-anchor="middle">PC<tspan font-size="8.8" dy="-1.2" font-weight="bold">*</tspan></text>
<rect x="266.5" y="74.0" width="13.9" height="10.8" fill="none" stroke="#ea5458" stroke-width="1"/>
<text x="273.4" y="81.8" font-size="6.8" fill="#111" text-anchor="middle">PG</text>
<rect x="312.7" y="74.0" width="14.6" height="10.8" fill="none" stroke="#55b560" stroke-width="1"/>
<text x="320.0" y="81.8" font-size="6.8" fill="#111" text-anchor="middle">PE</text>
<rect x="25.0" y="65.6" width="30.6" height="11.1" fill="none" stroke="#ea5458" stroke-width="1"/>
<text x="40.3" y="73.4" font-size="6.2" fill="#111" text-anchor="middle">Glycine</text>
<rect x="74.6" y="65.6" width="26.0" height="11.1" fill="none" stroke="#55b560" stroke-width="1"/>
<text x="87.6" y="73.4" font-size="6.2" fill="#111" text-anchor="middle">Serine</text>
<rect x="170.4" y="65.6" width="32.3" height="11.1" fill="none" stroke="#ea5458" stroke-width="1"/>
<text x="186.6" y="73.4" font-size="6.2" fill="#111" text-anchor="middle">Isoleucine</text>
<rect x="74.6" y="97.5" width="26.0" height="11.0" fill="none" stroke="#ea5458" stroke-width="1"/>
<text x="87.6" y="105.2" font-size="6.2" fill="#111" text-anchor="middle">Valine</text>
<rect x="120.2" y="97.5" width="30.2" height="11.0" fill="none" stroke="#ea5458" stroke-width="1"/>
<text x="135.3" y="105.2" font-size="6.2" fill="#111" text-anchor="middle">Pyruvate</text>
<rect x="170.4" y="97.5" width="32.3" height="11.0" fill="none" stroke="#ea5458" stroke-width="1"/>
<text x="186.6" y="105.2" font-size="6.2" fill="#111" text-anchor="middle">Lactic acid</text>
<rect x="25.0" y="130.0" width="30.6" height="11.0" fill="none" stroke="#ea5458" stroke-width="1"/>
<text x="40.3" y="137.7" font-size="6.2" fill="#111" text-anchor="middle">Threonine</text>
<rect x="74.6" y="130.0" width="26.0" height="11.0" fill="none" stroke="#ea5458" stroke-width="1"/>
<text x="87.6" y="137.7" font-size="6.2" fill="#111" text-anchor="middle">Leucine</text>
<rect x="177.3" y="130.0" width="153.1" height="11.0" fill="none" stroke="#ea5458" stroke-width="1"/>
<text x="253.8" y="137.8" font-size="6.5" fill="#111" text-anchor="middle">Palmitic acid, Stearic acid, Oleic acid, Linoleic acid<tspan font-size="8.4" dy="-1.2" font-weight="bold">*</tspan></text>
<rect x="295.4" y="198.3" width="33.4" height="10.9" fill="none" stroke="#ea5458" stroke-width="1"/>
<text x="312.1" y="206.0" font-size="6.2" fill="#111" text-anchor="middle">Carnitine<tspan font-size="8.1" dy="-1.2" font-weight="bold">*</tspan></text>
<rect x="6.9" y="212.5" width="35.8" height="9.8" fill="none" stroke="#55b560" stroke-width="1"/>
<text x="24.8" y="219.6" font-size="6.2" fill="#111" text-anchor="middle">Dopamine<tspan font-size="8.1" dy="-1.2" font-weight="bold">*</tspan></text>
<rect x="8.3" y="248.8" width="30.9" height="9.3" fill="none" stroke="#55b560" stroke-width="1"/>
<text x="23.8" y="255.7" font-size="6.2" fill="#111" text-anchor="middle">Proline</text>
<rect x="62.5" y="248.8" width="32.9" height="9.3" fill="none" stroke="#55b560" stroke-width="1"/>
<text x="79.0" y="255.7" font-size="6.2" fill="#111" text-anchor="middle">Ornithine<tspan font-size="8.1" dy="-1.2" font-weight="bold">*</tspan></text>
<rect x="64.4" y="279.8" width="38.4" height="9.6" fill="none" stroke="#55b560" stroke-width="1"/>
<text x="83.6" y="286.8" font-size="6.2" fill="#111" text-anchor="middle">L-Arginine<tspan font-size="8.1" dy="-1.2" font-weight="bold">*</tspan></text>
<rect x="72.3" y="303.4" width="18.3" height="8.9" fill="none" stroke="#ea5458" stroke-width="1"/>
<text x="81.4" y="310.1" font-size="6.2" fill="#111" text-anchor="middle">Urea</text>
<rect x="166.9" y="304.0" width="30.0" height="9.4" fill="none" stroke="#ea5458" stroke-width="1"/>
<text x="181.9" y="310.9" font-size="6.2" fill="#111" text-anchor="middle">Caffeine<tspan font-size="8.1" dy="-1.2" font-weight="bold">*</tspan></text>
<rect x="208.3" y="280" width="83.6" height="33.1" fill="none" stroke="#55b560" stroke-width="1"/>
<text x="211.9" y="286.9" font-size="6.2" fill="#111">Valerylcarnitine (C5)<tspan font-size="8" dy="-1.2" font-weight="bold">*</tspan></text>
<text x="211.9" y="294.3" font-size="6.2" fill="#111">Octanoylcarnitine (C8)</text>
<text x="211.9" y="301.7" font-size="6.2" fill="#111">9-Decenoylcarnitine (C10)</text>
<text x="211.9" y="309.1" font-size="6.2" fill="#111">Tridecanoylcarnitine (C13)<tspan font-size="8" dy="-1.2" font-weight="bold">*</tspan></text>
<text x="135.0" y="17.8" font-size="6.2" fill="#111" text-anchor="middle" >Glucose</text>
<text x="229.4" y="17.4" font-size="6.2" fill="#111" text-anchor="middle" >Inositol</text>
<text x="135.8" y="46.0" font-size="6.2" fill="#111" text-anchor="middle" >Glycerate-3P</text>
<text x="273.8" y="46.1" font-size="6.5" fill="#111" text-anchor="middle" >Glycerone-P</text>
<text x="135.8" y="137.6" font-size="6.2" fill="#111" text-anchor="middle" >Acetyl-CoA</text>
<text x="157.7" y="158.2" font-size="8.3" fill="#111" text-anchor="middle" font-weight="bold">Cytosol</text>
<text x="210.6" y="178.8" font-size="8.3" fill="#111" text-anchor="middle" font-weight="bold">Mitochondria</text>
<text x="162.5" y="185.5" font-size="6.2" fill="#111" text-anchor="middle" >Citrate</text>
<text x="125.0" y="194.2" font-size="6.2" fill="#111" text-anchor="middle" >Malate</text>
<text x="124.6" y="219.7" font-size="6.2" fill="#111" text-anchor="middle" >Fumarate</text>
<text x="146.9" y="235.4" font-size="6.2" fill="#111" text-anchor="middle" >α-ketoglutarate</text>
<text x="146.9" y="207.8" font-size="6.2" font-weight="bold" font-style="italic" fill="#2b3aa0" text-anchor="middle">TCA cycle</text>
<text x="96.9" y="272.8" font-size="6.2" font-weight="bold" font-style="italic" fill="#2b3aa0" text-anchor="middle">Urea cycle</text>
<text x="76.0" y="219.2" font-size="6.2" fill="#111" text-anchor="middle" >Tyrosine</text>
<text x="74.6" y="235.5" font-size="6.2" fill="#111" text-anchor="middle" >Glutamate</text>
<text x="229.0" y="247.0" font-size="6.2" fill="#111" text-anchor="end" >Long-chain acylcarnitines</text>
<text x="219.7" y="275.7" font-size="6.2" fill="#111" text-anchor="start" >Short &amp; medium-chain acylcarnitines</text>
<text x="128.6" y="310.3" font-size="6.2" fill="#111" text-anchor="middle" >Xanthine</text>
<line x1="164.5" y1="15.6" x2="148.5" y2="15.6" stroke="#333" stroke-width="0.7" stroke-dasharray="1.6 1.4" marker-end="url(#ah)"/>
<line x1="199.8" y1="15.2" x2="218.3" y2="15.2" stroke="#333" stroke-width="0.7" stroke-dasharray="1.6 1.4" marker-end="url(#ah)" marker-start="url(#ah)"/>
<line x1="241.5" y1="15.2" x2="264.8" y2="15.2" stroke="#333" stroke-width="0.7" stroke-dasharray="1.6 1.4" marker-end="url(#ah)" marker-start="url(#ah)"/>
<line x1="135.4" y1="23.0" x2="135.4" y2="36.5" stroke="#333" stroke-width="0.7" stroke-dasharray="1.6 1.4" marker-end="url(#ah)" marker-start="url(#ah)"/>
<line x1="158.8" y1="43.8" x2="179.6" y2="43.8" stroke="#333" stroke-width="0.7" stroke-dasharray="1.6 1.4" marker-end="url(#ah)" marker-start="url(#ah)"/>
<line x1="226.3" y1="43.8" x2="254.4" y2="43.8" stroke="#333" stroke-width="0.7" stroke-dasharray="1.6 1.4" marker-end="url(#ah)"/>
<line x1="295.0" y1="43.8" x2="309.6" y2="43.8" stroke="#aaa" stroke-width="0.7" stroke-dasharray="1.6 1.4" marker-end="url(#ahl)"/>
<line x1="273.8" y1="35.4" x2="273.8" y2="24.0" stroke="#333" stroke-width="0.7" stroke-dasharray="1.6 1.4" marker-end="url(#ah)"/>
<line x1="273.8" y1="52.0" x2="273.8" y2="71.9" stroke="#333" stroke-width="0.7" stroke-dasharray="1.6 1.4" marker-end="url(#ah)"/>
<line x1="287.7" y1="51.0" x2="310.6" y2="72.9" stroke="#333" stroke-width="0.7" stroke-dasharray="1.6 1.4" marker-end="url(#ah)"/>
<line x1="319.4" y1="71.9" x2="319.4" y2="52.0" stroke="#333" stroke-width="0.7" marker-end="url(#ah)"/>
<line x1="331.5" y1="43.8" x2="344.0" y2="43.8" stroke="#333" stroke-width="0.7" stroke-dasharray="1.6 1.4" marker-end="url(#ah)" marker-start="url(#ah)"/>
<line x1="87.5" y1="52.0" x2="87.5" y2="63.5" stroke="#aaa" stroke-width="0.7" stroke-dasharray="0.8 1.2" marker-end="url(#ahl)"/>
<line x1="57.3" y1="71.2" x2="73.3" y2="71.2" stroke="#333" stroke-width="0.7" marker-end="url(#ah)" marker-start="url(#ah)"/>
<line x1="40.2" y1="78.0" x2="40.2" y2="128.8" stroke="#333" stroke-width="0.7" marker-end="url(#ah)" marker-start="url(#ah)"/>
<line x1="101.7" y1="76.0" x2="123.0" y2="95.4" stroke="#333" stroke-width="0.7" marker-end="url(#ah)" marker-start="url(#ah)"/>
<line x1="135.8" y1="51.7" x2="135.8" y2="95.8" stroke="#333" stroke-width="0.7" stroke-dasharray="1.6 1.4" marker-end="url(#ah)" marker-start="url(#ah)"/>
<line x1="168.8" y1="76.0" x2="147.3" y2="94.8" stroke="#333" stroke-width="0.7" stroke-dasharray="1.6 1.4" marker-end="url(#ah)" marker-start="url(#ah)"/>
<line x1="152.0" y1="103.0" x2="169.2" y2="103.0" stroke="#333" stroke-width="0.7" marker-end="url(#ah)" marker-start="url(#ah)"/>
<line x1="101.7" y1="103.0" x2="118.3" y2="103.0" stroke="#aaa" stroke-width="0.7" stroke-dasharray="0.8 1.2" marker-end="url(#ahl)" marker-start="url(#ahl)"/>
<line x1="87.5" y1="110.4" x2="87.5" y2="128.5" stroke="#aaa" stroke-width="0.7" stroke-dasharray="0.8 1.2" marker-end="url(#ahl)" marker-start="url(#ahl)"/>
<line x1="102.0" y1="129.2" x2="123.3" y2="110.4" stroke="#333" stroke-width="0.7" stroke-dasharray="1.6 1.4" marker-end="url(#ah)" marker-start="url(#ah)"/>
<line x1="135.8" y1="111.5" x2="135.8" y2="128.8" stroke="#333" stroke-width="0.7" marker-end="url(#ah)"/>
<line x1="57.3" y1="135.4" x2="73.3" y2="135.4" stroke="#333" stroke-width="0.7" stroke-dasharray="1.6 1.4" marker-end="url(#ah)"/>
<line x1="101.7" y1="135.4" x2="117.7" y2="135.4" stroke="#333" stroke-width="0.7" stroke-dasharray="1.6 1.4" marker-end="url(#ah)"/>
<line x1="176.5" y1="135.4" x2="153.8" y2="135.4" stroke="#aaa" stroke-width="0.7" stroke-dasharray="0.8 1.2" marker-end="url(#ahl)"/>
<line x1="332.0" y1="135.4" x2="344.6" y2="135.4" stroke="#333" stroke-width="0.7" marker-end="url(#ah)" marker-start="url(#ah)"/>
<line x1="284.0" y1="90.0" x2="284.0" y2="127.0" stroke="#333" stroke-width="0.7" marker-end="url(#ah)" marker-start="url(#ah)"/>
<line x1="62.5" y1="217.0" x2="44.4" y2="217.0" stroke="#333" stroke-width="0.7" stroke-dasharray="1.6 1.4" marker-end="url(#ah)"/>
<line x1="90.0" y1="217.0" x2="108.3" y2="217.0" stroke="#333" stroke-width="0.7" stroke-dasharray="1.6 1.4" marker-end="url(#ah)"/>
<line x1="90.0" y1="233.5" x2="124.4" y2="233.5" stroke="#333" stroke-width="0.7" marker-end="url(#ah)" marker-start="url(#ah)"/>
<line x1="60.4" y1="238.0" x2="42.3" y2="248.0" stroke="#333" stroke-width="0.7" marker-end="url(#ah)" marker-start="url(#ah)"/>
<line x1="75.4" y1="239.0" x2="75.4" y2="248.3" stroke="#333" stroke-width="0.7" stroke-dasharray="1.6 1.4" marker-end="url(#ah)" marker-start="url(#ah)"/>
<line x1="42.3" y1="253.5" x2="61.0" y2="253.5" stroke="#333" stroke-width="0.7" marker-end="url(#ah)" marker-start="url(#ah)"/>
<line x1="81.3" y1="292.0" x2="81.3" y2="301.4" stroke="#333" stroke-width="0.7" marker-end="url(#ah)"/>
<line x1="116.9" y1="308.1" x2="92.5" y2="308.1" stroke="#333" stroke-width="0.7" stroke-dasharray="1.6 1.4" marker-end="url(#ah)"/>
<line x1="165.6" y1="308.1" x2="142.5" y2="308.1" stroke="#333" stroke-width="0.7" stroke-dasharray="1.6 1.4" marker-end="url(#ah)"/>
<path d="M136.5 142 V168 Q136.5 178 146 178.8 H153" fill="none" stroke="#333" stroke-width="0.7" marker-end="url(#af)"/>
<path d="M166.7 187.7 A26.7 26.7 0 0 1 160.2 228.7" fill="none" stroke="#333" stroke-width="0.7" marker-end="url(#af)"/>
<path d="M135.6 229.8 A26.7 26.7 0 0 1 125.9 222.0" fill="none" stroke="#333" stroke-width="0.7" marker-end="url(#af)"/>
<path d="M120.9 211.6 A26.7 26.7 0 0 1 121.2 198.2" fill="none" stroke="#333" stroke-width="0.7" marker-end="url(#af)"/>
<path d="M126.4 188.4 A26.7 26.7 0 0 1 152.5 179.5" fill="none" stroke="#333" stroke-width="0.7" marker-end="url(#af)"/>
<path d="M80.0 251.5 A25 25 0 1 1 75.0 279.0" fill="none" stroke="#111" stroke-width="1.1" stroke-dasharray="3 2"/>
<path d="M75 279 Q69 266 73 259.5" fill="none" stroke="#111" stroke-width="1.1" stroke-dasharray="3 2" marker-end="url(#af)"/>
<path d="M284 148.3 V236 Q284 244.8 275 244.8 H253" fill="none" stroke="#444" stroke-width="0.8"/>
<path d="M295.4 203.6 H289 Q284 203.6 284 209" fill="none" stroke="#444" stroke-width="0.8"/>
<rect x="237" y="242.6" width="15.7" height="4.6" fill="#4a94dc"/>
<line x1="237" y1="244.9" x2="231" y2="244.9" stroke="#111" stroke-width="0.8" marker-end="url(#af)"/>
<line x1="213.3" y1="251.5" x2="213.3" y2="279" stroke="#111" stroke-width="0.8" marker-end="url(#af)"/>
<rect x="211" y="258" width="4.8" height="13.7" fill="#4a94dc"/>
<line x1="0" y1="323" x2="370" y2="323" stroke="#666" stroke-width="1.3" stroke-dasharray="1.6 1.6"/>
<rect x="35.2" y="328.3" width="9.6" height="9" fill="none" stroke="#ea5458" stroke-width="1"/>
<rect x="35.2" y="341.8" width="9.6" height="9" fill="none" stroke="#55b560" stroke-width="1"/>
<circle cx="39.8" cy="359.5" r="1.1" fill="#111"/>
<text x="48.4" y="335.2" font-size="6.0" fill="#111" text-anchor="start" >Increased in cases compared to controls</text>
<text x="48.4" y="348.6" font-size="6.0" fill="#111" text-anchor="start" >Decreased in cases compared to controls</text>
<text x="48.4" y="361.7" font-size="6.0" fill="#111" text-anchor="start" >Not associated with risk of incident T2D after adjustment</text>
<circle cx="243" cy="332.7" r="5.9" fill="#b4f2ec"/><circle cx="243" cy="344.8" r="5.9" fill="#d6a9ea"/><circle cx="243" cy="357.3" r="5.9" fill="#a9c6f0"/>
<text x="254.8" y="334.9" font-size="6.0" fill="#111" text-anchor="start" >Carbohydrates metabolism</text>
<text x="254.8" y="347.0" font-size="6.0" fill="#111" text-anchor="start" >Amino acids metabolism</text>
<text x="254.8" y="359.5" font-size="6.0" fill="#111" text-anchor="start" >Lipids metabolism</text>
</svg></div>
<div class="panel" id="p-or" style="left:847px;top:78px;width:417px;height:236px;"><svg width="417" height="236" viewBox="0 0 417 236" style="position:absolute;left:0;top:0;font-family:'Liberation Sans','Noto Sans CJK SC',sans-serif;">
<rect x="22.4" y="44.6" width="376.1" height="174.4" fill="#e9e9e9"/>
<path d="M22.4 44.6 V219.0 H19.4 M22.4 175.4 H398.5" stroke="#222" stroke-width="1" fill="none"/>
<path d="M22.4 219.0 h-3.5 M22.4 175.4 h-3.5 M22.4 131.8 h-3.5 M22.4 88.2 h-3.5 M22.4 44.6 h-3.5" stroke="#222" stroke-width="1"/>
<g font-size="8.5" font-weight="bold" fill="#111">
<text x="17.9" y="221.7" text-anchor="end">0</text>
<text x="17.9" y="178.1" text-anchor="end">1</text>
<text x="17.9" y="134.5" text-anchor="end">2</text>
<text x="17.9" y="90.9" text-anchor="end">3</text>
<text x="17.9" y="47.3" text-anchor="end">4</text>
<text transform="translate(9.0 132.0) rotate(-90)" text-anchor="middle">ORs</text>
</g>
<text x="203.5" y="14.5" text-anchor="middle" font-size="9" font-weight="bold" fill="#111">Pooled ORs of significant metabolites</text>
<line x1="86.0" y1="31.0" x2="102.0" y2="31.0" stroke="#222" stroke-width="0.8"/>
<rect x="92.2" y="29.2" width="3.6" height="3.6" fill="#b98cc6" stroke="#222" stroke-width="0.7"/>
<text x="106.7" y="33.6" font-size="8.2" font-weight="bold" fill="#111">Quartile 2</text>
<line x1="179.9" y1="31.0" x2="196.0" y2="31.0" stroke="#222" stroke-width="0.8"/>
<circle cx="188.0" cy="31.0" r="1.9" fill="#fff" stroke="#222" stroke-width="0.7"/>
<text x="199.7" y="33.6" font-size="8.2" font-weight="bold" fill="#111">Quartile 3</text>
<line x1="270.6" y1="31.0" x2="286.0" y2="31.0" stroke="#222" stroke-width="0.8"/>
<path d="M278.3 28.6 l2.2 2.4 l-2.2 2.4 l-2.2 -2.4z" fill="#d9c8e6" stroke="#222" stroke-width="0.7"/>
<text x="289.7" y="33.6" font-size="8.2" font-weight="bold" fill="#111">Quartile 4</text>
<text x="24.2" y="70.2" font-size="8.4" font-weight="bold" fill="#111"><tspan font-style="italic">P</tspan><tspan font-size="4" dy="1">trend</tspan><tspan dy="-1"> = 7.10E-05</tspan></text>
<text x="104.9" y="70.2" font-size="8.4" font-weight="bold" fill="#111"><tspan font-style="italic">P</tspan><tspan font-size="4" dy="1">trend</tspan><tspan dy="-1"> = 0.002</tspan></text>
<text x="178.7" y="70.2" font-size="8.4" font-weight="bold" fill="#111"><tspan font-style="italic">P</tspan><tspan font-size="4" dy="1">trend</tspan><tspan dy="-1"> = 1.97E-05</tspan></text>
<text x="262.3" y="70.2" font-size="8.4" font-weight="bold" fill="#111"><tspan font-style="italic">P</tspan><tspan font-size="4" dy="1">trend</tspan><tspan dy="-1"> = 0.001</tspan></text>
<text x="335.5" y="70.2" font-size="8.4" font-weight="bold" fill="#111"><tspan font-style="italic">P</tspan><tspan font-size="4" dy="1">trend</tspan><tspan dy="-1"> = 2.42E-09</tspan></text>
<path d="M36.2 149.7 V180.6 M34.0 149.7 h4.4 M34.0 180.6 h4.4" stroke="#222" stroke-width="0.9" fill="none"/>
<rect x="34.4" y="165.8" width="3.6" height="3.6" fill="#b98cc6" stroke="#222" stroke-width="0.7"/>
<path d="M50.5 130.1 V168.9 M48.3 130.1 h4.4 M48.3 168.9 h4.4" stroke="#222" stroke-width="0.9" fill="none"/>
<circle cx="50.5" cy="152.3" r="1.9" fill="#fff" stroke="#222" stroke-width="0.7"/>
<path d="M64.7 113.5 V161.9 M62.5 113.5 h4.4 M62.5 161.9 h4.4" stroke="#222" stroke-width="0.9" fill="none"/>
<path d="M64.7 139.0 l2.2 2.4 l-2.2 2.4 l-2.2 -2.4z" fill="#d9c8e6" stroke="#222" stroke-width="0.7"/>
<path d="M115.0 133.5 V171.9 M112.8 133.5 h4.4 M112.8 171.9 h4.4" stroke="#222" stroke-width="0.9" fill="none"/>
<rect x="113.2" y="153.5" width="3.6" height="3.6" fill="#b98cc6" stroke="#222" stroke-width="0.7"/>
<path d="M129.2 132.7 V172.3 M127.0 132.7 h4.4 M127.0 172.3 h4.4" stroke="#222" stroke-width="0.9" fill="none"/>
<circle cx="129.2" cy="155.3" r="1.9" fill="#fff" stroke="#222" stroke-width="0.7"/>
<path d="M143.5 105.6 V157.5 M141.3 105.6 h4.4 M141.3 157.5 h4.4" stroke="#222" stroke-width="0.9" fill="none"/>
<path d="M143.5 133.3 l2.2 2.4 l-2.2 2.4 l-2.2 -2.4z" fill="#d9c8e6" stroke="#222" stroke-width="0.7"/>
<path d="M193.7 148.8 V180.2 M191.5 148.8 h4.4 M191.5 180.2 h4.4" stroke="#222" stroke-width="0.9" fill="none"/>
<rect x="191.9" y="164.9" width="3.6" height="3.6" fill="#b98cc6" stroke="#222" stroke-width="0.7"/>
<path d="M208.0 141.8 V175.8 M205.8 141.8 h4.4 M205.8 175.8 h4.4" stroke="#222" stroke-width="0.9" fill="none"/>
<circle cx="208.0" cy="161.4" r="1.9" fill="#fff" stroke="#222" stroke-width="0.7"/>
<path d="M222.2 111.3 V159.3 M220.0 111.3 h4.4 M220.0 159.3 h4.4" stroke="#222" stroke-width="0.9" fill="none"/>
<path d="M222.2 135.9 l2.2 2.4 l-2.2 2.4 l-2.2 -2.4z" fill="#d9c8e6" stroke="#222" stroke-width="0.7"/>
<path d="M272.5 133.5 V171.0 M270.3 133.5 h4.4 M270.3 171.0 h4.4" stroke="#222" stroke-width="0.9" fill="none"/>
<rect x="270.7" y="153.5" width="3.6" height="3.6" fill="#b98cc6" stroke="#222" stroke-width="0.7"/>
<path d="M286.8 124.4 V165.4 M284.6 124.4 h4.4 M284.6 165.4 h4.4" stroke="#222" stroke-width="0.9" fill="none"/>
<circle cx="286.8" cy="147.5" r="1.9" fill="#fff" stroke="#222" stroke-width="0.7"/>
<path d="M301.0 123.1 V166.2 M298.8 123.1 h4.4 M298.8 166.2 h4.4" stroke="#222" stroke-width="0.9" fill="none"/>
<path d="M301.0 145.1 l2.2 2.4 l-2.2 2.4 l-2.2 -2.4z" fill="#d9c8e6" stroke="#222" stroke-width="0.7"/>
<path d="M351.2 154.5 V181.9 M349.0 154.5 h4.4 M349.0 181.9 h4.4" stroke="#222" stroke-width="0.9" fill="none"/>
<rect x="349.4" y="168.4" width="3.6" height="3.6" fill="#b98cc6" stroke="#222" stroke-width="0.7"/>
<path d="M365.5 130.9 V168.9 M363.3 130.9 h4.4 M363.3 168.9 h4.4" stroke="#222" stroke-width="0.9" fill="none"/>
<circle cx="365.5" cy="152.7" r="1.9" fill="#fff" stroke="#222" stroke-width="0.7"/>
<path d="M379.7 74.7 V141.0 M377.5 74.7 h4.4 M377.5 141.0 h4.4" stroke="#222" stroke-width="0.9" fill="none"/>
<path d="M379.7 110.2 l2.2 2.4 l-2.2 2.4 l-2.2 -2.4z" fill="#d9c8e6" stroke="#222" stroke-width="0.7"/>
<g font-size="15" fill="#5a5a5a" text-anchor="middle">
<text x="54.2" y="207.0">丙氨酸</text>
<text x="131.0" y="207.0">苯丙氨酸</text>
<text x="211.3" y="207.0">酪氨酸</text>
<text x="286.7" y="197.5">棕榈酰</text>
<text x="286.7" y="214.5">肉毒碱</text>
<text x="367.3" y="198.2">代谢物</text>
<text x="367.3" y="215.2">总评分</text>
</g>
<g font-size="9" font-weight="bold" fill="#111" text-anchor="middle">
<text x="49.7" y="229.6">Alanine</text>
<text x="131.1" y="229.6">Phenylalanine</text>
<text x="208.0" y="229.6">Tyrosine</text>
<text x="287.5" y="229.6">Palmitoylcarnitine</text>
<text x="373.0" y="229.6">Metabolomic score</text>
</g></svg></div>
<div class="panel" id="p-roc" style="left:847px;top:320px;width:417px;height:369px;"><svg width="417" height="369" viewBox="0 0 417 369" style="position:absolute;left:0;top:0;font-family:'Liberation Sans',sans-serif;">
<path d="M94.0 294.7 H403.4 M109.5 39.6 V307.8 M94.0 234.2 H403.4 M179.0 39.6 V307.8 M94.0 173.7 H403.4 M248.5 39.6 V307.8 M94.0 113.2 H403.4 M317.9 39.6 V307.8 M94.0 52.7 H403.4 M387.4 39.6 V307.8" stroke="#e4e4e4" stroke-width="1" fill="none"/>
<line x1="94.0" y1="307.8" x2="403.4" y2="39.6" stroke="#9a9a9a" stroke-width="1.2"/>
<path d="M109.5 294.7 L109.5 293.3 L109.6 291.1 L109.7 289.5 L110.0 286.1 L110.1 285.0 L110.2 284.4 L110.2 284.2 L110.3 282.8 L110.4 282.5 L110.5 281.3 L110.6 280.4 L110.8 279.1 L110.8 278.9 L110.9 278.5 L110.9 278.2 L111.0 277.7 L111.3 275.7 L111.6 274.1 L112.0 271.2 L113.2 265.2 L113.5 264.0 L114.6 259.4 L116.2 253.6 L117.5 248.9 L118.9 244.6 L119.5 243.2 L119.6 243.1 L121.2 238.8 L123.2 233.4 L125.1 228.7 L127.2 223.4 L127.3 223.7 L128.7 220.3 L129.0 219.9 L129.2 219.7 L129.5 218.2 L130.2 216.8 L131.8 213.9 L132.2 213.5 L133.3 211.7 L134.3 208.7 L134.5 207.4 L135.4 205.4 L136.1 204.4 L136.8 202.5 L137.5 201.7 L137.9 200.9 L138.3 200.3 L138.5 200.2 L138.8 198.6 L139.9 195.8 L140.1 194.9 L140.3 196.7 L140.6 195.1 L140.8 194.7 L141.1 195.1 L142.7 193.0 L144.1 190.2 L144.7 188.8 L145.3 187.7 L145.3 188.0 L148.3 184.2 L149.1 182.9 L152.9 178.4 L154.3 177.7 L154.8 177.8 L155.9 176.8 L156.6 175.8 L157.6 172.9 L160.1 171.4 L160.3 170.9 L161.1 170.3 L161.6 169.6 L162.8 167.3 L164.4 164.8 L165.5 164.0 L165.7 164.6 L166.1 165.6 L166.3 165.5 L168.7 161.9 L173.2 157.6 L174.1 156.3 L174.9 155.0 L176.3 153.5 L178.0 151.1 L178.1 151.5 L178.5 152.1 L183.6 148.4 L184.1 147.2 L185.4 146.5 L185.7 146.5 L185.7 145.9 L186.8 145.7 L188.6 142.6 L188.7 142.2 L190.0 141.7 L190.3 142.1 L192.1 139.7 L193.2 139.9 L194.7 139.3 L195.7 138.5 L196.0 138.1 L196.1 138.0 L200.1 134.4 L203.2 132.3 L203.3 132.3 L204.7 130.2 L206.4 128.4 L206.5 128.9 L207.7 126.7 L208.4 128.0 L209.1 127.5 L209.3 126.8 L210.2 125.4 L210.4 125.4 L210.7 125.6 L211.8 124.4 L212.7 124.1 L213.3 123.4 L214.0 125.5 L215.9 123.6 L219.3 121.9 L219.7 120.7 L220.2 119.7 L221.2 118.4 L222.2 118.2 L222.5 117.7 L224.9 116.5 L226.4 115.3 L229.1 113.8 L229.2 114.5 L230.9 111.7 L231.6 110.8 L233.7 111.4 L234.7 110.0 L235.1 111.0 L236.5 110.3 L240.5 108.3 L242.7 107.3 L246.3 104.9 L246.7 104.8 L248.8 104.8 L252.6 102.5 L254.6 100.8 L255.7 98.6 L260.5 96.4 L262.0 96.6 L263.0 96.3 L263.3 95.4 L263.4 96.1 L263.4 96.5 L264.7 95.2 L267.8 93.6 L273.3 90.6 L273.4 91.0 L273.7 91.4 L273.9 91.4 L276.2 90.3 L276.3 90.3 L278.9 88.5 L279.8 87.5 L279.8 87.0 L281.2 85.9 L286.6 84.3 L287.8 84.6 L292.0 82.0 L294.5 80.9 L295.0 80.5 L297.5 80.4 L300.4 79.3 L301.9 79.1 L302.3 79.5 L304.2 79.1 L307.3 78.9 L307.4 78.4 L307.5 77.0 L307.8 77.3 L311.8 75.5 L314.5 75.2 L314.7 74.3 L315.6 72.2 L316.0 73.1 L319.7 71.9 L321.8 69.8 L322.5 69.3 L322.6 69.2 L324.1 70.4 L325.8 69.9 L326.3 68.8 L330.6 66.1 L331.1 65.5 L331.2 66.1 L331.5 66.6 L334.1 67.3 L335.0 67.8 L335.6 66.5 L337.2 66.0 L338.4 66.6 L339.8 64.8 L339.9 66.2 L341.3 64.5 L346.6 63.0 L346.7 62.6 L347.3 61.9 L359.6 58.4 L361.3 57.4 L362.4 57.2 L362.5 57.4 L364.9 57.2 L367.8 57.0 L369.7 56.7 L371.8 55.9 L374.1 55.1 L376.5 54.3 L377.3 53.7 L380.0 53.4 L380.4 53.3 L381.4 53.4 L382.0 53.4 L384.3 52.9 L387.4 52.7" stroke="#6a7fb0" stroke-width="1.6" fill="none" stroke-linejoin="round"/>
<path d="M109.5 294.7 L109.6 294.3 L110.0 292.9 L110.2 292.5 L110.2 292.3 L110.4 292.0 L110.5 291.5 L110.6 291.2 L110.8 290.9 L111.0 290.3 L111.1 290.1 L111.2 289.7 L111.4 289.3 L111.4 289.3 L111.4 289.4 L112.0 288.0 L112.7 286.4 L113.2 285.4 L113.3 285.5 L113.5 285.1 L115.1 282.1 L115.3 281.8 L116.1 280.0 L116.4 279.4 L117.5 277.6 L117.7 277.3 L118.3 276.4 L118.4 275.5 L118.6 275.4 L119.1 273.9 L119.8 272.9 L120.1 272.5 L122.2 268.7 L123.5 266.7 L124.1 265.7 L124.7 265.4 L125.9 263.1 L126.8 261.0 L127.0 261.0 L127.5 260.2 L127.5 260.4 L128.3 260.3 L129.3 257.1 L130.9 254.2 L131.0 253.6 L131.0 253.4 L131.4 252.9 L132.8 249.2 L135.8 246.2 L135.9 246.5 L136.3 246.3 L136.7 246.0 L137.7 244.1 L138.5 243.6 L139.3 243.8 L139.5 244.3 L140.5 242.4 L140.6 241.3 L141.4 239.6 L142.4 236.9 L143.2 236.5 L144.4 234.1 L145.4 232.4 L145.6 232.5 L146.2 232.6 L148.1 229.5 L148.1 230.2 L149.2 229.2 L151.6 226.9 L152.8 224.0 L156.5 219.6 L157.0 219.5 L157.4 219.4 L157.4 219.5 L157.9 218.9 L158.9 219.1 L159.4 219.3 L160.9 217.0 L161.0 215.8 L163.9 213.2 L165.6 211.0 L168.0 208.7 L168.0 210.5 L170.1 208.0 L171.1 207.6 L172.6 204.8 L172.8 204.5 L174.6 202.3 L176.0 201.7 L178.0 199.2 L178.1 200.4 L182.1 195.5 L182.6 193.4 L184.6 192.2 L185.1 190.7 L185.9 188.4 L186.0 188.5 L188.0 185.4 L188.9 184.5 L191.9 181.9 L192.0 183.6 L192.8 183.5 L193.0 184.3 L193.8 181.1 L196.5 178.1 L196.6 178.1 L197.4 178.3 L197.6 176.5 L199.8 175.3 L203.6 170.3 L203.8 169.2 L204.8 168.3 L208.0 166.0 L209.0 165.1 L210.2 165.2 L210.8 164.0 L211.2 162.2 L211.3 161.4 L212.1 159.9 L213.0 160.0 L213.5 159.5 L213.9 160.1 L214.4 160.1 L215.2 158.8 L215.4 156.6 L215.6 156.7 L216.8 155.8 L221.1 153.9 L225.3 150.1 L226.1 150.2 L228.4 149.5 L232.6 147.0 L232.6 146.6 L233.8 145.8 L234.8 144.2 L235.0 144.0 L235.8 143.2 L240.6 137.9 L240.6 137.2 L240.9 136.5 L242.1 134.4 L243.6 133.2 L246.2 132.1 L246.5 132.7 L250.1 131.2 L252.4 129.1 L255.6 126.9 L256.1 126.0 L258.8 123.3 L261.8 121.7 L262.8 120.8 L262.9 119.7 L263.4 119.3 L267.2 115.8 L269.3 114.6 L272.1 113.5 L274.1 112.3 L274.4 113.8 L275.6 112.2 L277.6 111.2 L278.2 109.5 L280.3 109.0 L280.6 108.7 L280.6 108.3 L281.4 107.9 L282.4 106.8 L282.6 107.3 L284.4 107.0 L285.0 107.6 L286.4 106.9 L287.3 106.7 L288.1 105.6 L291.4 103.4 L292.0 103.3 L294.7 101.9 L295.8 102.5 L304.5 96.8 L307.1 94.4 L308.4 94.4 L309.3 93.6 L313.3 90.2 L316.0 88.9 L320.2 85.9 L321.7 85.1 L323.7 81.6 L328.8 77.5 L332.1 74.8 L336.9 73.0 L337.1 72.4 L339.1 71.6 L340.0 70.9 L343.5 69.8 L344.2 69.4 L346.7 68.9 L347.6 68.2 L349.4 66.1 L349.4 67.2 L349.8 68.0 L349.9 67.5 L351.3 66.3 L354.9 64.9 L355.3 64.3 L356.7 63.5 L360.4 61.7 L360.4 61.1 L360.9 61.4 L365.9 59.2 L366.6 59.0 L368.7 58.5 L369.3 58.1 L369.8 58.4 L370.8 58.5 L371.7 57.8 L372.2 57.9 L379.5 54.9 L380.5 54.4 L380.6 54.5 L383.2 53.8 L385.1 53.3 L385.2 53.3 L386.9 52.8 L387.4 52.7" stroke="#2a7f7a" stroke-width="1.6" fill="none" stroke-linejoin="round"/>
<path d="M109.5 294.7 L109.6 291.4 L109.8 287.0 L109.9 286.0 L109.9 286.0 L110.3 281.9 L110.4 280.7 L110.7 278.2 L111.0 276.0 L111.0 275.7 L111.9 269.9 L112.1 268.9 L112.1 268.6 L112.2 268.5 L113.6 261.2 L113.6 261.1 L113.9 260.0 L114.0 259.6 L114.2 258.8 L114.4 257.7 L115.4 253.4 L116.8 248.6 L118.0 244.6 L118.5 242.7 L121.2 235.0 L122.5 231.3 L123.4 228.8 L125.7 223.1 L125.8 222.9 L126.6 220.0 L126.7 220.2 L127.8 217.2 L128.9 214.7 L129.3 214.1 L131.4 209.4 L132.0 208.8 L132.7 206.9 L133.9 205.4 L136.5 201.1 L137.6 199.0 L138.6 196.7 L138.7 196.0 L139.2 194.7 L139.6 194.3 L141.0 193.2 L141.7 191.8 L141.8 191.6 L141.9 192.4 L144.5 187.7 L146.2 185.1 L148.7 182.5 L150.4 180.0 L151.8 179.3 L152.2 179.4 L152.7 178.4 L153.3 178.8 L153.8 178.0 L155.1 177.2 L155.3 176.2 L155.4 176.5 L155.4 176.1 L155.5 177.1 L157.4 174.7 L157.5 173.5 L158.1 172.2 L158.4 173.3 L159.8 170.5 L160.3 169.1 L162.4 166.8 L163.1 164.8 L163.8 164.9 L164.9 163.7 L164.9 162.6 L165.9 160.5 L166.1 159.3 L167.3 159.2 L167.7 160.4 L170.5 157.0 L171.8 156.9 L172.0 156.7 L173.9 155.8 L174.0 154.5 L176.1 151.6 L178.5 148.9 L181.9 145.6 L182.3 145.2 L182.6 145.3 L183.5 144.1 L183.9 143.6 L184.3 142.9 L185.1 142.6 L188.2 138.3 L189.1 137.5 L189.3 136.3 L189.5 135.3 L190.2 135.9 L191.9 136.1 L193.7 133.6 L195.2 133.0 L196.3 132.1 L198.0 131.1 L199.1 130.2 L199.8 130.8 L200.9 130.0 L209.4 124.1 L209.8 123.7 L209.9 125.6 L213.4 122.1 L213.7 121.5 L214.0 122.6 L214.7 122.6 L215.2 121.9 L216.6 120.1 L221.1 117.0 L222.4 114.8 L225.7 112.6 L228.8 111.5 L228.9 112.0 L230.2 110.4 L231.3 110.2 L232.2 108.7 L233.6 107.0 L233.9 106.4 L235.0 105.0 L235.8 104.9 L236.3 104.7 L237.2 104.8 L237.3 105.4 L238.6 105.9 L239.9 105.5 L242.1 105.1 L242.6 105.7 L243.4 104.8 L243.8 103.9 L245.2 103.2 L247.0 100.8 L247.4 99.8 L247.6 98.8 L249.2 98.5 L250.1 99.3 L251.5 98.0 L252.4 97.2 L253.1 96.3 L255.2 94.9 L259.5 91.7 L259.5 92.1 L262.3 90.3 L262.4 91.2 L264.0 92.5 L265.1 92.2 L266.0 90.4 L270.1 89.9 L271.6 88.2 L274.7 87.3 L277.1 86.5 L277.2 86.3 L278.7 85.3 L278.9 86.0 L279.4 85.5 L284.7 82.8 L285.7 81.6 L286.9 81.7 L288.3 79.7 L288.4 78.2 L293.0 74.5 L296.8 74.6 L298.1 74.2 L306.1 73.1 L308.6 71.9 L308.7 71.5 L309.8 72.2 L310.7 73.2 L310.9 72.9 L311.0 72.2 L312.2 72.5 L320.2 69.9 L321.0 71.7 L322.1 71.6 L322.2 71.1 L322.5 70.6 L322.9 68.9 L328.8 67.9 L329.4 69.5 L329.7 68.6 L331.4 68.4 L333.3 67.3 L334.1 66.2 L334.3 65.5 L336.1 63.6 L338.4 61.8 L338.5 63.4 L338.9 63.3 L339.3 61.5 L340.8 61.6 L345.4 59.8 L345.5 60.0 L346.6 60.2 L348.2 58.8 L348.4 58.2 L348.6 58.5 L355.0 56.9 L355.2 57.9 L356.3 58.2 L357.7 57.4 L358.3 57.4 L361.0 57.4 L362.4 56.9 L363.0 56.7 L364.1 56.0 L366.9 55.2 L370.3 54.8 L372.2 54.8 L372.8 54.7 L373.1 54.8 L378.2 53.7 L379.4 53.4 L382.0 53.0 L383.2 52.9 L383.7 52.9 L385.6 52.8 L386.8 52.7 L387.4 52.7" stroke="#5b3b2b" stroke-width="1.6" fill="none" stroke-linejoin="round"/>
<path d="M109.5 294.7 L109.6 287.1 L109.8 278.1 L109.8 276.6 L109.9 273.6 L110.2 268.1 L110.7 260.2 L111.1 255.7 L111.3 253.6 L111.5 251.5 L111.8 248.4 L112.0 246.8 L112.0 246.4 L112.1 245.4 L112.1 245.2 L112.3 244.2 L112.7 240.7 L113.1 238.3 L113.5 235.7 L113.6 234.9 L113.7 234.2 L114.3 231.3 L115.1 226.4 L116.4 220.7 L116.6 219.8 L116.9 218.4 L117.4 216.5 L117.7 215.3 L117.9 213.8 L118.4 212.1 L118.7 210.7 L119.1 208.8 L120.3 204.9 L120.5 204.5 L121.4 202.0 L122.2 199.9 L123.5 195.2 L123.9 195.2 L124.3 193.7 L125.6 190.8 L126.5 187.7 L127.5 185.0 L128.5 183.5 L128.8 183.3 L128.9 182.8 L129.4 181.5 L130.3 180.3 L130.3 180.3 L132.8 175.8 L133.1 174.6 L133.5 173.6 L134.7 171.3 L134.9 171.4 L135.8 168.9 L135.9 169.3 L136.4 169.0 L137.1 168.2 L137.9 167.0 L138.6 166.0 L139.9 165.2 L140.4 163.0 L140.9 161.6 L141.4 159.7 L141.6 159.6 L142.6 157.6 L142.7 157.3 L143.9 155.5 L144.0 153.9 L145.2 153.1 L148.1 148.8 L149.9 148.2 L149.9 147.6 L150.8 146.8 L152.7 145.4 L153.0 145.5 L153.7 146.4 L155.2 145.2 L156.3 143.5 L157.4 144.2 L157.7 142.5 L160.0 139.0 L162.3 137.0 L162.4 137.9 L162.5 138.7 L163.8 138.0 L165.3 136.7 L168.5 131.4 L170.2 130.5 L170.2 129.5 L174.9 124.2 L175.0 124.8 L178.8 121.8 L180.2 119.9 L180.6 120.1 L182.3 117.6 L182.6 115.5 L182.6 115.7 L183.2 116.1 L183.5 115.4 L185.5 113.8 L186.2 114.0 L188.1 112.8 L191.8 110.3 L195.9 107.2 L199.4 104.1 L199.5 104.6 L200.1 105.5 L201.3 106.1 L203.8 102.9 L204.5 102.9 L205.0 102.9 L206.1 100.2 L207.3 98.7 L209.5 95.8 L210.2 96.0 L211.5 96.2 L214.6 95.3 L215.6 94.4 L216.1 94.0 L216.5 93.7 L218.1 91.2 L218.8 90.2 L220.8 90.6 L222.1 89.9 L223.0 89.3 L225.5 89.2 L227.6 86.5 L228.8 85.6 L229.8 84.3 L236.9 82.3 L238.3 83.1 L240.6 81.9 L241.3 82.1 L243.7 81.9 L245.3 81.6 L245.5 81.5 L247.3 80.9 L247.5 81.2 L249.3 80.2 L250.2 77.6 L252.6 76.1 L256.5 75.6 L256.7 74.2 L257.5 74.9 L260.9 75.4 L261.3 76.7 L262.4 78.1 L262.5 77.1 L264.2 77.4 L267.4 77.6 L271.3 76.6 L283.5 73.0 L284.6 73.6 L288.1 72.8 L288.7 72.3 L288.9 71.5 L295.5 70.4 L295.5 69.6 L296.4 69.0 L298.6 67.9 L298.7 68.2 L299.2 69.0 L302.0 67.3 L302.3 66.6 L303.7 66.8 L305.0 67.1 L308.2 65.6 L308.5 63.7 L308.5 63.5 L310.8 61.0 L312.0 60.8 L313.1 60.6 L313.9 60.3 L315.1 59.5 L318.7 60.4 L319.2 60.4 L320.0 59.3 L322.6 60.4 L326.5 59.6 L329.1 58.6 L333.0 56.7 L333.3 55.6 L334.9 55.7 L336.5 54.1 L337.5 55.4 L338.1 56.8 L338.4 55.8 L338.9 55.5 L339.8 56.6 L341.0 55.7 L342.6 55.1 L343.5 54.7 L345.2 55.2 L346.4 56.3 L346.7 57.7 L347.2 57.7 L348.5 57.6 L350.3 57.6 L353.9 57.3 L355.7 56.4 L355.8 57.0 L356.6 57.2 L357.7 55.8 L357.7 56.2 L357.9 56.5 L360.6 55.5 L364.1 55.8 L368.7 54.5 L369.4 54.8 L370.8 54.9 L371.6 55.1 L371.6 55.2 L373.4 55.0 L373.5 54.7 L374.4 54.5 L375.4 54.0 L379.8 53.3 L382.3 53.2 L383.5 53.1 L386.3 52.8 L386.4 52.8 L387.4 52.7" stroke="#b8574f" stroke-width="1.6" fill="none" stroke-linejoin="round"/>
<path d="M109.5 294.7 L109.5 289.0 L109.5 289.0 L109.6 286.7 L109.7 278.1 L109.8 275.0 L109.9 273.1 L110.2 267.7 L110.5 262.9 L110.8 258.5 L110.9 257.3 L111.1 254.3 L111.4 252.0 L111.4 251.1 L111.9 247.2 L112.3 243.6 L112.5 242.4 L113.0 238.6 L113.2 237.5 L113.3 236.7 L114.1 231.6 L115.6 223.5 L116.9 217.6 L117.2 216.7 L119.2 209.1 L119.4 208.3 L120.1 205.8 L122.0 199.3 L122.6 197.2 L123.1 196.1 L123.9 194.0 L125.0 191.8 L125.1 192.1 L125.5 191.4 L125.5 190.7 L127.2 186.5 L127.3 185.8 L127.5 184.6 L128.3 183.0 L128.3 181.7 L129.3 179.9 L130.3 178.3 L130.9 177.3 L131.0 176.3 L133.1 172.2 L133.7 171.8 L135.3 168.6 L136.1 166.1 L137.3 164.3 L137.5 164.3 L138.0 162.6 L139.4 159.7 L141.6 155.7 L141.7 156.5 L143.5 153.8 L144.4 152.5 L149.0 148.1 L150.6 145.1 L150.9 144.8 L152.7 143.0 L153.1 140.6 L153.8 140.1 L154.0 140.7 L154.9 139.9 L155.5 138.9 L157.5 136.2 L158.0 135.9 L158.8 136.0 L159.1 136.5 L159.2 137.1 L164.1 133.0 L164.2 132.8 L164.6 132.7 L164.8 132.4 L165.7 132.1 L166.5 131.9 L167.1 131.3 L168.2 130.3 L169.8 127.7 L169.9 128.3 L170.4 127.5 L171.1 126.8 L173.8 125.4 L174.7 123.9 L180.8 118.7 L181.2 120.1 L181.4 119.2 L185.4 115.2 L185.6 115.6 L189.1 111.6 L190.9 110.2 L194.3 109.0 L194.4 108.4 L195.0 108.3 L197.0 108.1 L197.7 109.4 L197.8 108.8 L198.8 108.5 L199.5 107.2 L201.1 105.7 L201.6 105.7 L202.1 105.6 L202.3 103.8 L203.6 101.5 L204.3 100.5 L205.9 100.1 L207.6 100.1 L213.1 97.5 L215.1 95.0 L216.5 94.0 L217.8 93.8 L219.5 94.1 L220.9 93.3 L221.4 93.8 L221.9 93.5 L230.3 88.9 L231.8 87.4 L232.5 87.1 L232.5 87.5 L235.5 86.1 L236.7 84.1 L239.7 82.8 L242.2 83.2 L242.5 81.9 L244.3 81.1 L246.1 77.7 L246.4 78.5 L247.5 78.5 L248.6 78.7 L248.7 78.6 L250.7 78.7 L253.1 79.3 L254.3 80.7 L254.8 80.5 L255.0 80.7 L255.2 81.1 L259.9 77.4 L260.4 76.6 L262.5 75.1 L264.6 75.0 L264.6 74.8 L267.4 74.3 L268.2 74.3 L268.5 73.6 L269.0 73.1 L269.1 73.0 L269.3 73.0 L270.4 74.0 L273.8 73.7 L273.9 73.3 L279.2 72.1 L279.4 72.6 L282.7 71.3 L283.0 72.0 L283.4 72.3 L285.6 70.8 L286.4 70.8 L287.0 69.3 L289.4 68.3 L289.9 67.5 L292.1 66.1 L293.5 67.8 L295.7 67.4 L297.2 68.1 L299.0 68.0 L299.1 67.9 L299.3 66.6 L301.1 66.2 L301.7 64.7 L303.2 64.9 L303.8 64.9 L303.9 64.8 L306.6 63.5 L307.3 63.5 L307.3 64.1 L307.5 64.5 L314.6 64.1 L315.3 62.8 L318.2 61.6 L319.0 61.2 L322.2 60.4 L322.8 60.9 L324.5 61.0 L325.3 60.2 L325.3 60.9 L328.1 61.1 L331.0 59.1 L334.0 57.4 L335.0 57.1 L335.6 56.8 L335.9 56.8 L344.3 54.7 L347.1 55.1 L348.0 55.1 L353.2 54.5 L353.3 53.8 L354.0 54.2 L355.7 54.1 L356.4 54.5 L358.6 54.8 L361.7 54.9 L363.2 54.7 L363.6 54.3 L363.8 54.7 L364.1 54.9 L365.0 55.0 L365.1 54.8 L366.7 54.4 L368.9 54.6 L369.5 54.4 L370.8 54.6 L371.5 54.2 L373.6 54.2 L377.1 54.0 L377.5 54.0 L377.5 54.0 L380.1 53.7 L381.9 53.4 L382.6 53.3 L386.0 52.8 L387.1 52.7 L387.4 52.7" stroke="#a33fc4" stroke-width="1.6" fill="none" stroke-linejoin="round"/>
<rect x="94.0" y="39.6" width="309.4" height="268.2" fill="none" stroke="#8c8c8c" stroke-width="1"/>
<path d="M109.5 307.8 v4 M179.0 307.8 v4 M248.5 307.8 v4 M317.9 307.8 v4 M387.4 307.8 v4 M94.0 294.7 h-4 M94.0 234.2 h-4 M94.0 173.7 h-4 M94.0 113.2 h-4 M94.0 52.7 h-4" stroke="#555" stroke-width="1" fill="none"/>
<g font-size="11.6" font-weight="bold" fill="#111" text-anchor="middle">
<text transform="translate(109.5 327.0) scale(1.24 1)">0</text>
<text transform="translate(82.5 294.7) scale(1.07 1) rotate(-90)" font-size="13.3">0</text>
<text transform="translate(179.0 327.0) scale(1.24 1)">0.25</text>
<text transform="translate(82.5 234.2) scale(1.07 1) rotate(-90)" font-size="13.3">0.25</text>
<text transform="translate(248.5 327.0) scale(1.24 1)">0.50</text>
<text transform="translate(82.5 173.7) scale(1.07 1) rotate(-90)" font-size="13.3">0.50</text>
<text transform="translate(317.9 327.0) scale(1.24 1)">0.75</text>
<text transform="translate(82.5 113.2) scale(1.07 1) rotate(-90)" font-size="13.3">0.75</text>
<text transform="translate(387.4 327.0) scale(1.24 1)">1.00</text>
<text transform="translate(82.5 52.7) scale(1.07 1) rotate(-90)" font-size="13.3">1.00</text>
<text transform="translate(247.5 357.0) scale(1.24 1)">1 - specificity</text>
<text transform="translate(23.0 175.5) scale(1.07 1) rotate(-90)" font-size="13.3">Sensitivity</text>
</g>
<text transform="translate(58.8 21.3) scale(1.25 1)" font-size="12" font-weight="bold" fill="#111">A. The DFTJ cohort</text>
<line x1="175.1" y1="220.7" x2="190.9" y2="220.7" stroke="#6a7fb0" stroke-width="1.3"/>
<text transform="translate(198.2 224.6) scale(1.24 1)" font-size="10.9" font-weight="bold" fill="#111">Reference (0.717)</text>
<line x1="175.1" y1="238.9" x2="190.9" y2="238.9" stroke="#2a7f7a" stroke-width="1.3"/>
<text transform="translate(198.2 242.8) scale(1.24 1)" font-size="10.9" font-weight="bold" fill="#111">Metabolites (0.619)</text>
<line x1="175.1" y1="257.6" x2="190.9" y2="257.6" stroke="#5b3b2b" stroke-width="1.3"/>
<text transform="translate(198.2 261.5) scale(1.24 1)" font-size="10.9" font-weight="bold" fill="#111">+Metabolites (0.734)</text>
<line x1="175.1" y1="276.0" x2="190.9" y2="276.0" stroke="#b8574f" stroke-width="1.3"/>
<text transform="translate(198.2 279.9) scale(1.24 1)" font-size="10.9" font-weight="bold" fill="#111">+Glc &amp; FH (0.797)</text>
<line x1="175.1" y1="294.7" x2="190.9" y2="294.7" stroke="#a33fc4" stroke-width="1.3"/>
<text transform="translate(198.2 298.6) scale(1.24 1)" font-size="10.9" font-weight="bold" fill="#111">+Glc &amp; FH &amp; metabolites (0.801)</text>
</svg></div>

<div id="cap"><i>Int J Epidemiol</i> 2016; <i>Diabetologia</i> 2016; <i>J Clin Endocrinol Metab</i> 2018; <i>Metabolites</i> 2019</div>
</body>
</html>
